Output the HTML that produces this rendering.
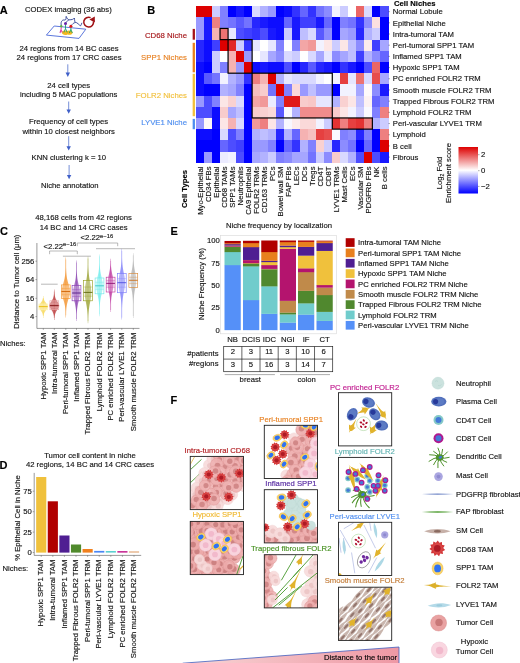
<!DOCTYPE html>
<html lang="en"><head><meta charset="utf-8"><title>Figure: cell niches</title>
<style>
html,body{margin:0;padding:0;background:#fff;}
svg{display:block;font-family:'Liberation Sans', sans-serif;font-size:7.7px;fill:#111;}
text{stroke-width:0.22px;stroke-opacity:0.6;}
</style></head><body>
<svg width="520" height="663" viewBox="0 0 520 663">
<rect width="520" height="663" fill="#fff"/>
<text x="-0.3" y="14" font-weight="bold" font-size="11" fill="#000" stroke="#000">A</text>
<text x="68.4" y="11.9" text-anchor="middle" stroke="#111">CODEX imaging (36 abs)</text>
<text x="69.1" y="51.1" text-anchor="middle" stroke="#111">24 regions from 14 BC cases</text>
<text x="69.1" y="60" text-anchor="middle" stroke="#111">24 regions from 17 CRC cases</text>
<text x="68.7" y="87.5" text-anchor="middle" stroke="#111">24 cell types</text>
<text x="68.7" y="97" text-anchor="middle" stroke="#111">including 5 MAC populations</text>
<text x="68.6" y="124" text-anchor="middle" stroke="#111">Frequency of cell types</text>
<text x="68.7" y="133.5" text-anchor="middle" stroke="#111">within 10 closest neighbors</text>
<text x="68.8" y="160.2" text-anchor="middle" stroke="#111">KNN clustering k = 10</text>
<text x="69.8" y="188" text-anchor="middle" stroke="#111">Niche annotation</text>
<line x1="67.8" y1="64.3" x2="67.8" y2="73.5" stroke="#4a6acb" stroke-width="0.75"/>
<path d="M65.6 72.6 L70 72.6 L67.8 77 Z" fill="#3f5fc8"/>
<line x1="68.7" y1="101.5" x2="68.7" y2="110.3" stroke="#4a6acb" stroke-width="0.75"/>
<path d="M66.5 109.4 L70.9 109.4 L68.7 113.8 Z" fill="#3f5fc8"/>
<line x1="68.7" y1="136.2" x2="68.7" y2="147.1" stroke="#4a6acb" stroke-width="0.75"/>
<path d="M66.5 146.2 L70.9 146.2 L68.7 150.6 Z" fill="#3f5fc8"/>
<line x1="69.1" y1="165" x2="69.1" y2="175.8" stroke="#4a6acb" stroke-width="0.75"/>
<path d="M66.9 174.9 L71.3 174.9 L69.1 179.3 Z" fill="#3f5fc8"/>
<path d="M54.2 26 L85.8 29.2 L79 38.4 L46.4 35.1 Z" fill="none" stroke="#4a68d8" stroke-width="0.9"/>
<path d="M61.8 32.6 C61.8 30.6 64.5 30 66.5 31 C68.5 29.8 72.6 30.4 72.6 32.6 C72.6 34.8 69.5 35.4 67.4 34.4 C65.5 35.6 61.8 34.8 61.8 32.6Z" fill="#f1b822"/>
<path d="M63.9 32.4 L65.5 28.6 L67.2 32.4 M65.5 28.8 L65.5 24.8" stroke="#18a070" stroke-width="0.9" fill="none"/>
<path d="M69.4 33 L70.9 29.4 L72.3 33 M70.9 29.6 L70.9 27.2" stroke="#18a060" stroke-width="0.9" fill="none"/>
<path d="M60 33 L61 29.6 L62.2 32.4 M61 29.8 L61.3 27.2" stroke="#e040a8" stroke-width="1.1" fill="none"/>
<circle cx="65.5" cy="23.4" r="1.5" fill="#6a22a8"/>
<circle cx="70.9" cy="26.3" r="1.5" fill="#e01414"/>
<circle cx="61.2" cy="26.2" r="1.2" fill="#58b040"/>
<path d="M61.2 25.2 C60.6 21 62.5 19.6 64.8 20 C66.8 20 65.6 17.2 66.2 16.4 C67 18.4 67.8 19.8 69.2 19.8 C71.6 19.8 73.6 19.4 74.4 18 C74.6 20.2 74.8 22 75.2 22.4 C77.2 22 79.2 25.4 80.6 25.8 C81.4 24.8 81.6 23.6 81.9 22.8" fill="none" stroke="#2e4094" stroke-width="0.9"/>
<path d="M66.2 22.6 C66.6 21.4 67.6 20.4 69.2 19.8 M71.4 25.2 C72.2 24 73.6 23 75.2 22.4" fill="none" stroke="#2e4094" stroke-width="0.8"/>
<path d="M90.6 17.6 A4.9 4.9 0 1 0 93.5 21.4" fill="none" stroke="#a01216" stroke-width="1.5"/>
<path d="M89.4 19.4 L94.8 16.6 L94.9 22.6 Z" fill="#a01216"/>
<text x="147.2" y="14.4" font-weight="bold" font-size="11" fill="#000" stroke="#000">B</text>
<g shape-rendering="crispEdges">
<rect x="196" y="6.05" width="8.22" height="11.39" fill="#dd0000"/>
<rect x="204.02" y="6.05" width="8.22" height="11.39" fill="#dd0000"/>
<rect x="212.03" y="6.05" width="8.22" height="11.39" fill="#ccccff"/>
<rect x="220.05" y="6.05" width="8.22" height="11.39" fill="#8080ff"/>
<rect x="228.07" y="6.05" width="8.22" height="11.39" fill="#0000ff"/>
<rect x="236.08" y="6.05" width="8.22" height="11.39" fill="#1919ff"/>
<rect x="244.1" y="6.05" width="8.22" height="11.39" fill="#0000ff"/>
<rect x="252.12" y="6.05" width="8.22" height="11.39" fill="#d9d9ff"/>
<rect x="260.14" y="6.05" width="8.22" height="11.39" fill="#b2b2ff"/>
<rect x="268.15" y="6.05" width="8.22" height="11.39" fill="#9999ff"/>
<rect x="276.17" y="6.05" width="8.22" height="11.39" fill="#0000ff"/>
<rect x="284.19" y="6.05" width="8.22" height="11.39" fill="#0d0dff"/>
<rect x="292.2" y="6.05" width="8.22" height="11.39" fill="#3333ff"/>
<rect x="300.22" y="6.05" width="8.22" height="11.39" fill="#6666ff"/>
<rect x="308.24" y="6.05" width="8.22" height="11.39" fill="#3333ff"/>
<rect x="316.25" y="6.05" width="8.22" height="11.39" fill="#7373ff"/>
<rect x="324.27" y="6.05" width="8.22" height="11.39" fill="#8c8cff"/>
<rect x="332.29" y="6.05" width="8.22" height="11.39" fill="#f2f2ff"/>
<rect x="340.31" y="6.05" width="8.22" height="11.39" fill="#ccccff"/>
<rect x="348.32" y="6.05" width="8.22" height="11.39" fill="#ffffff"/>
<rect x="356.34" y="6.05" width="8.22" height="11.39" fill="#eb6666"/>
<rect x="364.36" y="6.05" width="8.22" height="11.39" fill="#d9d9ff"/>
<rect x="372.37" y="6.05" width="8.22" height="11.39" fill="#0000ff"/>
<rect x="380.39" y="6.05" width="8.22" height="11.39" fill="#4d4dff"/>
<rect x="196" y="17.24" width="8.22" height="11.39" fill="#9999ff"/>
<rect x="204.02" y="17.24" width="8.22" height="11.39" fill="#1919ff"/>
<rect x="212.03" y="17.24" width="8.22" height="11.39" fill="#ee8080"/>
<rect x="220.05" y="17.24" width="8.22" height="11.39" fill="#8080ff"/>
<rect x="228.07" y="17.24" width="8.22" height="11.39" fill="#7373ff"/>
<rect x="236.08" y="17.24" width="8.22" height="11.39" fill="#5959ff"/>
<rect x="244.1" y="17.24" width="8.22" height="11.39" fill="#7373ff"/>
<rect x="252.12" y="17.24" width="8.22" height="11.39" fill="#2626ff"/>
<rect x="260.14" y="17.24" width="8.22" height="11.39" fill="#1919ff"/>
<rect x="268.15" y="17.24" width="8.22" height="11.39" fill="#0d0dff"/>
<rect x="276.17" y="17.24" width="8.22" height="11.39" fill="#0d0dff"/>
<rect x="284.19" y="17.24" width="8.22" height="11.39" fill="#6666ff"/>
<rect x="292.2" y="17.24" width="8.22" height="11.39" fill="#1919ff"/>
<rect x="300.22" y="17.24" width="8.22" height="11.39" fill="#4040ff"/>
<rect x="308.24" y="17.24" width="8.22" height="11.39" fill="#4040ff"/>
<rect x="316.25" y="17.24" width="8.22" height="11.39" fill="#1919ff"/>
<rect x="324.27" y="17.24" width="8.22" height="11.39" fill="#6666ff"/>
<rect x="332.29" y="17.24" width="8.22" height="11.39" fill="#0000ff"/>
<rect x="340.31" y="17.24" width="8.22" height="11.39" fill="#8080ff"/>
<rect x="348.32" y="17.24" width="8.22" height="11.39" fill="#7373ff"/>
<rect x="356.34" y="17.24" width="8.22" height="11.39" fill="#3333ff"/>
<rect x="364.36" y="17.24" width="8.22" height="11.39" fill="#8c8cff"/>
<rect x="372.37" y="17.24" width="8.22" height="11.39" fill="#fbe0e0"/>
<rect x="380.39" y="17.24" width="8.22" height="11.39" fill="#0000ff"/>
<rect x="196" y="28.43" width="8.22" height="11.39" fill="#9999ff"/>
<rect x="204.02" y="28.43" width="8.22" height="11.39" fill="#1919ff"/>
<rect x="212.03" y="28.43" width="8.22" height="11.39" fill="#f5b2b2"/>
<rect x="220.05" y="28.43" width="8.22" height="11.39" fill="#ec7373"/>
<rect x="228.07" y="28.43" width="8.22" height="11.39" fill="#e6e6ff"/>
<rect x="236.08" y="28.43" width="8.22" height="11.39" fill="#4d4dff"/>
<rect x="244.1" y="28.43" width="8.22" height="11.39" fill="#4040ff"/>
<rect x="252.12" y="28.43" width="8.22" height="11.39" fill="#3333ff"/>
<rect x="260.14" y="28.43" width="8.22" height="11.39" fill="#4d4dff"/>
<rect x="268.15" y="28.43" width="8.22" height="11.39" fill="#1919ff"/>
<rect x="276.17" y="28.43" width="8.22" height="11.39" fill="#0d0dff"/>
<rect x="284.19" y="28.43" width="8.22" height="11.39" fill="#ccccff"/>
<rect x="292.2" y="28.43" width="8.22" height="11.39" fill="#1919ff"/>
<rect x="300.22" y="28.43" width="8.22" height="11.39" fill="#bfbfff"/>
<rect x="308.24" y="28.43" width="8.22" height="11.39" fill="#d9d9ff"/>
<rect x="316.25" y="28.43" width="8.22" height="11.39" fill="#5959ff"/>
<rect x="324.27" y="28.43" width="8.22" height="11.39" fill="#8c8cff"/>
<rect x="332.29" y="28.43" width="8.22" height="11.39" fill="#0000ff"/>
<rect x="340.31" y="28.43" width="8.22" height="11.39" fill="#a6a6ff"/>
<rect x="348.32" y="28.43" width="8.22" height="11.39" fill="#9999ff"/>
<rect x="356.34" y="28.43" width="8.22" height="11.39" fill="#2626ff"/>
<rect x="364.36" y="28.43" width="8.22" height="11.39" fill="#b2b2ff"/>
<rect x="372.37" y="28.43" width="8.22" height="11.39" fill="#ccccff"/>
<rect x="380.39" y="28.43" width="8.22" height="11.39" fill="#0000ff"/>
<rect x="196" y="39.62" width="8.22" height="11.39" fill="#2626ff"/>
<rect x="204.02" y="39.62" width="8.22" height="11.39" fill="#0d0dff"/>
<rect x="212.03" y="39.62" width="8.22" height="11.39" fill="#4040ff"/>
<rect x="220.05" y="39.62" width="8.22" height="11.39" fill="#dd0000"/>
<rect x="228.07" y="39.62" width="8.22" height="11.39" fill="#e22626"/>
<rect x="236.08" y="39.62" width="8.22" height="11.39" fill="#ccccff"/>
<rect x="244.1" y="39.62" width="8.22" height="11.39" fill="#3333ff"/>
<rect x="252.12" y="39.62" width="8.22" height="11.39" fill="#e6e6ff"/>
<rect x="260.14" y="39.62" width="8.22" height="11.39" fill="#ffffff"/>
<rect x="268.15" y="39.62" width="8.22" height="11.39" fill="#e6e6ff"/>
<rect x="276.17" y="39.62" width="8.22" height="11.39" fill="#8080ff"/>
<rect x="284.19" y="39.62" width="8.22" height="11.39" fill="#ffffff"/>
<rect x="292.2" y="39.62" width="8.22" height="11.39" fill="#8080ff"/>
<rect x="300.22" y="39.62" width="8.22" height="11.39" fill="#f3a6a6"/>
<rect x="308.24" y="39.62" width="8.22" height="11.39" fill="#f19999"/>
<rect x="316.25" y="39.62" width="8.22" height="11.39" fill="#f2f2ff"/>
<rect x="324.27" y="39.62" width="8.22" height="11.39" fill="#fce6e6"/>
<rect x="332.29" y="39.62" width="8.22" height="11.39" fill="#ccccff"/>
<rect x="340.31" y="39.62" width="8.22" height="11.39" fill="#fce6e6"/>
<rect x="348.32" y="39.62" width="8.22" height="11.39" fill="#bfbfff"/>
<rect x="356.34" y="39.62" width="8.22" height="11.39" fill="#8c8cff"/>
<rect x="364.36" y="39.62" width="8.22" height="11.39" fill="#fcebeb"/>
<rect x="372.37" y="39.62" width="8.22" height="11.39" fill="#4040ff"/>
<rect x="380.39" y="39.62" width="8.22" height="11.39" fill="#a6a6ff"/>
<rect x="196" y="50.81" width="8.22" height="11.39" fill="#2626ff"/>
<rect x="204.02" y="50.81" width="8.22" height="11.39" fill="#0d0dff"/>
<rect x="212.03" y="50.81" width="8.22" height="11.39" fill="#ccccff"/>
<rect x="220.05" y="50.81" width="8.22" height="11.39" fill="#ffffff"/>
<rect x="228.07" y="50.81" width="8.22" height="11.39" fill="#f5b2b2"/>
<rect x="236.08" y="50.81" width="8.22" height="11.39" fill="#dd0000"/>
<rect x="244.1" y="50.81" width="8.22" height="11.39" fill="#9999ff"/>
<rect x="252.12" y="50.81" width="8.22" height="11.39" fill="#ffffff"/>
<rect x="260.14" y="50.81" width="8.22" height="11.39" fill="#e6e6ff"/>
<rect x="268.15" y="50.81" width="8.22" height="11.39" fill="#a6a6ff"/>
<rect x="276.17" y="50.81" width="8.22" height="11.39" fill="#8c8cff"/>
<rect x="284.19" y="50.81" width="8.22" height="11.39" fill="#d9d9ff"/>
<rect x="292.2" y="50.81" width="8.22" height="11.39" fill="#ccccff"/>
<rect x="300.22" y="50.81" width="8.22" height="11.39" fill="#ffffff"/>
<rect x="308.24" y="50.81" width="8.22" height="11.39" fill="#d9d9ff"/>
<rect x="316.25" y="50.81" width="8.22" height="11.39" fill="#a6a6ff"/>
<rect x="324.27" y="50.81" width="8.22" height="11.39" fill="#e6e6ff"/>
<rect x="332.29" y="50.81" width="8.22" height="11.39" fill="#8c8cff"/>
<rect x="340.31" y="50.81" width="8.22" height="11.39" fill="#a6a6ff"/>
<rect x="348.32" y="50.81" width="8.22" height="11.39" fill="#bfbfff"/>
<rect x="356.34" y="50.81" width="8.22" height="11.39" fill="#4040ff"/>
<rect x="364.36" y="50.81" width="8.22" height="11.39" fill="#b2b2ff"/>
<rect x="372.37" y="50.81" width="8.22" height="11.39" fill="#8c8cff"/>
<rect x="380.39" y="50.81" width="8.22" height="11.39" fill="#6666ff"/>
<rect x="196" y="62" width="8.22" height="11.39" fill="#0d0dff"/>
<rect x="204.02" y="62" width="8.22" height="11.39" fill="#0000ff"/>
<rect x="212.03" y="62" width="8.22" height="11.39" fill="#ccccff"/>
<rect x="220.05" y="62" width="8.22" height="11.39" fill="#8080ff"/>
<rect x="228.07" y="62" width="8.22" height="11.39" fill="#f5b2b2"/>
<rect x="236.08" y="62" width="8.22" height="11.39" fill="#9999ff"/>
<rect x="244.1" y="62" width="8.22" height="11.39" fill="#dd0000"/>
<rect x="252.12" y="62" width="8.22" height="11.39" fill="#0d0dff"/>
<rect x="260.14" y="62" width="8.22" height="11.39" fill="#1919ff"/>
<rect x="268.15" y="62" width="8.22" height="11.39" fill="#0d0dff"/>
<rect x="276.17" y="62" width="8.22" height="11.39" fill="#0d0dff"/>
<rect x="284.19" y="62" width="8.22" height="11.39" fill="#4d4dff"/>
<rect x="292.2" y="62" width="8.22" height="11.39" fill="#0000ff"/>
<rect x="300.22" y="62" width="8.22" height="11.39" fill="#2626ff"/>
<rect x="308.24" y="62" width="8.22" height="11.39" fill="#5959ff"/>
<rect x="316.25" y="62" width="8.22" height="11.39" fill="#2626ff"/>
<rect x="324.27" y="62" width="8.22" height="11.39" fill="#1919ff"/>
<rect x="332.29" y="62" width="8.22" height="11.39" fill="#0000ff"/>
<rect x="340.31" y="62" width="8.22" height="11.39" fill="#3333ff"/>
<rect x="348.32" y="62" width="8.22" height="11.39" fill="#1919ff"/>
<rect x="356.34" y="62" width="8.22" height="11.39" fill="#0000ff"/>
<rect x="364.36" y="62" width="8.22" height="11.39" fill="#4d4dff"/>
<rect x="372.37" y="62" width="8.22" height="11.39" fill="#eb6666"/>
<rect x="380.39" y="62" width="8.22" height="11.39" fill="#0000ff"/>
<rect x="196" y="73.19" width="8.22" height="11.39" fill="#0d0dff"/>
<rect x="204.02" y="73.19" width="8.22" height="11.39" fill="#5959ff"/>
<rect x="212.03" y="73.19" width="8.22" height="11.39" fill="#7373ff"/>
<rect x="220.05" y="73.19" width="8.22" height="11.39" fill="#f2f2ff"/>
<rect x="228.07" y="73.19" width="8.22" height="11.39" fill="#b2b2ff"/>
<rect x="236.08" y="73.19" width="8.22" height="11.39" fill="#9999ff"/>
<rect x="244.1" y="73.19" width="8.22" height="11.39" fill="#3333ff"/>
<rect x="252.12" y="73.19" width="8.22" height="11.39" fill="#ee8080"/>
<rect x="260.14" y="73.19" width="8.22" height="11.39" fill="#f5b2b2"/>
<rect x="268.15" y="73.19" width="8.22" height="11.39" fill="#dd0000"/>
<rect x="276.17" y="73.19" width="8.22" height="11.39" fill="#b2b2ff"/>
<rect x="284.19" y="73.19" width="8.22" height="11.39" fill="#e6e6ff"/>
<rect x="292.2" y="73.19" width="8.22" height="11.39" fill="#d9d9ff"/>
<rect x="300.22" y="73.19" width="8.22" height="11.39" fill="#d9d9ff"/>
<rect x="308.24" y="73.19" width="8.22" height="11.39" fill="#d9d9ff"/>
<rect x="316.25" y="73.19" width="8.22" height="11.39" fill="#f2f2ff"/>
<rect x="324.27" y="73.19" width="8.22" height="11.39" fill="#ffffff"/>
<rect x="332.29" y="73.19" width="8.22" height="11.39" fill="#f2f2ff"/>
<rect x="340.31" y="73.19" width="8.22" height="11.39" fill="#e64040"/>
<rect x="348.32" y="73.19" width="8.22" height="11.39" fill="#e6e6ff"/>
<rect x="356.34" y="73.19" width="8.22" height="11.39" fill="#ec7373"/>
<rect x="364.36" y="73.19" width="8.22" height="11.39" fill="#d9d9ff"/>
<rect x="372.37" y="73.19" width="8.22" height="11.39" fill="#e74d4d"/>
<rect x="380.39" y="73.19" width="8.22" height="11.39" fill="#a6a6ff"/>
<rect x="196" y="84.38" width="8.22" height="11.39" fill="#0d0dff"/>
<rect x="204.02" y="84.38" width="8.22" height="11.39" fill="#0000ff"/>
<rect x="212.03" y="84.38" width="8.22" height="11.39" fill="#0000ff"/>
<rect x="220.05" y="84.38" width="8.22" height="11.39" fill="#b2b2ff"/>
<rect x="228.07" y="84.38" width="8.22" height="11.39" fill="#a6a6ff"/>
<rect x="236.08" y="84.38" width="8.22" height="11.39" fill="#8080ff"/>
<rect x="244.1" y="84.38" width="8.22" height="11.39" fill="#0000ff"/>
<rect x="252.12" y="84.38" width="8.22" height="11.39" fill="#f6bfbf"/>
<rect x="260.14" y="84.38" width="8.22" height="11.39" fill="#f8cccc"/>
<rect x="268.15" y="84.38" width="8.22" height="11.39" fill="#7373ff"/>
<rect x="276.17" y="84.38" width="8.22" height="11.39" fill="#dd0000"/>
<rect x="284.19" y="84.38" width="8.22" height="11.39" fill="#8080ff"/>
<rect x="292.2" y="84.38" width="8.22" height="11.39" fill="#fad9d9"/>
<rect x="300.22" y="84.38" width="8.22" height="11.39" fill="#9999ff"/>
<rect x="308.24" y="84.38" width="8.22" height="11.39" fill="#bfbfff"/>
<rect x="316.25" y="84.38" width="8.22" height="11.39" fill="#9999ff"/>
<rect x="324.27" y="84.38" width="8.22" height="11.39" fill="#9999ff"/>
<rect x="332.29" y="84.38" width="8.22" height="11.39" fill="#0000ff"/>
<rect x="340.31" y="84.38" width="8.22" height="11.39" fill="#f2f2ff"/>
<rect x="348.32" y="84.38" width="8.22" height="11.39" fill="#f2f2ff"/>
<rect x="356.34" y="84.38" width="8.22" height="11.39" fill="#a6a6ff"/>
<rect x="364.36" y="84.38" width="8.22" height="11.39" fill="#fefafa"/>
<rect x="372.37" y="84.38" width="8.22" height="11.39" fill="#8c8cff"/>
<rect x="380.39" y="84.38" width="8.22" height="11.39" fill="#1919ff"/>
<rect x="196" y="95.57" width="8.22" height="11.39" fill="#9999ff"/>
<rect x="204.02" y="95.57" width="8.22" height="11.39" fill="#4d4dff"/>
<rect x="212.03" y="95.57" width="8.22" height="11.39" fill="#8080ff"/>
<rect x="220.05" y="95.57" width="8.22" height="11.39" fill="#fce6e6"/>
<rect x="228.07" y="95.57" width="8.22" height="11.39" fill="#f9d1d1"/>
<rect x="236.08" y="95.57" width="8.22" height="11.39" fill="#d9d9ff"/>
<rect x="244.1" y="95.57" width="8.22" height="11.39" fill="#0000ff"/>
<rect x="252.12" y="95.57" width="8.22" height="11.39" fill="#f3a6a6"/>
<rect x="260.14" y="95.57" width="8.22" height="11.39" fill="#f19999"/>
<rect x="268.15" y="95.57" width="8.22" height="11.39" fill="#ebebff"/>
<rect x="276.17" y="95.57" width="8.22" height="11.39" fill="#8080ff"/>
<rect x="284.19" y="95.57" width="8.22" height="11.39" fill="#e01919"/>
<rect x="292.2" y="95.57" width="8.22" height="11.39" fill="#e01919"/>
<rect x="300.22" y="95.57" width="8.22" height="11.39" fill="#f8cccc"/>
<rect x="308.24" y="95.57" width="8.22" height="11.39" fill="#f8c7c7"/>
<rect x="316.25" y="95.57" width="8.22" height="11.39" fill="#e6e6ff"/>
<rect x="324.27" y="95.57" width="8.22" height="11.39" fill="#e6e6ff"/>
<rect x="332.29" y="95.57" width="8.22" height="11.39" fill="#b2b2ff"/>
<rect x="340.31" y="95.57" width="8.22" height="11.39" fill="#f9d1d1"/>
<rect x="348.32" y="95.57" width="8.22" height="11.39" fill="#fce6e6"/>
<rect x="356.34" y="95.57" width="8.22" height="11.39" fill="#bfbfff"/>
<rect x="364.36" y="95.57" width="8.22" height="11.39" fill="#fdf2f2"/>
<rect x="372.37" y="95.57" width="8.22" height="11.39" fill="#6666ff"/>
<rect x="380.39" y="95.57" width="8.22" height="11.39" fill="#8080ff"/>
<rect x="196" y="106.76" width="8.22" height="11.39" fill="#4d4dff"/>
<rect x="204.02" y="106.76" width="8.22" height="11.39" fill="#4d4dff"/>
<rect x="212.03" y="106.76" width="8.22" height="11.39" fill="#0d0dff"/>
<rect x="220.05" y="106.76" width="8.22" height="11.39" fill="#f8cccc"/>
<rect x="228.07" y="106.76" width="8.22" height="11.39" fill="#a6a6ff"/>
<rect x="236.08" y="106.76" width="8.22" height="11.39" fill="#bfbfff"/>
<rect x="244.1" y="106.76" width="8.22" height="11.39" fill="#0000ff"/>
<rect x="252.12" y="106.76" width="8.22" height="11.39" fill="#f8cccc"/>
<rect x="260.14" y="106.76" width="8.22" height="11.39" fill="#f9d1d1"/>
<rect x="268.15" y="106.76" width="8.22" height="11.39" fill="#fad9d9"/>
<rect x="276.17" y="106.76" width="8.22" height="11.39" fill="#5959ff"/>
<rect x="284.19" y="106.76" width="8.22" height="11.39" fill="#fafaff"/>
<rect x="292.2" y="106.76" width="8.22" height="11.39" fill="#b2b2ff"/>
<rect x="300.22" y="106.76" width="8.22" height="11.39" fill="#f08c8c"/>
<rect x="308.24" y="106.76" width="8.22" height="11.39" fill="#f08c8c"/>
<rect x="316.25" y="106.76" width="8.22" height="11.39" fill="#f08c8c"/>
<rect x="324.27" y="106.76" width="8.22" height="11.39" fill="#f08c8c"/>
<rect x="332.29" y="106.76" width="8.22" height="11.39" fill="#f8cccc"/>
<rect x="340.31" y="106.76" width="8.22" height="11.39" fill="#fce6e6"/>
<rect x="348.32" y="106.76" width="8.22" height="11.39" fill="#f2f2ff"/>
<rect x="356.34" y="106.76" width="8.22" height="11.39" fill="#ccccff"/>
<rect x="364.36" y="106.76" width="8.22" height="11.39" fill="#fafaff"/>
<rect x="372.37" y="106.76" width="8.22" height="11.39" fill="#8080ff"/>
<rect x="380.39" y="106.76" width="8.22" height="11.39" fill="#ee8080"/>
<rect x="196" y="117.95" width="8.22" height="11.39" fill="#9999ff"/>
<rect x="204.02" y="117.95" width="8.22" height="11.39" fill="#fef7f7"/>
<rect x="212.03" y="117.95" width="8.22" height="11.39" fill="#0d0dff"/>
<rect x="220.05" y="117.95" width="8.22" height="11.39" fill="#fce6e6"/>
<rect x="228.07" y="117.95" width="8.22" height="11.39" fill="#f5b2b2"/>
<rect x="236.08" y="117.95" width="8.22" height="11.39" fill="#d9d9ff"/>
<rect x="244.1" y="117.95" width="8.22" height="11.39" fill="#0000ff"/>
<rect x="252.12" y="117.95" width="8.22" height="11.39" fill="#f19999"/>
<rect x="260.14" y="117.95" width="8.22" height="11.39" fill="#ee8080"/>
<rect x="268.15" y="117.95" width="8.22" height="11.39" fill="#fce6e6"/>
<rect x="276.17" y="117.95" width="8.22" height="11.39" fill="#b2b2ff"/>
<rect x="284.19" y="117.95" width="8.22" height="11.39" fill="#f7f7ff"/>
<rect x="292.2" y="117.95" width="8.22" height="11.39" fill="#fcebeb"/>
<rect x="300.22" y="117.95" width="8.22" height="11.39" fill="#fad9d9"/>
<rect x="308.24" y="117.95" width="8.22" height="11.39" fill="#fad9d9"/>
<rect x="316.25" y="117.95" width="8.22" height="11.39" fill="#f2f2ff"/>
<rect x="324.27" y="117.95" width="8.22" height="11.39" fill="#ccccff"/>
<rect x="332.29" y="117.95" width="8.22" height="11.39" fill="#e43333"/>
<rect x="340.31" y="117.95" width="8.22" height="11.39" fill="#ee8080"/>
<rect x="348.32" y="117.95" width="8.22" height="11.39" fill="#e64040"/>
<rect x="356.34" y="117.95" width="8.22" height="11.39" fill="#e43333"/>
<rect x="364.36" y="117.95" width="8.22" height="11.39" fill="#ee8080"/>
<rect x="372.37" y="117.95" width="8.22" height="11.39" fill="#b2b2ff"/>
<rect x="380.39" y="117.95" width="8.22" height="11.39" fill="#ccccff"/>
<rect x="196" y="129.14" width="8.22" height="11.39" fill="#0d0dff"/>
<rect x="204.02" y="129.14" width="8.22" height="11.39" fill="#0d0dff"/>
<rect x="212.03" y="129.14" width="8.22" height="11.39" fill="#0000ff"/>
<rect x="220.05" y="129.14" width="8.22" height="11.39" fill="#d9d9ff"/>
<rect x="228.07" y="129.14" width="8.22" height="11.39" fill="#4d4dff"/>
<rect x="236.08" y="129.14" width="8.22" height="11.39" fill="#8080ff"/>
<rect x="244.1" y="129.14" width="8.22" height="11.39" fill="#0000ff"/>
<rect x="252.12" y="129.14" width="8.22" height="11.39" fill="#b2b2ff"/>
<rect x="260.14" y="129.14" width="8.22" height="11.39" fill="#bfbfff"/>
<rect x="268.15" y="129.14" width="8.22" height="11.39" fill="#b2b2ff"/>
<rect x="276.17" y="129.14" width="8.22" height="11.39" fill="#2626ff"/>
<rect x="284.19" y="129.14" width="8.22" height="11.39" fill="#b2b2ff"/>
<rect x="292.2" y="129.14" width="8.22" height="11.39" fill="#6666ff"/>
<rect x="300.22" y="129.14" width="8.22" height="11.39" fill="#f5b2b2"/>
<rect x="308.24" y="129.14" width="8.22" height="11.39" fill="#f6bfbf"/>
<rect x="316.25" y="129.14" width="8.22" height="11.39" fill="#e64040"/>
<rect x="324.27" y="129.14" width="8.22" height="11.39" fill="#e74d4d"/>
<rect x="332.29" y="129.14" width="8.22" height="11.39" fill="#fafaff"/>
<rect x="340.31" y="129.14" width="8.22" height="11.39" fill="#8080ff"/>
<rect x="348.32" y="129.14" width="8.22" height="11.39" fill="#8c8cff"/>
<rect x="356.34" y="129.14" width="8.22" height="11.39" fill="#2626ff"/>
<rect x="364.36" y="129.14" width="8.22" height="11.39" fill="#8080ff"/>
<rect x="372.37" y="129.14" width="8.22" height="11.39" fill="#0000ff"/>
<rect x="380.39" y="129.14" width="8.22" height="11.39" fill="#ee8080"/>
<rect x="196" y="140.33" width="8.22" height="11.39" fill="#0000ff"/>
<rect x="204.02" y="140.33" width="8.22" height="11.39" fill="#0000ff"/>
<rect x="212.03" y="140.33" width="8.22" height="11.39" fill="#0000ff"/>
<rect x="220.05" y="140.33" width="8.22" height="11.39" fill="#6666ff"/>
<rect x="228.07" y="140.33" width="8.22" height="11.39" fill="#4d4dff"/>
<rect x="236.08" y="140.33" width="8.22" height="11.39" fill="#4040ff"/>
<rect x="244.1" y="140.33" width="8.22" height="11.39" fill="#0000ff"/>
<rect x="252.12" y="140.33" width="8.22" height="11.39" fill="#9999ff"/>
<rect x="260.14" y="140.33" width="8.22" height="11.39" fill="#9999ff"/>
<rect x="268.15" y="140.33" width="8.22" height="11.39" fill="#8080ff"/>
<rect x="276.17" y="140.33" width="8.22" height="11.39" fill="#0000ff"/>
<rect x="284.19" y="140.33" width="8.22" height="11.39" fill="#6666ff"/>
<rect x="292.2" y="140.33" width="8.22" height="11.39" fill="#3333ff"/>
<rect x="300.22" y="140.33" width="8.22" height="11.39" fill="#b2b2ff"/>
<rect x="308.24" y="140.33" width="8.22" height="11.39" fill="#8080ff"/>
<rect x="316.25" y="140.33" width="8.22" height="11.39" fill="#f9d1d1"/>
<rect x="324.27" y="140.33" width="8.22" height="11.39" fill="#ccccff"/>
<rect x="332.29" y="140.33" width="8.22" height="11.39" fill="#2626ff"/>
<rect x="340.31" y="140.33" width="8.22" height="11.39" fill="#8c8cff"/>
<rect x="348.32" y="140.33" width="8.22" height="11.39" fill="#7373ff"/>
<rect x="356.34" y="140.33" width="8.22" height="11.39" fill="#0000ff"/>
<rect x="364.36" y="140.33" width="8.22" height="11.39" fill="#6666ff"/>
<rect x="372.37" y="140.33" width="8.22" height="11.39" fill="#0000ff"/>
<rect x="380.39" y="140.33" width="8.22" height="11.39" fill="#dd0000"/>
<rect x="196" y="151.52" width="8.22" height="11.39" fill="#0000ff"/>
<rect x="204.02" y="151.52" width="8.22" height="11.39" fill="#9999ff"/>
<rect x="212.03" y="151.52" width="8.22" height="11.39" fill="#0000ff"/>
<rect x="220.05" y="151.52" width="8.22" height="11.39" fill="#ebebff"/>
<rect x="228.07" y="151.52" width="8.22" height="11.39" fill="#f2f2ff"/>
<rect x="236.08" y="151.52" width="8.22" height="11.39" fill="#4d4dff"/>
<rect x="244.1" y="151.52" width="8.22" height="11.39" fill="#0000ff"/>
<rect x="252.12" y="151.52" width="8.22" height="11.39" fill="#a6a6ff"/>
<rect x="260.14" y="151.52" width="8.22" height="11.39" fill="#b2b2ff"/>
<rect x="268.15" y="151.52" width="8.22" height="11.39" fill="#ccccff"/>
<rect x="276.17" y="151.52" width="8.22" height="11.39" fill="#8080ff"/>
<rect x="284.19" y="151.52" width="8.22" height="11.39" fill="#8c8cff"/>
<rect x="292.2" y="151.52" width="8.22" height="11.39" fill="#a6a6ff"/>
<rect x="300.22" y="151.52" width="8.22" height="11.39" fill="#a6a6ff"/>
<rect x="308.24" y="151.52" width="8.22" height="11.39" fill="#7373ff"/>
<rect x="316.25" y="151.52" width="8.22" height="11.39" fill="#ccccff"/>
<rect x="324.27" y="151.52" width="8.22" height="11.39" fill="#8c8cff"/>
<rect x="332.29" y="151.52" width="8.22" height="11.39" fill="#f8cccc"/>
<rect x="340.31" y="151.52" width="8.22" height="11.39" fill="#d9d9ff"/>
<rect x="348.32" y="151.52" width="8.22" height="11.39" fill="#b2b2ff"/>
<rect x="356.34" y="151.52" width="8.22" height="11.39" fill="#4d4dff"/>
<rect x="364.36" y="151.52" width="8.22" height="11.39" fill="#dd0000"/>
<rect x="372.37" y="151.52" width="8.22" height="11.39" fill="#4d4dff"/>
<rect x="380.39" y="151.52" width="8.22" height="11.39" fill="#1919ff"/>
</g>
<rect x="220.05" y="28.43" width="8.02" height="11.19" fill="none" stroke="#000" stroke-width="1.2"/>
<rect x="228.07" y="39.62" width="24.05" height="33.57" fill="none" stroke="#000" stroke-width="1.2"/>
<rect x="252.12" y="73.19" width="80.17" height="44.76" fill="none" stroke="#000" stroke-width="1.2"/>
<rect x="332.29" y="117.95" width="40.08" height="11.19" fill="none" stroke="#000" stroke-width="1.2"/>
<line x1="388.41" y1="11.64" x2="390.01" y2="11.64" stroke="#333" stroke-width="0.4"/>
<text x="392.8" y="14.34" stroke="#111">Normal Lobule</text>
<line x1="388.41" y1="22.84" x2="390.01" y2="22.84" stroke="#333" stroke-width="0.4"/>
<text x="392.8" y="25.54" stroke="#111">Epithelial Niche</text>
<line x1="388.41" y1="34.02" x2="390.01" y2="34.02" stroke="#333" stroke-width="0.4"/>
<text x="392.8" y="36.73" stroke="#111">Intra-tumoral TAM</text>
<line x1="388.41" y1="45.21" x2="390.01" y2="45.21" stroke="#333" stroke-width="0.4"/>
<text x="392.8" y="47.91" stroke="#111">Peri-tumoral SPP1 TAM</text>
<line x1="388.41" y1="56.4" x2="390.01" y2="56.4" stroke="#333" stroke-width="0.4"/>
<text x="392.8" y="59.1" stroke="#111">Inflamed SPP1 TAM</text>
<line x1="388.41" y1="67.59" x2="390.01" y2="67.59" stroke="#333" stroke-width="0.4"/>
<text x="392.8" y="70.3" stroke="#111">Hypoxic SPP1 TAM</text>
<line x1="388.41" y1="78.78" x2="390.01" y2="78.78" stroke="#333" stroke-width="0.4"/>
<text x="392.8" y="81.48" stroke="#111">PC enriched FOLR2 TRM</text>
<line x1="388.41" y1="89.97" x2="390.01" y2="89.97" stroke="#333" stroke-width="0.4"/>
<text x="392.8" y="92.67" stroke="#111">Smooth muscle FOLR2 TRM</text>
<line x1="388.41" y1="101.16" x2="390.01" y2="101.16" stroke="#333" stroke-width="0.4"/>
<text x="392.8" y="103.86" stroke="#111">Trapped Fibrous FOLR2 TRM</text>
<line x1="388.41" y1="112.35" x2="390.01" y2="112.35" stroke="#333" stroke-width="0.4"/>
<text x="392.8" y="115.05" stroke="#111">Lymphoid FOLR2 TRM</text>
<line x1="388.41" y1="123.54" x2="390.01" y2="123.54" stroke="#333" stroke-width="0.4"/>
<text x="392.8" y="126.24" stroke="#111">Peri-vascular LYVE1 TRM</text>
<line x1="388.41" y1="134.74" x2="390.01" y2="134.74" stroke="#333" stroke-width="0.4"/>
<text x="392.8" y="137.44" stroke="#111">Lymphoid</text>
<line x1="388.41" y1="145.93" x2="390.01" y2="145.93" stroke="#333" stroke-width="0.4"/>
<text x="392.8" y="148.62" stroke="#111">B cell</text>
<line x1="388.41" y1="157.12" x2="390.01" y2="157.12" stroke="#333" stroke-width="0.4"/>
<text x="392.8" y="159.81" stroke="#111">Fibrous</text>
<text x="394" y="6" font-weight="bold" fill="#000" stroke="#000">Cell Niches</text>
<text text-anchor="end" stroke="#111" transform="translate(202.71 166.5) rotate(-90)">Myo-Epithelial</text>
<text text-anchor="end" stroke="#111" transform="translate(210.73 166.5) rotate(-90)">CD34 FBs</text>
<text text-anchor="end" stroke="#111" transform="translate(218.74 166.5) rotate(-90)">Epithelial</text>
<text text-anchor="end" stroke="#111" transform="translate(226.76 166.5) rotate(-90)">CD68 TAMs</text>
<text text-anchor="end" stroke="#111" transform="translate(234.78 166.5) rotate(-90)">SPP1 TAMs</text>
<text text-anchor="end" stroke="#111" transform="translate(242.79 166.5) rotate(-90)">Neutrophils</text>
<text text-anchor="end" stroke="#111" transform="translate(250.81 166.5) rotate(-90)">CA9 Epithelial</text>
<text text-anchor="end" stroke="#111" transform="translate(258.83 166.5) rotate(-90)">FOLR2 TRMs</text>
<text text-anchor="end" stroke="#111" transform="translate(266.84 166.5) rotate(-90)">CD163 TRMs</text>
<text text-anchor="end" stroke="#111" transform="translate(274.86 166.5) rotate(-90)">PCs</text>
<text text-anchor="end" stroke="#111" transform="translate(282.88 166.5) rotate(-90)">Bowel wall SM</text>
<text text-anchor="end" stroke="#111" transform="translate(290.9 166.5) rotate(-90)">FAP FBs</text>
<text text-anchor="end" stroke="#111" transform="translate(298.91 166.5) rotate(-90)">LECs</text>
<text text-anchor="end" stroke="#111" transform="translate(306.93 166.5) rotate(-90)">DCs</text>
<text text-anchor="end" stroke="#111" transform="translate(314.95 166.5) rotate(-90)">Tregs</text>
<text text-anchor="end" stroke="#111" transform="translate(322.96 166.5) rotate(-90)">CD4T</text>
<text text-anchor="end" stroke="#111" transform="translate(330.98 166.5) rotate(-90)">CD8T</text>
<text text-anchor="end" stroke="#111" transform="translate(339 166.5) rotate(-90)">LYVE1 TRMs</text>
<text text-anchor="end" stroke="#111" transform="translate(347.01 166.5) rotate(-90)">Mast Cells</text>
<text text-anchor="end" stroke="#111" transform="translate(355.03 166.5) rotate(-90)">ECs</text>
<text text-anchor="end" stroke="#111" transform="translate(363.05 166.5) rotate(-90)">Vascular SM</text>
<text text-anchor="end" stroke="#111" transform="translate(371.07 166.5) rotate(-90)">PDGFRb FBs</text>
<text text-anchor="end" stroke="#111" transform="translate(379.08 166.5) rotate(-90)">NK</text>
<text text-anchor="end" stroke="#111" transform="translate(387.1 166.5) rotate(-90)">B cells</text>
<text text-anchor="middle" font-weight="bold" fill="#000" stroke="#000" transform="translate(187.3 189) rotate(-90)">Cell Types</text>
<line x1="193.8" y1="28.9" x2="193.8" y2="39.7" stroke="#a51417" stroke-width="2.3"/>
<text x="187" y="37.9" text-anchor="end" font-size="7.8" fill="#a51417" stroke="#a51417">CD68 Niche</text>
<line x1="193.8" y1="42.8" x2="193.8" y2="72.3" stroke="#e8801f" stroke-width="2.3"/>
<text x="187" y="59.7" text-anchor="end" font-size="7.8" fill="#e8801f" stroke="#e8801f">SPP1 Niches</text>
<line x1="193.8" y1="73.8" x2="193.8" y2="116.2" stroke="#f2bf3a" stroke-width="2.3"/>
<text x="187" y="98.2" text-anchor="end" font-size="7.8" fill="#f2bf3a" stroke="#f2bf3a">FOLR2 Niches</text>
<line x1="193.8" y1="118.9" x2="193.8" y2="129.2" stroke="#4d8df0" stroke-width="2.3"/>
<text x="187" y="124.6" text-anchor="end" font-size="7.8" fill="#4d8df0" stroke="#4d8df0">LYVE1 Niche</text>
<defs><linearGradient id="cb" x1="0" y1="0" x2="0" y2="1"><stop offset="0" stop-color="#dd0000"/><stop offset="0.5" stop-color="#fff"/><stop offset="1" stop-color="#0000ff"/></linearGradient></defs>
<rect x="458.5" y="147" width="19.5" height="46.5" fill="url(#cb)"/>
<line x1="478" y1="154.7" x2="479.6" y2="154.7" stroke="#333" stroke-width="0.4"/>
<text x="481" y="157.4" stroke="#111">2</text>
<line x1="478" y1="170.7" x2="479.6" y2="170.7" stroke="#333" stroke-width="0.4"/>
<text x="481" y="173.4" stroke="#111">0</text>
<line x1="478" y1="186.4" x2="479.6" y2="186.4" stroke="#333" stroke-width="0.4"/>
<text x="481" y="189.1" stroke="#111">−2</text>
<text stroke="#111" transform="translate(442.4 173) rotate(-90)" text-anchor="middle">Log<tspan font-size="5" dy="1.5">2</tspan><tspan dy="-1.5"> Fold</tspan></text>
<text text-anchor="middle" stroke="#111" transform="translate(451.2 173) rotate(-90)">Enrichment score</text>
<text x="0.1" y="234.8" font-weight="bold" font-size="11" fill="#000" stroke="#000">C</text>
<text x="83.6" y="220.2" text-anchor="middle" stroke="#111">48,168 cells from 42 regions</text>
<text x="83.7" y="229.6" text-anchor="middle" stroke="#111">14 BC and 14 CRC cases</text>
<line x1="36.9" y1="243" x2="36.9" y2="328.4" stroke="#333" stroke-width="0.5"/>
<line x1="36.9" y1="328.4" x2="139.5" y2="328.4" stroke="#333" stroke-width="0.5"/>
<line x1="35.4" y1="261.2" x2="36.9" y2="261.2" stroke="#333" stroke-width="0.4"/>
<text x="34.4" y="263.9" text-anchor="end" stroke="#111">256</text>
<line x1="35.4" y1="279.6" x2="36.9" y2="279.6" stroke="#333" stroke-width="0.4"/>
<text x="34.4" y="282.3" text-anchor="end" stroke="#111">64</text>
<line x1="35.4" y1="298.3" x2="36.9" y2="298.3" stroke="#333" stroke-width="0.4"/>
<text x="34.4" y="301" text-anchor="end" stroke="#111">16</text>
<line x1="35.4" y1="316.6" x2="36.9" y2="316.6" stroke="#333" stroke-width="0.4"/>
<text x="34.4" y="319.3" text-anchor="end" stroke="#111">4</text>
<text text-anchor="middle" stroke="#111" transform="translate(19.2 281.7) rotate(-90)">Distance to Tumor cell (μm)</text>
<path d="M43.1 296 L43.1 296.55 L43.1 297.1 L43.07 297.65 L42.98 298.2 L42.86 298.75 L42.71 299.3 L42.52 299.85 L42.28 300.4 L42 300.95 L41.67 301.5 L41.3 302.05 L40.9 302.6 L40.49 303.15 L40.07 303.7 L39.68 304.25 L39.34 304.8 L39.07 305.35 L38.89 305.9 L38.8 306.45 L38.83 307 L38.96 307.55 L39.18 308.1 L39.48 308.65 L39.84 309.2 L40.23 309.75 L40.64 310.3 L41.05 310.85 L41.43 311.4 L41.78 311.95 L42.09 312.5 L42.35 313.05 L42.56 313.6 L42.74 314.15 L42.88 314.7 L42.99 315.25 L43.07 315.8 L43.1 316.35 L43.1 316.9 L43.1 317.45 L43.1 318 L43.5 318 L43.5 317.45 L43.5 316.9 L43.5 316.35 L43.53 315.8 L43.61 315.25 L43.72 314.7 L43.86 314.15 L44.04 313.6 L44.25 313.05 L44.51 312.5 L44.82 311.95 L45.17 311.4 L45.55 310.85 L45.96 310.3 L46.37 309.75 L46.76 309.2 L47.12 308.65 L47.42 308.1 L47.64 307.55 L47.77 307 L47.8 306.45 L47.71 305.9 L47.53 305.35 L47.26 304.8 L46.92 304.25 L46.53 303.7 L46.11 303.15 L45.7 302.6 L45.3 302.05 L44.93 301.5 L44.6 300.95 L44.32 300.4 L44.08 299.85 L43.89 299.3 L43.74 298.75 L43.62 298.2 L43.53 297.65 L43.5 297.1 L43.5 296.55 L43.5 296Z" fill="#f6d23c" fill-opacity="0.66"/>
<line x1="43.3" y1="298" x2="43.3" y2="316" stroke="#f6d23c" stroke-width="0.5" stroke-opacity="0.6"/>
<path d="M54.1 289.5 L54.1 290.26 L54.1 291.02 L54.1 291.79 L54.1 292.55 L54.08 293.31 L54.01 294.07 L53.92 294.84 L53.81 295.6 L53.65 296.36 L53.44 297.12 L53.18 297.89 L52.86 298.65 L52.47 299.41 L52.03 300.18 L51.54 300.94 L51.04 301.7 L50.54 302.46 L50.09 303.23 L49.73 303.99 L49.5 304.75 L49.4 305.51 L49.46 306.27 L49.67 307.04 L50.01 307.8 L50.45 308.56 L50.95 309.32 L51.47 310.09 L51.98 310.85 L52.44 311.61 L52.85 312.38 L53.19 313.14 L53.47 313.9 L53.69 314.66 L53.85 315.43 L53.98 316.19 L54.07 316.95 L54.1 317.71 L54.1 318.48 L54.1 319.24 L54.1 320 L54.5 320 L54.5 319.24 L54.5 318.48 L54.5 317.71 L54.53 316.95 L54.62 316.19 L54.75 315.43 L54.91 314.66 L55.13 313.9 L55.41 313.14 L55.75 312.38 L56.16 311.61 L56.62 310.85 L57.13 310.09 L57.65 309.32 L58.15 308.56 L58.59 307.8 L58.93 307.04 L59.14 306.27 L59.2 305.51 L59.1 304.75 L58.87 303.99 L58.51 303.23 L58.06 302.46 L57.56 301.7 L57.06 300.94 L56.57 300.18 L56.13 299.41 L55.74 298.65 L55.42 297.89 L55.16 297.12 L54.95 296.36 L54.79 295.6 L54.68 294.84 L54.59 294.07 L54.52 293.31 L54.5 292.55 L54.5 291.79 L54.5 291.02 L54.5 290.26 L54.5 289.5Z" fill="#b01a1c" fill-opacity="0.66"/>
<line x1="54.3" y1="291.5" x2="54.3" y2="318" stroke="#b01a1c" stroke-width="0.5" stroke-opacity="0.6"/>
<path d="M65.6 257.5 L65.6 259 L65.6 260.5 L65.6 261.99 L65.6 263.49 L65.6 264.99 L65.6 266.49 L65.57 267.98 L65.51 269.48 L65.44 270.98 L65.34 272.48 L65.2 273.97 L65.03 275.47 L64.81 276.97 L64.54 278.46 L64.21 279.96 L63.82 281.46 L63.4 282.96 L62.97 284.45 L62.55 285.95 L62.18 287.45 L61.9 288.95 L61.73 290.44 L61.71 291.94 L61.82 293.44 L62.07 294.94 L62.42 296.44 L62.84 297.93 L63.3 299.43 L63.75 300.93 L64.17 302.42 L64.55 303.92 L64.86 305.42 L65.11 306.92 L65.3 308.41 L65.45 309.91 L65.55 311.41 L65.6 312.91 L65.6 314.4 L65.6 315.9 L65.6 317.4 L66 317.4 L66 315.9 L66 314.4 L66 312.91 L66.05 311.41 L66.15 309.91 L66.3 308.41 L66.49 306.92 L66.74 305.42 L67.05 303.92 L67.43 302.42 L67.85 300.93 L68.3 299.43 L68.76 297.93 L69.18 296.44 L69.53 294.94 L69.78 293.44 L69.89 291.94 L69.87 290.44 L69.7 288.95 L69.42 287.45 L69.05 285.95 L68.63 284.45 L68.2 282.96 L67.78 281.46 L67.39 279.96 L67.06 278.46 L66.79 276.97 L66.57 275.47 L66.4 273.97 L66.26 272.48 L66.16 270.98 L66.09 269.48 L66.03 267.98 L66 266.49 L66 264.99 L66 263.49 L66 261.99 L66 260.5 L66 259 L66 257.5Z" fill="#f2820e" fill-opacity="0.66"/>
<line x1="65.8" y1="259.5" x2="65.8" y2="315.4" stroke="#f2820e" stroke-width="0.5" stroke-opacity="0.6"/>
<path d="M76.3 260.5 L76.3 262.01 L76.3 263.52 L76.3 265.04 L76.3 266.55 L76.3 268.06 L76.3 269.57 L76.25 271.09 L76.18 272.6 L76.08 274.11 L75.94 275.62 L75.78 277.14 L75.57 278.65 L75.32 280.16 L75.02 281.68 L74.7 283.19 L74.35 284.7 L74 286.21 L73.68 287.73 L73.41 289.24 L73.21 290.75 L73.11 292.26 L73.11 293.77 L73.22 295.29 L73.43 296.8 L73.71 298.31 L74.04 299.82 L74.39 301.34 L74.75 302.85 L75.08 304.36 L75.39 305.88 L75.64 307.39 L75.85 308.9 L76.02 310.41 L76.15 311.93 L76.25 313.44 L76.3 314.95 L76.3 316.46 L76.3 317.98 L76.3 319.49 L76.3 321 L76.7 321 L76.7 319.49 L76.7 317.98 L76.7 316.46 L76.7 314.95 L76.75 313.44 L76.85 311.93 L76.98 310.41 L77.15 308.9 L77.36 307.39 L77.61 305.88 L77.92 304.36 L78.25 302.85 L78.61 301.34 L78.96 299.82 L79.29 298.31 L79.57 296.8 L79.78 295.29 L79.89 293.77 L79.89 292.26 L79.79 290.75 L79.59 289.24 L79.32 287.73 L79 286.21 L78.65 284.7 L78.3 283.19 L77.98 281.68 L77.68 280.16 L77.43 278.65 L77.22 277.14 L77.06 275.62 L76.92 274.11 L76.82 272.6 L76.75 271.09 L76.7 269.57 L76.7 268.06 L76.7 266.55 L76.7 265.04 L76.7 263.52 L76.7 262.01 L76.7 260.5Z" fill="#7a28a6" fill-opacity="0.66"/>
<line x1="76.5" y1="262.5" x2="76.5" y2="319" stroke="#7a28a6" stroke-width="0.5" stroke-opacity="0.6"/>
<path d="M87.8 256.5 L87.8 258.17 L87.8 259.83 L87.8 261.5 L87.8 263.17 L87.8 264.84 L87.76 266.5 L87.68 268.17 L87.58 269.84 L87.45 271.51 L87.3 273.18 L87.1 274.84 L86.88 276.51 L86.62 278.18 L86.34 279.84 L86.03 281.51 L85.73 283.18 L85.43 284.85 L85.17 286.51 L84.95 288.18 L84.79 289.85 L84.71 291.52 L84.71 293.19 L84.79 294.85 L84.95 296.52 L85.17 298.19 L85.44 299.86 L85.75 301.52 L86.06 303.19 L86.37 304.86 L86.67 306.52 L86.93 308.19 L87.16 309.86 L87.36 311.53 L87.52 313.19 L87.65 314.86 L87.74 316.53 L87.8 318.2 L87.8 319.87 L87.8 321.53 L87.8 323.2 L88.2 323.2 L88.2 321.53 L88.2 319.87 L88.2 318.2 L88.26 316.53 L88.35 314.86 L88.48 313.19 L88.64 311.53 L88.84 309.86 L89.07 308.19 L89.33 306.52 L89.63 304.86 L89.94 303.19 L90.25 301.52 L90.56 299.86 L90.83 298.19 L91.05 296.52 L91.21 294.85 L91.29 293.19 L91.29 291.52 L91.21 289.85 L91.05 288.18 L90.83 286.51 L90.57 284.85 L90.27 283.18 L89.97 281.51 L89.66 279.84 L89.38 278.18 L89.12 276.51 L88.9 274.84 L88.7 273.18 L88.55 271.51 L88.42 269.84 L88.32 268.17 L88.24 266.5 L88.2 264.84 L88.2 263.17 L88.2 261.5 L88.2 259.83 L88.2 258.17 L88.2 256.5Z" fill="#8c9414" fill-opacity="0.66"/>
<line x1="88" y1="258.5" x2="88" y2="321.2" stroke="#8c9414" stroke-width="0.5" stroke-opacity="0.6"/>
<path d="M99.3 254.4 L99.3 255.95 L99.3 257.5 L99.3 259.04 L99.3 260.59 L99.3 262.14 L99.28 263.69 L99.21 265.23 L99.11 266.78 L98.99 268.33 L98.82 269.88 L98.61 271.42 L98.36 272.97 L98.07 274.52 L97.74 276.06 L97.39 277.61 L97.05 279.16 L96.73 280.71 L96.47 282.25 L96.29 283.8 L96.2 285.35 L96.23 286.9 L96.35 288.44 L96.57 289.99 L96.86 291.54 L97.2 293.09 L97.55 294.63 L97.89 296.18 L98.21 297.73 L98.49 299.28 L98.72 300.82 L98.91 302.37 L99.06 303.92 L99.17 305.47 L99.26 307.01 L99.3 308.56 L99.3 310.11 L99.3 311.66 L99.3 313.21 L99.3 314.75 L99.3 316.3 L99.7 316.3 L99.7 314.75 L99.7 313.21 L99.7 311.66 L99.7 310.11 L99.7 308.56 L99.74 307.01 L99.83 305.47 L99.94 303.92 L100.09 302.37 L100.28 300.82 L100.51 299.28 L100.79 297.73 L101.11 296.18 L101.45 294.63 L101.8 293.09 L102.14 291.54 L102.43 289.99 L102.65 288.44 L102.77 286.9 L102.8 285.35 L102.71 283.8 L102.53 282.25 L102.27 280.71 L101.95 279.16 L101.61 277.61 L101.26 276.06 L100.93 274.52 L100.64 272.97 L100.39 271.42 L100.18 269.88 L100.01 268.33 L99.89 266.78 L99.79 265.23 L99.72 263.69 L99.7 262.14 L99.7 260.59 L99.7 259.04 L99.7 257.5 L99.7 255.95 L99.7 254.4Z" fill="#5eeaea" fill-opacity="0.66"/>
<line x1="99.5" y1="256.4" x2="99.5" y2="314.3" stroke="#5eeaea" stroke-width="0.5" stroke-opacity="0.6"/>
<path d="M110.4 258.8 L110.4 260.13 L110.4 261.46 L110.4 262.79 L110.37 264.12 L110.28 265.45 L110.16 266.78 L110.02 268.11 L109.84 269.44 L109.63 270.77 L109.39 272.1 L109.12 273.43 L108.84 274.76 L108.55 276.09 L108.28 277.42 L108.03 278.75 L107.83 280.08 L107.68 281.41 L107.61 282.74 L107.61 284.07 L107.68 285.4 L107.82 286.73 L108.02 288.06 L108.26 289.39 L108.52 290.72 L108.8 292.05 L109.08 293.38 L109.33 294.71 L109.57 296.04 L109.78 297.37 L109.95 298.7 L110.1 300.03 L110.21 301.36 L110.31 302.69 L110.38 304.02 L110.4 305.35 L110.4 306.68 L110.4 308.01 L110.4 309.34 L110.4 310.67 L110.4 312 L110.8 312 L110.8 310.67 L110.8 309.34 L110.8 308.01 L110.8 306.68 L110.8 305.35 L110.82 304.02 L110.89 302.69 L110.99 301.36 L111.1 300.03 L111.25 298.7 L111.42 297.37 L111.63 296.04 L111.87 294.71 L112.12 293.38 L112.4 292.05 L112.68 290.72 L112.94 289.39 L113.18 288.06 L113.38 286.73 L113.52 285.4 L113.59 284.07 L113.59 282.74 L113.52 281.41 L113.37 280.08 L113.17 278.75 L112.92 277.42 L112.65 276.09 L112.36 274.76 L112.08 273.43 L111.81 272.1 L111.57 270.77 L111.36 269.44 L111.18 268.11 L111.04 266.78 L110.92 265.45 L110.83 264.12 L110.8 262.79 L110.8 261.46 L110.8 260.13 L110.8 258.8Z" fill="#b41a92" fill-opacity="0.66"/>
<line x1="110.6" y1="260.8" x2="110.6" y2="310" stroke="#b41a92" stroke-width="0.5" stroke-opacity="0.6"/>
<path d="M121.6 248.8 L121.6 250.57 L121.6 252.34 L121.6 254.11 L121.6 255.88 L121.6 257.65 L121.54 259.42 L121.44 261.19 L121.31 262.96 L121.15 264.73 L120.94 266.5 L120.68 268.27 L120.38 270.04 L120.04 271.81 L119.68 273.58 L119.33 275.35 L119.01 277.12 L118.75 278.89 L118.57 280.66 L118.5 282.43 L118.54 284.2 L118.68 285.97 L118.92 287.74 L119.22 289.51 L119.56 291.28 L119.91 293.05 L120.25 294.82 L120.56 296.59 L120.83 298.36 L121.05 300.13 L121.23 301.9 L121.36 303.67 L121.47 305.44 L121.55 307.21 L121.6 308.98 L121.6 310.75 L121.6 312.52 L121.6 314.29 L121.6 316.06 L121.6 317.83 L121.6 319.6 L122 319.6 L122 317.83 L122 316.06 L122 314.29 L122 312.52 L122 310.75 L122 308.98 L122.05 307.21 L122.13 305.44 L122.24 303.67 L122.37 301.9 L122.55 300.13 L122.77 298.36 L123.04 296.59 L123.35 294.82 L123.69 293.05 L124.04 291.28 L124.38 289.51 L124.68 287.74 L124.92 285.97 L125.06 284.2 L125.1 282.43 L125.03 280.66 L124.85 278.89 L124.59 277.12 L124.27 275.35 L123.92 273.58 L123.56 271.81 L123.22 270.04 L122.92 268.27 L122.66 266.5 L122.45 264.73 L122.29 262.96 L122.16 261.19 L122.06 259.42 L122 257.65 L122 255.88 L122 254.11 L122 252.34 L122 250.57 L122 248.8Z" fill="#6e6ef8" fill-opacity="0.66"/>
<line x1="121.8" y1="250.8" x2="121.8" y2="317.6" stroke="#6e6ef8" stroke-width="0.5" stroke-opacity="0.6"/>
<path d="M133.1 253.3 L133.1 254.92 L133.1 256.54 L133.1 258.15 L133.1 259.77 L133.01 261.39 L132.88 263 L132.72 264.62 L132.51 266.24 L132.26 267.86 L131.96 269.48 L131.63 271.09 L131.29 272.71 L130.96 274.33 L130.67 275.94 L130.45 277.56 L130.33 279.18 L130.3 280.8 L130.39 282.42 L130.56 284.03 L130.81 285.65 L131.11 287.27 L131.43 288.88 L131.75 290.5 L132.04 292.12 L132.3 293.74 L132.51 295.36 L132.68 296.97 L132.82 298.59 L132.92 300.21 L133 301.82 L133.06 303.44 L133.1 305.06 L133.1 306.68 L133.1 308.3 L133.1 309.91 L133.1 311.53 L133.1 313.15 L133.1 314.76 L133.1 316.38 L133.1 318 L133.5 318 L133.5 316.38 L133.5 314.76 L133.5 313.15 L133.5 311.53 L133.5 309.91 L133.5 308.3 L133.5 306.68 L133.5 305.06 L133.54 303.44 L133.6 301.82 L133.68 300.21 L133.78 298.59 L133.92 296.97 L134.09 295.36 L134.3 293.74 L134.56 292.12 L134.85 290.5 L135.17 288.88 L135.49 287.27 L135.79 285.65 L136.04 284.03 L136.21 282.42 L136.3 280.8 L136.27 279.18 L136.15 277.56 L135.93 275.94 L135.64 274.33 L135.31 272.71 L134.97 271.09 L134.64 269.48 L134.34 267.86 L134.09 266.24 L133.88 264.62 L133.72 263 L133.59 261.39 L133.5 259.77 L133.5 258.15 L133.5 256.54 L133.5 254.92 L133.5 253.3Z" fill="#a6a6a6" fill-opacity="0.66"/>
<line x1="133.3" y1="255.3" x2="133.3" y2="316" stroke="#a6a6a6" stroke-width="0.5" stroke-opacity="0.6"/>
<rect x="38.9" y="304" width="8.8" height="5.8" fill="#fff" stroke="#fff3b0" stroke-width="0.65" fill-opacity="0.22"/>
<line x1="38.9" y1="305.43" x2="47.7" y2="305.43" stroke="#fff3b0" stroke-width="0.35"/>
<line x1="38.9" y1="308.04" x2="47.7" y2="308.04" stroke="#fff3b0" stroke-width="0.35"/>
<line x1="38.9" y1="306.6" x2="47.7" y2="306.6" stroke="#e9b800" stroke-width="0.85"/>
<rect x="49.9" y="300.8" width="8.8" height="8.9" fill="#fff" stroke="#eaa6a6" stroke-width="0.65" fill-opacity="0.22"/>
<line x1="49.9" y1="303.44" x2="58.7" y2="303.44" stroke="#eaa6a6" stroke-width="0.35"/>
<line x1="49.9" y1="307.44" x2="58.7" y2="307.44" stroke="#eaa6a6" stroke-width="0.35"/>
<line x1="49.9" y1="305.6" x2="58.7" y2="305.6" stroke="#7c0a0c" stroke-width="0.85"/>
<rect x="61.4" y="284.9" width="8.8" height="13.7" fill="#fff" stroke="#f59428" stroke-width="0.65" fill-opacity="0.22"/>
<line x1="61.4" y1="288.53" x2="70.2" y2="288.53" stroke="#f59428" stroke-width="0.35"/>
<line x1="61.4" y1="294.69" x2="70.2" y2="294.69" stroke="#f59428" stroke-width="0.35"/>
<line x1="61.4" y1="291.5" x2="70.2" y2="291.5" stroke="#d06000" stroke-width="0.85"/>
<rect x="72.1" y="285.4" width="8.8" height="15.4" fill="#fff" stroke="#8a3cb4" stroke-width="0.65" fill-opacity="0.22"/>
<line x1="72.1" y1="289.58" x2="80.9" y2="289.58" stroke="#8a3cb4" stroke-width="0.35"/>
<line x1="72.1" y1="296.51" x2="80.9" y2="296.51" stroke="#8a3cb4" stroke-width="0.35"/>
<line x1="72.1" y1="293" x2="80.9" y2="293" stroke="#4a1080" stroke-width="0.85"/>
<rect x="83.6" y="280.5" width="8.8" height="20.3" fill="#fff" stroke="#98a024" stroke-width="0.65" fill-opacity="0.22"/>
<line x1="83.6" y1="287.04" x2="92.4" y2="287.04" stroke="#98a024" stroke-width="0.35"/>
<line x1="83.6" y1="296.18" x2="92.4" y2="296.18" stroke="#98a024" stroke-width="0.35"/>
<line x1="83.6" y1="292.4" x2="92.4" y2="292.4" stroke="#5a6206" stroke-width="0.85"/>
<rect x="95.1" y="278" width="8.8" height="15.8" fill="#fff" stroke="#6ee8e8" stroke-width="0.65" fill-opacity="0.22"/>
<line x1="95.1" y1="282.29" x2="103.9" y2="282.29" stroke="#6ee8e8" stroke-width="0.35"/>
<line x1="95.1" y1="289.4" x2="103.9" y2="289.4" stroke="#6ee8e8" stroke-width="0.35"/>
<line x1="95.1" y1="285.8" x2="103.9" y2="285.8" stroke="#30c4c4" stroke-width="0.85"/>
<rect x="106.2" y="277.2" width="8.8" height="14.8" fill="#fff" stroke="#c038a0" stroke-width="0.65" fill-opacity="0.22"/>
<line x1="106.2" y1="280.61" x2="115" y2="280.61" stroke="#c038a0" stroke-width="0.35"/>
<line x1="106.2" y1="287.27" x2="115" y2="287.27" stroke="#c038a0" stroke-width="0.35"/>
<line x1="106.2" y1="283.4" x2="115" y2="283.4" stroke="#8c0c70" stroke-width="0.85"/>
<rect x="117.4" y="273.6" width="8.8" height="19.1" fill="#fff" stroke="#7c7cfa" stroke-width="0.65" fill-opacity="0.22"/>
<line x1="117.4" y1="278.61" x2="126.2" y2="278.61" stroke="#7c7cfa" stroke-width="0.35"/>
<line x1="117.4" y1="287.2" x2="126.2" y2="287.2" stroke="#7c7cfa" stroke-width="0.35"/>
<line x1="117.4" y1="282.7" x2="126.2" y2="282.7" stroke="#4848e0" stroke-width="0.85"/>
<rect x="128.9" y="273.6" width="8.8" height="14" fill="#fff" stroke="#d88a3c" stroke-width="0.65" fill-opacity="0.22"/>
<line x1="128.9" y1="277.29" x2="137.7" y2="277.29" stroke="#d88a3c" stroke-width="0.35"/>
<line x1="128.9" y1="283.59" x2="137.7" y2="283.59" stroke="#d88a3c" stroke-width="0.35"/>
<line x1="128.9" y1="280.3" x2="137.7" y2="280.3" stroke="#c86a14" stroke-width="0.85"/>
<line x1="41" y1="284.2" x2="57.7" y2="284.2" stroke="#8a8a8a" stroke-width="0.6"/>
<line x1="62.9" y1="256.2" x2="90.9" y2="256.2" stroke="#8a8a8a" stroke-width="0.6"/>
<line x1="96" y1="248.7" x2="135" y2="248.7" stroke="#8a8a8a" stroke-width="0.6"/>
<path d="M49.6 254.2 V251 H77.3 V254.2" fill="none" stroke="#8a8a8a" stroke-width="0.6"/>
<path d="M77.3 246.2 V243 H117.7 V246.2" fill="none" stroke="#8a8a8a" stroke-width="0.6"/>
<text stroke="#111" x="43.6" y="248.6">&lt;2.22<tspan font-size="5.8" dy="-2.6">e−16</tspan></text>
<text stroke="#111" x="80.6" y="240.4">&lt;2.22<tspan font-size="5.8" dy="-2.6">e−16</tspan></text>
<line x1="43.3" y1="328.4" x2="43.3" y2="329.9" stroke="#333" stroke-width="0.4"/>
<text text-anchor="end" stroke="#111" transform="translate(45.5 332.7) rotate(-90)">Hypoxic SPP1 TAM</text>
<line x1="54.3" y1="328.4" x2="54.3" y2="329.9" stroke="#333" stroke-width="0.4"/>
<text text-anchor="end" stroke="#111" transform="translate(56.5 332.7) rotate(-90)">Intra-tumoral TAM</text>
<line x1="65.8" y1="328.4" x2="65.8" y2="329.9" stroke="#333" stroke-width="0.4"/>
<text text-anchor="end" stroke="#111" transform="translate(68 332.7) rotate(-90)">Peri-tumoral SPP1 TAM</text>
<line x1="76.5" y1="328.4" x2="76.5" y2="329.9" stroke="#333" stroke-width="0.4"/>
<text text-anchor="end" stroke="#111" transform="translate(78.7 332.7) rotate(-90)">Inflamed SPP1 TAM</text>
<line x1="88" y1="328.4" x2="88" y2="329.9" stroke="#333" stroke-width="0.4"/>
<text text-anchor="end" stroke="#111" transform="translate(90.2 332.7) rotate(-90)">Trapped Fibrous FOLR2 TRM</text>
<line x1="99.5" y1="328.4" x2="99.5" y2="329.9" stroke="#333" stroke-width="0.4"/>
<text text-anchor="end" stroke="#111" transform="translate(101.7 332.7) rotate(-90)">Lymphoid FOLR2 TRM</text>
<line x1="110.6" y1="328.4" x2="110.6" y2="329.9" stroke="#333" stroke-width="0.4"/>
<text text-anchor="end" stroke="#111" transform="translate(112.8 332.7) rotate(-90)">PC enriched FOLR2 TRM</text>
<line x1="121.8" y1="328.4" x2="121.8" y2="329.9" stroke="#333" stroke-width="0.4"/>
<text text-anchor="end" stroke="#111" transform="translate(124 332.7) rotate(-90)">Peri-vascular LYVE1 TRM</text>
<line x1="133.3" y1="328.4" x2="133.3" y2="329.9" stroke="#333" stroke-width="0.4"/>
<text text-anchor="end" stroke="#111" transform="translate(135.5 332.7) rotate(-90)">Smooth muscle FOLR2 TRM</text>
<text x="0.1" y="346.2" stroke="#111">Niches:</text>
<text x="-0.6" y="468.8" font-weight="bold" font-size="11" fill="#000" stroke="#000">D</text>
<text x="90" y="458" text-anchor="middle" stroke="#111">Tumor cell content in niche</text>
<text x="90" y="467" text-anchor="middle" stroke="#111">42 regions, 14 BC and 14 CRC cases</text>
<line x1="34.2" y1="472.9" x2="34.2" y2="555.4" stroke="#333" stroke-width="0.5"/>
<line x1="34.2" y1="555.4" x2="141.2" y2="555.4" stroke="#333" stroke-width="0.5"/>
<line x1="32.7" y1="491.2" x2="34.2" y2="491.2" stroke="#333" stroke-width="0.4"/>
<text x="31.7" y="493.9" text-anchor="end" stroke="#111">75</text>
<line x1="32.7" y1="511.7" x2="34.2" y2="511.7" stroke="#333" stroke-width="0.4"/>
<text x="31.7" y="514.4" text-anchor="end" stroke="#111">50</text>
<line x1="32.7" y1="532.1" x2="34.2" y2="532.1" stroke="#333" stroke-width="0.4"/>
<text x="31.7" y="534.8" text-anchor="end" stroke="#111">25</text>
<line x1="32.7" y1="552.5" x2="34.2" y2="552.5" stroke="#333" stroke-width="0.4"/>
<text x="31.7" y="555.2" text-anchor="end" stroke="#111">0</text>
<text text-anchor="middle" stroke="#111" transform="translate(19.8 518) rotate(-90)">% Epithelial Cell in Niche</text>
<rect x="36.15" y="477" width="10.15" height="75.6" fill="#f0c13c"/>
<line x1="41.23" y1="555.4" x2="41.23" y2="556.9" stroke="#333" stroke-width="0.4"/>
<text text-anchor="end" stroke="#111" transform="translate(43.43 559.6) rotate(-90)">Hypoxic SPP1 TAM</text>
<rect x="47.75" y="501.3" width="10.15" height="51.3" fill="#b00000"/>
<line x1="52.83" y1="555.4" x2="52.83" y2="556.9" stroke="#333" stroke-width="0.4"/>
<text text-anchor="end" stroke="#111" transform="translate(55.03 559.6) rotate(-90)">Intra-tumoral TAM</text>
<rect x="59.35" y="535.5" width="10.15" height="17.1" fill="#4f1e92"/>
<line x1="64.42" y1="555.4" x2="64.42" y2="556.9" stroke="#333" stroke-width="0.4"/>
<text text-anchor="end" stroke="#111" transform="translate(66.62 559.6) rotate(-90)">Inflamed SPP1 TAM</text>
<rect x="70.95" y="544.5" width="10.15" height="8.1" fill="#508a2c"/>
<line x1="76.02" y1="555.4" x2="76.02" y2="556.9" stroke="#333" stroke-width="0.4"/>
<text text-anchor="end" stroke="#111" transform="translate(78.22 559.6) rotate(-90)">Trapped Fibrous FOLR2 TRM</text>
<rect x="82.55" y="549" width="10.15" height="3.6" fill="#f0801e"/>
<line x1="87.62" y1="555.4" x2="87.62" y2="556.9" stroke="#333" stroke-width="0.4"/>
<text text-anchor="end" stroke="#111" transform="translate(89.83 559.6) rotate(-90)">Peri-tumoral SPP1 TRM</text>
<rect x="94.15" y="550.9" width="10.15" height="1.7" fill="#4a86f4"/>
<line x1="99.23" y1="555.4" x2="99.23" y2="556.9" stroke="#333" stroke-width="0.4"/>
<text text-anchor="end" stroke="#111" transform="translate(101.43 559.6) rotate(-90)">Peri-vascular LYVE1 TRM</text>
<rect x="105.75" y="551" width="10.15" height="1.6" fill="#5cd0d0"/>
<line x1="110.83" y1="555.4" x2="110.83" y2="556.9" stroke="#333" stroke-width="0.4"/>
<text text-anchor="end" stroke="#111" transform="translate(113.03 559.6) rotate(-90)">Lymphoid FOLR2 TRM</text>
<rect x="117.35" y="551.1" width="10.15" height="1.5" fill="#c41e8e"/>
<line x1="122.42" y1="555.4" x2="122.42" y2="556.9" stroke="#333" stroke-width="0.4"/>
<text text-anchor="end" stroke="#111" transform="translate(124.62 559.6) rotate(-90)">PC enriched FOLR2 TRM</text>
<rect x="128.95" y="551.4" width="10.15" height="1.2" fill="#e2a878"/>
<line x1="134.02" y1="555.4" x2="134.02" y2="556.9" stroke="#333" stroke-width="0.4"/>
<text text-anchor="end" stroke="#111" transform="translate(136.22 559.6) rotate(-90)">Smooth muscle FOLR2 TRM</text>
<text x="2.5" y="571.2" stroke="#111">Niches:</text>
<text x="170.6" y="234.6" font-weight="bold" font-size="11" fill="#000" stroke="#000">E</text>
<text x="279" y="228.3" text-anchor="middle" stroke="#111">Niche frequency by localization</text>
<rect x="220.5" y="235.5" width="115.8" height="98.3" fill="#fff" stroke="#d8d8d8" stroke-width="0.6"/>
<text x="219.8" y="243.2" text-anchor="end" stroke="#111">100</text>
<text x="219.8" y="265.57" text-anchor="end" stroke="#111">75</text>
<text x="219.8" y="287.95" text-anchor="end" stroke="#111">50</text>
<text x="219.8" y="310.32" text-anchor="end" stroke="#111">25</text>
<text x="219.8" y="332.7" text-anchor="end" stroke="#111">0</text>
<text text-anchor="middle" stroke="#111" transform="translate(203.6 284) rotate(-90)">Niche Frequency (%)</text>
<rect x="224.5" y="265.02" width="16.25" height="65.13" fill="#5590f8"/>
<rect x="224.5" y="251.96" width="16.25" height="13.22" fill="#70cccc"/>
<rect x="224.5" y="246.76" width="16.25" height="5.34" fill="#50882e"/>
<rect x="224.5" y="246.5" width="16.25" height="0.42" fill="#c08a4a"/>
<rect x="224.5" y="245.6" width="16.25" height="1.05" fill="#b4146e"/>
<rect x="224.5" y="245.42" width="16.25" height="0.33" fill="#f0c13c"/>
<rect x="224.5" y="244.08" width="16.25" height="1.49" fill="#4f1e92"/>
<rect x="224.5" y="243.19" width="16.25" height="1.04" fill="#e8801e"/>
<rect x="224.5" y="240.95" width="16.25" height="2.39" fill="#b00000"/>
<text x="232.62" y="341.9" text-anchor="middle" stroke="#111">NB</text>
<rect x="243" y="300.02" width="16.25" height="30.13" fill="#5590f8"/>
<rect x="243" y="266.28" width="16.25" height="33.89" fill="#70cccc"/>
<rect x="243" y="263.77" width="16.25" height="2.66" fill="#50882e"/>
<rect x="243" y="262.88" width="16.25" height="1.04" fill="#c08a4a"/>
<rect x="243" y="260.01" width="16.25" height="3.01" fill="#b4146e"/>
<rect x="243" y="259.83" width="16.25" height="0.33" fill="#f0c13c"/>
<rect x="243" y="247.03" width="16.25" height="12.95" fill="#4f1e92"/>
<rect x="243" y="243.01" width="16.25" height="4.18" fill="#e8801e"/>
<rect x="243" y="240.77" width="16.25" height="2.39" fill="#b00000"/>
<text x="251.12" y="341.9" text-anchor="middle" stroke="#111">DCIS</text>
<rect x="261.25" y="313.71" width="16.25" height="16.44" fill="#5590f8"/>
<rect x="261.25" y="286.23" width="16.25" height="27.63" fill="#70cccc"/>
<rect x="261.25" y="269.23" width="16.25" height="17.15" fill="#50882e"/>
<rect x="261.25" y="268.78" width="16.25" height="0.6" fill="#c08a4a"/>
<rect x="261.25" y="265.02" width="16.25" height="3.91" fill="#b4146e"/>
<rect x="261.25" y="261.98" width="16.25" height="3.19" fill="#f0c13c"/>
<rect x="261.25" y="260.73" width="16.25" height="1.4" fill="#4f1e92"/>
<rect x="261.25" y="251.96" width="16.25" height="8.92" fill="#e8801e"/>
<rect x="261.25" y="240.5" width="16.25" height="11.61" fill="#b00000"/>
<text x="269.38" y="341.9" text-anchor="middle" stroke="#111">IDC</text>
<rect x="279.75" y="322.48" width="16.25" height="7.67" fill="#5590f8"/>
<rect x="279.75" y="314.25" width="16.25" height="8.38" fill="#70cccc"/>
<rect x="279.75" y="312.46" width="16.25" height="1.94" fill="#50882e"/>
<rect x="279.75" y="300.73" width="16.25" height="11.87" fill="#c08a4a"/>
<rect x="279.75" y="248.73" width="16.25" height="52.15" fill="#b4146e"/>
<rect x="279.75" y="247.03" width="16.25" height="1.85" fill="#f0c13c"/>
<rect x="279.75" y="245.51" width="16.25" height="1.67" fill="#4f1e92"/>
<rect x="279.75" y="242.02" width="16.25" height="3.64" fill="#e8801e"/>
<rect x="279.75" y="240.5" width="16.25" height="1.67" fill="#b00000"/>
<text x="287.88" y="341.9" text-anchor="middle" stroke="#111">NGI</text>
<rect x="298" y="314.52" width="16.25" height="15.63" fill="#5590f8"/>
<rect x="298" y="303.24" width="16.25" height="11.43" fill="#70cccc"/>
<rect x="298" y="290.71" width="16.25" height="12.68" fill="#50882e"/>
<rect x="298" y="272" width="16.25" height="18.86" fill="#c08a4a"/>
<rect x="298" y="268.25" width="16.25" height="3.91" fill="#b4146e"/>
<rect x="298" y="255.54" width="16.25" height="12.86" fill="#f0c13c"/>
<rect x="298" y="246.76" width="16.25" height="8.92" fill="#4f1e92"/>
<rect x="298" y="241.75" width="16.25" height="5.16" fill="#e8801e"/>
<rect x="298" y="240.5" width="16.25" height="1.4" fill="#b00000"/>
<text x="306.12" y="341.9" text-anchor="middle" stroke="#111">IF</text>
<rect x="316.5" y="320.78" width="16.25" height="9.37" fill="#5590f8"/>
<rect x="316.5" y="311.74" width="16.25" height="9.19" fill="#70cccc"/>
<rect x="316.5" y="295.01" width="16.25" height="16.89" fill="#50882e"/>
<rect x="316.5" y="287.49" width="16.25" height="7.67" fill="#c08a4a"/>
<rect x="316.5" y="284.98" width="16.25" height="2.66" fill="#b4146e"/>
<rect x="316.5" y="250.79" width="16.25" height="34.34" fill="#f0c13c"/>
<rect x="316.5" y="243.01" width="16.25" height="7.94" fill="#4f1e92"/>
<rect x="316.5" y="241.22" width="16.25" height="1.94" fill="#e8801e"/>
<rect x="316.5" y="240.68" width="16.25" height="0.69" fill="#b00000"/>
<text x="324.62" y="341.9" text-anchor="middle" stroke="#111">CT</text>
<rect x="223.7" y="346.5" width="109" height="25.2" fill="#fff" stroke="#222" stroke-width="0.7"/>
<line x1="223.7" y1="359.1" x2="332.7" y2="359.1" stroke="#222" stroke-width="0.7"/>
<line x1="241.87" y1="346.5" x2="241.87" y2="371.7" stroke="#222" stroke-width="0.7"/>
<line x1="260.03" y1="346.5" x2="260.03" y2="371.7" stroke="#222" stroke-width="0.7"/>
<line x1="278.2" y1="346.5" x2="278.2" y2="371.7" stroke="#222" stroke-width="0.7"/>
<line x1="296.37" y1="346.5" x2="296.37" y2="371.7" stroke="#222" stroke-width="0.7"/>
<line x1="314.53" y1="346.5" x2="314.53" y2="371.7" stroke="#222" stroke-width="0.7"/>
<text x="232.78" y="354.2" text-anchor="middle" stroke="#111">2</text>
<text x="232.78" y="366.9" text-anchor="middle" stroke="#111">3</text>
<text x="250.95" y="354.2" text-anchor="middle" stroke="#111">3</text>
<text x="250.95" y="366.9" text-anchor="middle" stroke="#111">5</text>
<text x="269.12" y="354.2" text-anchor="middle" stroke="#111">11</text>
<text x="269.12" y="366.9" text-anchor="middle" stroke="#111">16</text>
<text x="287.28" y="354.2" text-anchor="middle" stroke="#111">3</text>
<text x="287.28" y="366.9" text-anchor="middle" stroke="#111">3</text>
<text x="305.45" y="354.2" text-anchor="middle" stroke="#111">10</text>
<text x="305.45" y="366.9" text-anchor="middle" stroke="#111">14</text>
<text x="323.62" y="354.2" text-anchor="middle" stroke="#111">6</text>
<text x="323.62" y="366.9" text-anchor="middle" stroke="#111">7</text>
<text x="218.5" y="355.6" text-anchor="end" stroke="#111">#patients</text>
<text x="218.5" y="366" text-anchor="end" stroke="#111">#regions</text>
<line x1="224.7" y1="374.6" x2="274.9" y2="374.6" stroke="#8a8a8a" stroke-width="0.7"/>
<line x1="280" y1="374.6" x2="330" y2="374.6" stroke="#8a8a8a" stroke-width="0.7"/>
<text x="250.3" y="382.4" text-anchor="middle" stroke="#111">breast</text>
<text x="306.7" y="382.4" text-anchor="middle" stroke="#111">colon</text>
<rect x="345.7" y="238.2" width="8.9" height="8.7" fill="#b00000"/>
<text x="358" y="245.3" stroke="#111">Intra-tumoral TAM Niche</text>
<rect x="345.7" y="248.54" width="8.9" height="8.7" fill="#e8801e"/>
<text x="358" y="255.64" stroke="#111">Peri-tumoral SPP1 TAM Niche</text>
<rect x="345.7" y="258.88" width="8.9" height="8.7" fill="#4f1e92"/>
<text x="358" y="265.98" stroke="#111">Inflamed SPP1 TAM Niche</text>
<rect x="345.7" y="269.22" width="8.9" height="8.7" fill="#f0c13c"/>
<text x="358" y="276.32" stroke="#111">Hypoxic SPP1 TAM Niche</text>
<rect x="345.7" y="279.56" width="8.9" height="8.7" fill="#b4146e"/>
<text x="358" y="286.66" stroke="#111">PC enriched FOLR2 TRM Niche</text>
<rect x="345.7" y="289.9" width="8.9" height="8.7" fill="#c08a4a"/>
<text x="358" y="297" stroke="#111">Smooth muscle FOLR2 TRM Niche</text>
<rect x="345.7" y="300.24" width="8.9" height="8.7" fill="#50882e"/>
<text x="358" y="307.34" stroke="#111">Trapped Fibrous FOLR2 TRM Niche</text>
<rect x="345.7" y="310.58" width="8.9" height="8.7" fill="#70cccc"/>
<text x="358" y="317.68" stroke="#111">Lymphoid FOLR2 TRM</text>
<rect x="345.7" y="320.92" width="8.9" height="8.7" fill="#5590f8"/>
<text x="358" y="328.02" stroke="#111">Peri-vascular LYVE1 TRM Niche</text>
<text x="170.6" y="404.1" font-weight="bold" font-size="11" fill="#000" stroke="#000">F</text>
<clipPath id="cp1"><rect x="0" y="0" width="53.2" height="53.2"/></clipPath>
<g transform="translate(190.25 456.4)">
<rect x="0" y="0" width="53.2" height="53.2" fill="#fff"/>
<g clip-path="url(#cp1)">
<line x1="1" y1="12.5" x2="11" y2="3.2" stroke="#47982e" stroke-width="0.9" stroke-linecap="round"/><line x1="0.5" y1="26" x2="11.5" y2="15.5" stroke="#47982e" stroke-width="0.9" stroke-linecap="round"/><line x1="0" y1="8" x2="4" y2="1" stroke="#e1b32c" stroke-width="0.72" stroke-linecap="round"/><circle cx="4.04" cy="37.89" r="5.6" fill="#f7dada" fill-opacity="0.9" stroke="#f0d0d0" stroke-width="0.45"/><circle cx="4.64" cy="38.29" r="2.58" fill="#ecc4c4" fill-opacity="0.92"/><circle cx="8.34" cy="58.55" r="5.6" fill="#f7dada" fill-opacity="0.9" stroke="#f0d0d0" stroke-width="0.45"/><circle cx="8.94" cy="58.95" r="2.58" fill="#ecc4c4" fill-opacity="0.92"/><circle cx="30.06" cy="44.21" r="5.6" fill="#f7dada" fill-opacity="0.9" stroke="#f0d0d0" stroke-width="0.45"/><circle cx="30.66" cy="44.61" r="2.58" fill="#ecc4c4" fill-opacity="0.92"/><circle cx="54.09" cy="29.78" r="5.6" fill="#f7dada" fill-opacity="0.9" stroke="#f0d0d0" stroke-width="0.45"/><circle cx="54.69" cy="30.18" r="2.58" fill="#ecc4c4" fill-opacity="0.92"/><circle cx="18.81" cy="8.71" r="5.6" fill="#f7dada" fill-opacity="0.9" stroke="#f0d0d0" stroke-width="0.45"/><circle cx="19.41" cy="9.11" r="2.58" fill="#ecc4c4" fill-opacity="0.92"/><circle cx="10.61" cy="23.89" r="5.6" fill="#f7dada" fill-opacity="0.9" stroke="#f0d0d0" stroke-width="0.45"/><circle cx="11.21" cy="24.29" r="2.58" fill="#ecc4c4" fill-opacity="0.92"/><circle cx="41.83" cy="38.16" r="5.6" fill="#f7dada" fill-opacity="0.9" stroke="#f0d0d0" stroke-width="0.45"/><circle cx="42.43" cy="38.56" r="2.58" fill="#ecc4c4" fill-opacity="0.92"/><circle cx="22.31" cy="1.96" r="5.6" fill="#f7dada" fill-opacity="0.9" stroke="#f0d0d0" stroke-width="0.45"/><circle cx="22.91" cy="2.36" r="2.58" fill="#ecc4c4" fill-opacity="0.92"/><circle cx="18.36" cy="49.87" r="5.6" fill="#f7dada" fill-opacity="0.9" stroke="#f0d0d0" stroke-width="0.45"/><circle cx="18.96" cy="50.27" r="2.58" fill="#ecc4c4" fill-opacity="0.92"/><circle cx="37.52" cy="42.63" r="5.6" fill="#f7dada" fill-opacity="0.9" stroke="#f0d0d0" stroke-width="0.45"/><circle cx="38.12" cy="43.03" r="2.58" fill="#ecc4c4" fill-opacity="0.92"/><circle cx="6.42" cy="31.5" r="5.6" fill="#f7dada" fill-opacity="0.9" stroke="#f0d0d0" stroke-width="0.45"/><circle cx="7.02" cy="31.9" r="2.58" fill="#ecc4c4" fill-opacity="0.92"/><circle cx="-2.66" cy="49.34" r="5.6" fill="#f7dada" fill-opacity="0.9" stroke="#f0d0d0" stroke-width="0.45"/><circle cx="-2.06" cy="49.74" r="2.58" fill="#ecc4c4" fill-opacity="0.92"/><circle cx="27.43" cy="49.11" r="5.6" fill="#f7dada" fill-opacity="0.9" stroke="#f0d0d0" stroke-width="0.45"/><circle cx="28.03" cy="49.51" r="2.58" fill="#ecc4c4" fill-opacity="0.92"/><circle cx="14.13" cy="16.77" r="5.6" fill="#f7dada" fill-opacity="0.9" stroke="#f0d0d0" stroke-width="0.45"/><circle cx="14.73" cy="17.17" r="2.58" fill="#ecc4c4" fill-opacity="0.92"/><circle cx="13.97" cy="57.51" r="5.6" fill="#f7dada" fill-opacity="0.9" stroke="#f0d0d0" stroke-width="0.45"/><circle cx="14.57" cy="57.91" r="2.58" fill="#ecc4c4" fill-opacity="0.92"/><circle cx="-1.58" cy="44.98" r="5.6" fill="#f7dada" fill-opacity="0.9" stroke="#f0d0d0" stroke-width="0.45"/><circle cx="-0.98" cy="45.38" r="2.58" fill="#ecc4c4" fill-opacity="0.92"/><circle cx="2.25" cy="49.55" r="6.13" fill="#eeb0b0" fill-opacity="0.88" stroke="#df9696" stroke-width="0.45"/><circle cx="2.24" cy="49.11" r="2.82" fill="#cf8484" fill-opacity="0.92"/><circle cx="18.22" cy="23.6" r="6.34" fill="#eeb0b0" fill-opacity="0.88" stroke="#df9696" stroke-width="0.45"/><circle cx="19.38" cy="23.49" r="2.92" fill="#cf8484" fill-opacity="0.92"/><circle cx="35.85" cy="9.25" r="5.57" fill="#eeb0b0" fill-opacity="0.88" stroke="#df9696" stroke-width="0.45"/><circle cx="34.73" cy="10.15" r="2.56" fill="#cf8484" fill-opacity="0.92"/><circle cx="56.8" cy="8.64" r="5.54" fill="#eeb0b0" fill-opacity="0.88" stroke="#df9696" stroke-width="0.45"/><circle cx="57.3" cy="8.81" r="2.55" fill="#cf8484" fill-opacity="0.92"/><circle cx="49.97" cy="24.38" r="5.81" fill="#eeb0b0" fill-opacity="0.88" stroke="#df9696" stroke-width="0.45"/><circle cx="50.67" cy="23.22" r="2.67" fill="#cf8484" fill-opacity="0.92"/><circle cx="35.77" cy="38.13" r="5.64" fill="#eeb0b0" fill-opacity="0.88" stroke="#df9696" stroke-width="0.45"/><circle cx="35.66" cy="36.98" r="2.59" fill="#cf8484" fill-opacity="0.92"/><circle cx="46.76" cy="3.23" r="6.33" fill="#eeb0b0" fill-opacity="0.88" stroke="#df9696" stroke-width="0.45"/><circle cx="46.13" cy="2.37" r="2.91" fill="#cf8484" fill-opacity="0.92"/><circle cx="44.31" cy="24.11" r="5.55" fill="#eeb0b0" fill-opacity="0.88" stroke="#df9696" stroke-width="0.45"/><circle cx="44.62" cy="23.99" r="2.55" fill="#cf8484" fill-opacity="0.92"/><circle cx="27.62" cy="-3.06" r="6.13" fill="#eeb0b0" fill-opacity="0.88" stroke="#df9696" stroke-width="0.45"/><circle cx="27.99" cy="-2.32" r="2.82" fill="#cf8484" fill-opacity="0.92"/><circle cx="30.45" cy="28.56" r="6.46" fill="#eeb0b0" fill-opacity="0.88" stroke="#df9696" stroke-width="0.45"/><circle cx="30.89" cy="27.84" r="2.97" fill="#cf8484" fill-opacity="0.92"/><circle cx="6.86" cy="44.16" r="5.98" fill="#eeb0b0" fill-opacity="0.88" stroke="#df9696" stroke-width="0.45"/><circle cx="6.09" cy="42.98" r="2.75" fill="#cf8484" fill-opacity="0.92"/><circle cx="52.07" cy="10.68" r="5.97" fill="#eeb0b0" fill-opacity="0.88" stroke="#df9696" stroke-width="0.45"/><circle cx="52.58" cy="9.91" r="2.75" fill="#cf8484" fill-opacity="0.92"/><circle cx="29.6" cy="2.67" r="5.77" fill="#eeb0b0" fill-opacity="0.88" stroke="#df9696" stroke-width="0.45"/><circle cx="29.23" cy="3.14" r="2.66" fill="#cf8484" fill-opacity="0.92"/><circle cx="41.49" cy="-3.01" r="6.02" fill="#eeb0b0" fill-opacity="0.88" stroke="#df9696" stroke-width="0.45"/><circle cx="41.76" cy="-2.39" r="2.77" fill="#cf8484" fill-opacity="0.92"/><circle cx="59.94" cy="-2.51" r="5.89" fill="#eeb0b0" fill-opacity="0.88" stroke="#df9696" stroke-width="0.45"/><circle cx="60.64" cy="-1.54" r="2.71" fill="#cf8484" fill-opacity="0.92"/><circle cx="24.17" cy="29.38" r="5.59" fill="#eeb0b0" fill-opacity="0.88" stroke="#df9696" stroke-width="0.45"/><circle cx="25.21" cy="29.92" r="2.57" fill="#cf8484" fill-opacity="0.92"/><circle cx="26.4" cy="35.72" r="5.63" fill="#eeb0b0" fill-opacity="0.88" stroke="#df9696" stroke-width="0.45"/><circle cx="26.29" cy="36.02" r="2.59" fill="#cf8484" fill-opacity="0.92"/><circle cx="14.72" cy="44.54" r="6.41" fill="#eeb0b0" fill-opacity="0.88" stroke="#df9696" stroke-width="0.45"/><circle cx="14.43" cy="44.7" r="2.95" fill="#cf8484" fill-opacity="0.92"/><circle cx="26.52" cy="8.2" r="6.38" fill="#eeb0b0" fill-opacity="0.88" stroke="#df9696" stroke-width="0.45"/><circle cx="27.24" cy="9.26" r="2.93" fill="#cf8484" fill-opacity="0.92"/><circle cx="11.43" cy="48.88" r="5.96" fill="#eeb0b0" fill-opacity="0.88" stroke="#df9696" stroke-width="0.45"/><circle cx="11.79" cy="48.17" r="2.74" fill="#cf8484" fill-opacity="0.92"/><circle cx="43.91" cy="9.21" r="6.22" fill="#eeb0b0" fill-opacity="0.88" stroke="#df9696" stroke-width="0.45"/><circle cx="44.67" cy="9.55" r="2.86" fill="#cf8484" fill-opacity="0.92"/><circle cx="54.5" cy="3.31" r="6.22" fill="#eeb0b0" fill-opacity="0.88" stroke="#df9696" stroke-width="0.45"/><circle cx="53.81" cy="4.27" r="2.86" fill="#cf8484" fill-opacity="0.92"/><circle cx="34.08" cy="22.41" r="6.48" fill="#eeb0b0" fill-opacity="0.88" stroke="#df9696" stroke-width="0.45"/><circle cx="35.23" cy="22.5" r="2.98" fill="#cf8484" fill-opacity="0.92"/><circle cx="40.39" cy="17.18" r="6.29" fill="#eeb0b0" fill-opacity="0.88" stroke="#df9696" stroke-width="0.45"/><circle cx="39.95" cy="18.17" r="2.89" fill="#cf8484" fill-opacity="0.92"/><circle cx="51.22" cy="-5.47" r="6.36" fill="#eeb0b0" fill-opacity="0.88" stroke="#df9696" stroke-width="0.45"/><circle cx="50.86" cy="-6.47" r="2.92" fill="#cf8484" fill-opacity="0.92"/><circle cx="20.71" cy="37.73" r="5.94" fill="#eeb0b0" fill-opacity="0.88" stroke="#df9696" stroke-width="0.45"/><circle cx="20.83" cy="38.38" r="2.73" fill="#cf8484" fill-opacity="0.92"/><circle cx="29.78" cy="15.82" r="5.99" fill="#eeb0b0" fill-opacity="0.88" stroke="#df9696" stroke-width="0.45"/><circle cx="28.65" cy="16.56" r="2.75" fill="#cf8484" fill-opacity="0.92"/><circle cx="-1.64" cy="58.39" r="5.56" fill="#eeb0b0" fill-opacity="0.88" stroke="#df9696" stroke-width="0.45"/><circle cx="-0.92" cy="57.6" r="2.56" fill="#cf8484" fill-opacity="0.92"/><circle cx="25.97" cy="22.89" r="5.84" fill="#eeb0b0" fill-opacity="0.88" stroke="#df9696" stroke-width="0.45"/><circle cx="26.66" cy="22.03" r="2.68" fill="#cf8484" fill-opacity="0.92"/><circle cx="53.22" cy="14.95" r="5.65" fill="#eeb0b0" fill-opacity="0.88" stroke="#df9696" stroke-width="0.45"/><circle cx="53.26" cy="15.49" r="2.6" fill="#cf8484" fill-opacity="0.92"/><circle cx="33.7" cy="-4.63" r="6.34" fill="#eeb0b0" fill-opacity="0.88" stroke="#df9696" stroke-width="0.45"/><circle cx="34.16" cy="-3.56" r="2.92" fill="#cf8484" fill-opacity="0.92"/><circle cx="24.19" cy="15.62" r="5.99" fill="#eeb0b0" fill-opacity="0.88" stroke="#df9696" stroke-width="0.45"/><circle cx="25.27" cy="14.63" r="2.76" fill="#cf8484" fill-opacity="0.92"/><circle cx="45.88" cy="30.25" r="5.72" fill="#eeb0b0" fill-opacity="0.88" stroke="#df9696" stroke-width="0.45"/><circle cx="45.94" cy="29.75" r="2.63" fill="#cf8484" fill-opacity="0.92"/><circle cx="57.47" cy="22.81" r="6.23" fill="#eeb0b0" fill-opacity="0.88" stroke="#df9696" stroke-width="0.45"/><circle cx="57.81" cy="22.86" r="2.87" fill="#cf8484" fill-opacity="0.92"/><circle cx="45.48" cy="15.55" r="6.34" fill="#eeb0b0" fill-opacity="0.88" stroke="#df9696" stroke-width="0.45"/><circle cx="45.62" cy="15.09" r="2.92" fill="#cf8484" fill-opacity="0.92"/><circle cx="38.71" cy="3.88" r="5.88" fill="#eeb0b0" fill-opacity="0.88" stroke="#df9696" stroke-width="0.45"/><circle cx="39.54" cy="4.84" r="2.71" fill="#cf8484" fill-opacity="0.92"/><circle cx="37.59" cy="30.19" r="5.71" fill="#eeb0b0" fill-opacity="0.88" stroke="#df9696" stroke-width="0.45"/><circle cx="38.43" cy="31.32" r="2.63" fill="#cf8484" fill-opacity="0.92"/><circle cx="23.61" cy="42.84" r="6.02" fill="#eeb0b0" fill-opacity="0.88" stroke="#df9696" stroke-width="0.45"/><circle cx="23.78" cy="42.12" r="2.77" fill="#cf8484" fill-opacity="0.92"/><circle cx="10.59" cy="35.61" r="6.04" fill="#eeb0b0" fill-opacity="0.88" stroke="#df9696" stroke-width="0.45"/><circle cx="10.59" cy="35.86" r="2.78" fill="#cf8484" fill-opacity="0.92"/><circle cx="14.58" cy="29.16" r="5.53" fill="#eeb0b0" fill-opacity="0.88" stroke="#df9696" stroke-width="0.45"/><circle cx="15.71" cy="29.19" r="2.54" fill="#cf8484" fill-opacity="0.92"/><polygon points="23.5,18.1 22.05,19.14 22.71,20.8 20.92,20.9 20.58,22.65 19.03,21.76 17.79,23.05 16.96,21.47 15.23,21.88 15.39,20.1 13.7,19.51 14.8,18.1 13.7,16.69 15.39,16.1 15.23,14.32 16.96,14.73 17.79,13.15 19.03,14.44 20.58,13.55 20.92,15.3 22.71,15.4 22.05,17.06" fill="#d23436"/><circle cx="18.5" cy="18.1" r="3.5" fill="#d94444"/><circle cx="18.5" cy="18.1" r="2.1" fill="#ae1a24"/><polygon points="35.61,23.2 33.86,23.59 33.82,25.38 32.14,24.77 31.14,26.25 30.06,24.83 28.42,25.53 28.27,23.75 26.51,23.46 27.35,21.88 26.03,20.68 27.59,19.81 27.13,18.08 28.91,18.2 29.46,16.49 30.89,17.55 32.27,16.41 32.91,18.08 34.68,17.87 34.32,19.62 35.93,20.4 34.68,21.67" fill="#d23436"/><circle cx="31" cy="21.25" r="3.5" fill="#d94444"/><circle cx="31" cy="21.25" r="2.1" fill="#ae1a24"/><polygon points="52.58,20.49 50.83,20.17 50.09,21.8 48.78,20.59 47.28,21.56 46.84,19.83 45.05,19.84 45.61,18.14 44.11,17.18 45.5,16.06 44.75,14.44 46.52,14.25 46.77,12.48 48.37,13.27 49.53,11.92 50.44,13.45 52.15,12.94 52.09,14.73 53.81,15.22 52.79,16.69 53.97,18.03 52.32,18.72" fill="#d23436"/><circle cx="49.1" cy="16.9" r="3.5" fill="#d94444"/><circle cx="49.1" cy="16.9" r="2.1" fill="#ae1a24"/><polygon points="17.81,44.66 16.31,43.69 15,44.9 14.27,43.27 12.51,43.58 12.78,41.82 11.13,41.13 12.31,39.79 11.29,38.32 13.01,37.82 12.95,36.04 14.66,36.55 15.57,35.02 16.74,36.37 18.34,35.58 18.58,37.35 20.35,37.54 19.6,39.16 20.99,40.29 19.48,41.25 20.04,42.94 18.26,42.93" fill="#d23436"/><circle cx="16" cy="40" r="3.5" fill="#d94444"/><circle cx="16" cy="40" r="2.1" fill="#ae1a24"/><polygon points="38.35,45.6 37.35,44.12 35.68,44.73 35.63,42.94 33.89,42.54 34.82,41.02 33.57,39.74 35.18,38.97 34.82,37.22 36.59,37.43 37.23,35.76 38.61,36.9 40.05,35.85 40.59,37.55 42.37,37.44 41.91,39.16 43.47,40.03 42.15,41.23 42.99,42.81 41.22,43.1 41.08,44.88 39.44,44.18" fill="#d23436"/><circle cx="38.5" cy="40.6" r="3.5" fill="#d94444"/><circle cx="38.5" cy="40.6" r="2.1" fill="#ae1a24"/>
</g>
<rect x="0" y="0" width="53.2" height="53.2" fill="none" stroke="#222" stroke-width="0.9"/>
</g>
<text x="217.3" y="453.2" text-anchor="middle" fill="#b0181c" stroke="#b0181c">Intra-tumoral CD68</text>
<clipPath id="cp2"><rect x="0" y="0" width="53.2" height="53.2"/></clipPath>
<g transform="translate(190.25 521.4)">
<rect x="0" y="0" width="53.2" height="53.2" fill="#fff"/>
<g clip-path="url(#cp2)">
<circle cx="11.39" cy="35.98" r="5.91" fill="#ecaaaa" fill-opacity="0.9" stroke="#da9090" stroke-width="0.45"/><circle cx="11.04" cy="36.73" r="2.72" fill="#ca7e7e" fill-opacity="0.92"/><circle cx="35.02" cy="9.63" r="5.81" fill="#ecaaaa" fill-opacity="0.9" stroke="#da9090" stroke-width="0.45"/><circle cx="35.12" cy="10.53" r="2.67" fill="#ca7e7e" fill-opacity="0.92"/><circle cx="14.02" cy="43.11" r="6.46" fill="#ecaaaa" fill-opacity="0.9" stroke="#da9090" stroke-width="0.45"/><circle cx="13.72" cy="42.01" r="2.97" fill="#ca7e7e" fill-opacity="0.92"/><circle cx="34.09" cy="35.93" r="6.45" fill="#ecaaaa" fill-opacity="0.9" stroke="#da9090" stroke-width="0.45"/><circle cx="34.13" cy="35.25" r="2.97" fill="#ca7e7e" fill-opacity="0.92"/><circle cx="59.07" cy="-5.44" r="5.63" fill="#ecaaaa" fill-opacity="0.9" stroke="#da9090" stroke-width="0.45"/><circle cx="58.44" cy="-5.9" r="2.59" fill="#ca7e7e" fill-opacity="0.92"/><circle cx="10.59" cy="-5.21" r="5.64" fill="#ecaaaa" fill-opacity="0.9" stroke="#da9090" stroke-width="0.45"/><circle cx="9.51" cy="-4.03" r="2.59" fill="#ca7e7e" fill-opacity="0.92"/><circle cx="50.31" cy="24.19" r="6.32" fill="#ecaaaa" fill-opacity="0.9" stroke="#da9090" stroke-width="0.45"/><circle cx="49.39" cy="24.15" r="2.91" fill="#ca7e7e" fill-opacity="0.92"/><circle cx="0.01" cy="55.92" r="6.3" fill="#ecaaaa" fill-opacity="0.9" stroke="#da9090" stroke-width="0.45"/><circle cx="0.02" cy="54.89" r="2.9" fill="#ca7e7e" fill-opacity="0.92"/><circle cx="16.05" cy="16.45" r="5.84" fill="#ecaaaa" fill-opacity="0.9" stroke="#da9090" stroke-width="0.45"/><circle cx="15.77" cy="17.44" r="2.69" fill="#ca7e7e" fill-opacity="0.92"/><circle cx="32.58" cy="3" r="6.08" fill="#ecaaaa" fill-opacity="0.9" stroke="#da9090" stroke-width="0.45"/><circle cx="32.48" cy="3.31" r="2.8" fill="#ca7e7e" fill-opacity="0.92"/><circle cx="26.73" cy="35.49" r="5.55" fill="#ecaaaa" fill-opacity="0.9" stroke="#da9090" stroke-width="0.45"/><circle cx="27.17" cy="36.23" r="2.55" fill="#ca7e7e" fill-opacity="0.92"/><circle cx="35.47" cy="22.19" r="6.17" fill="#ecaaaa" fill-opacity="0.9" stroke="#da9090" stroke-width="0.45"/><circle cx="35.14" cy="21.68" r="2.84" fill="#ca7e7e" fill-opacity="0.92"/><circle cx="36.47" cy="-4.58" r="5.51" fill="#ecaaaa" fill-opacity="0.9" stroke="#da9090" stroke-width="0.45"/><circle cx="35.47" cy="-5.41" r="2.53" fill="#ca7e7e" fill-opacity="0.92"/><circle cx="39.53" cy="3.15" r="5.95" fill="#ecaaaa" fill-opacity="0.9" stroke="#da9090" stroke-width="0.45"/><circle cx="40.2" cy="2.47" r="2.74" fill="#ca7e7e" fill-opacity="0.92"/><circle cx="30.06" cy="58.04" r="5.97" fill="#ecaaaa" fill-opacity="0.9" stroke="#da9090" stroke-width="0.45"/><circle cx="30.39" cy="58.35" r="2.75" fill="#ca7e7e" fill-opacity="0.92"/><circle cx="7.84" cy="16.15" r="5.52" fill="#ecaaaa" fill-opacity="0.9" stroke="#da9090" stroke-width="0.45"/><circle cx="8.85" cy="16.35" r="2.54" fill="#ca7e7e" fill-opacity="0.92"/><circle cx="2.66" cy="10.61" r="5.8" fill="#ecaaaa" fill-opacity="0.9" stroke="#da9090" stroke-width="0.45"/><circle cx="2.03" cy="11.07" r="2.67" fill="#ca7e7e" fill-opacity="0.92"/><circle cx="34.96" cy="48.78" r="6.43" fill="#ecaaaa" fill-opacity="0.9" stroke="#da9090" stroke-width="0.45"/><circle cx="34.57" cy="48.54" r="2.96" fill="#ca7e7e" fill-opacity="0.92"/><circle cx="2.75" cy="37.33" r="6.06" fill="#ecaaaa" fill-opacity="0.9" stroke="#da9090" stroke-width="0.45"/><circle cx="1.97" cy="37.1" r="2.79" fill="#ca7e7e" fill-opacity="0.92"/><circle cx="43.97" cy="35.69" r="6.42" fill="#ecaaaa" fill-opacity="0.9" stroke="#da9090" stroke-width="0.45"/><circle cx="44.11" cy="36.47" r="2.95" fill="#ca7e7e" fill-opacity="0.92"/><circle cx="30.64" cy="16.14" r="5.76" fill="#ecaaaa" fill-opacity="0.9" stroke="#da9090" stroke-width="0.45"/><circle cx="31.52" cy="16.82" r="2.65" fill="#ca7e7e" fill-opacity="0.92"/><circle cx="38.59" cy="17.73" r="5.73" fill="#ecaaaa" fill-opacity="0.9" stroke="#da9090" stroke-width="0.45"/><circle cx="38.66" cy="18.17" r="2.63" fill="#ca7e7e" fill-opacity="0.92"/><circle cx="18.41" cy="21.66" r="6.07" fill="#ecaaaa" fill-opacity="0.9" stroke="#da9090" stroke-width="0.45"/><circle cx="18.66" cy="21.04" r="2.79" fill="#ca7e7e" fill-opacity="0.92"/><circle cx="21.98" cy="17.95" r="6.05" fill="#ecaaaa" fill-opacity="0.9" stroke="#da9090" stroke-width="0.45"/><circle cx="21.63" cy="18.66" r="2.78" fill="#ca7e7e" fill-opacity="0.92"/><circle cx="31.56" cy="29.46" r="5.87" fill="#ecaaaa" fill-opacity="0.9" stroke="#da9090" stroke-width="0.45"/><circle cx="32.71" cy="29.66" r="2.7" fill="#ca7e7e" fill-opacity="0.92"/><circle cx="30.15" cy="43.47" r="5.73" fill="#ecaaaa" fill-opacity="0.9" stroke="#da9090" stroke-width="0.45"/><circle cx="29.95" cy="42.58" r="2.63" fill="#ca7e7e" fill-opacity="0.92"/><circle cx="58" cy="9.84" r="6.24" fill="#ecaaaa" fill-opacity="0.9" stroke="#da9090" stroke-width="0.45"/><circle cx="56.91" cy="10.09" r="2.87" fill="#ca7e7e" fill-opacity="0.92"/><circle cx="17.07" cy="30.71" r="5.81" fill="#ecaaaa" fill-opacity="0.9" stroke="#da9090" stroke-width="0.45"/><circle cx="17.74" cy="29.81" r="2.67" fill="#ca7e7e" fill-opacity="0.92"/><circle cx="-2.73" cy="22.09" r="6.18" fill="#ecaaaa" fill-opacity="0.9" stroke="#da9090" stroke-width="0.45"/><circle cx="-2.22" cy="21.45" r="2.84" fill="#ca7e7e" fill-opacity="0.92"/><circle cx="25.7" cy="10.93" r="5.63" fill="#ecaaaa" fill-opacity="0.9" stroke="#da9090" stroke-width="0.45"/><circle cx="25.4" cy="11.29" r="2.59" fill="#ca7e7e" fill-opacity="0.92"/><circle cx="-0.75" cy="16.66" r="5.76" fill="#ecaaaa" fill-opacity="0.9" stroke="#da9090" stroke-width="0.45"/><circle cx="-1.93" cy="16.52" r="2.65" fill="#ca7e7e" fill-opacity="0.92"/><circle cx="12.14" cy="8.56" r="6.31" fill="#ecaaaa" fill-opacity="0.9" stroke="#da9090" stroke-width="0.45"/><circle cx="11.31" cy="9.62" r="2.9" fill="#ca7e7e" fill-opacity="0.92"/><circle cx="23.21" cy="30.66" r="6.01" fill="#ecaaaa" fill-opacity="0.9" stroke="#da9090" stroke-width="0.45"/><circle cx="22.4" cy="29.7" r="2.76" fill="#ca7e7e" fill-opacity="0.92"/><circle cx="53.9" cy="3.69" r="5.87" fill="#ecaaaa" fill-opacity="0.9" stroke="#da9090" stroke-width="0.45"/><circle cx="53.84" cy="2.91" r="2.7" fill="#ca7e7e" fill-opacity="0.92"/><circle cx="16.62" cy="3.05" r="5.58" fill="#ecaaaa" fill-opacity="0.9" stroke="#da9090" stroke-width="0.45"/><circle cx="16.62" cy="2.46" r="2.57" fill="#ca7e7e" fill-opacity="0.92"/><circle cx="59.75" cy="23.02" r="5.94" fill="#ecaaaa" fill-opacity="0.9" stroke="#da9090" stroke-width="0.45"/><circle cx="59.63" cy="23.49" r="2.73" fill="#ca7e7e" fill-opacity="0.92"/><circle cx="11.05" cy="22.69" r="6.08" fill="#ecaaaa" fill-opacity="0.9" stroke="#da9090" stroke-width="0.45"/><circle cx="10.4" cy="21.92" r="2.8" fill="#ca7e7e" fill-opacity="0.92"/><circle cx="22.92" cy="57.52" r="6.36" fill="#ecaaaa" fill-opacity="0.9" stroke="#da9090" stroke-width="0.45"/><circle cx="21.84" cy="56.62" r="2.92" fill="#ca7e7e" fill-opacity="0.92"/><circle cx="28.45" cy="-4.86" r="5.57" fill="#ecaaaa" fill-opacity="0.9" stroke="#da9090" stroke-width="0.45"/><circle cx="29.23" cy="-4.76" r="2.56" fill="#ca7e7e" fill-opacity="0.92"/><circle cx="43.42" cy="21.71" r="6.42" fill="#ecaaaa" fill-opacity="0.9" stroke="#da9090" stroke-width="0.45"/><circle cx="43.72" cy="21.32" r="2.95" fill="#ca7e7e" fill-opacity="0.92"/><circle cx="9.06" cy="44.57" r="5.93" fill="#ecaaaa" fill-opacity="0.9" stroke="#da9090" stroke-width="0.45"/><circle cx="9.62" cy="43.93" r="2.73" fill="#ca7e7e" fill-opacity="0.92"/><circle cx="43.65" cy="48.7" r="6.3" fill="#ecaaaa" fill-opacity="0.9" stroke="#da9090" stroke-width="0.45"/><circle cx="43.43" cy="47.6" r="2.9" fill="#ca7e7e" fill-opacity="0.92"/><circle cx="48.15" cy="16.4" r="5.84" fill="#ecaaaa" fill-opacity="0.9" stroke="#da9090" stroke-width="0.45"/><circle cx="48.29" cy="15.55" r="2.69" fill="#ca7e7e" fill-opacity="0.92"/><circle cx="51.19" cy="-2.64" r="6.41" fill="#ecaaaa" fill-opacity="0.9" stroke="#da9090" stroke-width="0.45"/><circle cx="52.22" cy="-2.62" r="2.95" fill="#ca7e7e" fill-opacity="0.92"/><circle cx="2.28" cy="-2.4" r="6.4" fill="#ecaaaa" fill-opacity="0.9" stroke="#da9090" stroke-width="0.45"/><circle cx="2.73" cy="-2.31" r="2.95" fill="#ca7e7e" fill-opacity="0.92"/><circle cx="12.85" cy="50.76" r="5.66" fill="#ecaaaa" fill-opacity="0.9" stroke="#da9090" stroke-width="0.45"/><circle cx="13.93" cy="51.76" r="2.6" fill="#ca7e7e" fill-opacity="0.92"/><circle cx="4.33" cy="49.19" r="5.95" fill="#ecaaaa" fill-opacity="0.9" stroke="#da9090" stroke-width="0.45"/><circle cx="4.05" cy="48.17" r="2.74" fill="#ca7e7e" fill-opacity="0.92"/><circle cx="-2.53" cy="-5.15" r="6.12" fill="#ecaaaa" fill-opacity="0.9" stroke="#da9090" stroke-width="0.45"/><circle cx="-1.68" cy="-5.42" r="2.81" fill="#ca7e7e" fill-opacity="0.92"/><circle cx="27.31" cy="24.09" r="5.79" fill="#ecaaaa" fill-opacity="0.9" stroke="#da9090" stroke-width="0.45"/><circle cx="27.58" cy="24.79" r="2.66" fill="#ca7e7e" fill-opacity="0.92"/><circle cx="42.51" cy="10.09" r="5.67" fill="#ecaaaa" fill-opacity="0.9" stroke="#da9090" stroke-width="0.45"/><circle cx="41.99" cy="10.43" r="2.61" fill="#ca7e7e" fill-opacity="0.92"/><circle cx="24.7" cy="3.66" r="5.54" fill="#ecaaaa" fill-opacity="0.9" stroke="#da9090" stroke-width="0.45"/><circle cx="25.46" cy="3.22" r="2.55" fill="#ca7e7e" fill-opacity="0.92"/><circle cx="17.98" cy="50.28" r="6.33" fill="#ecaaaa" fill-opacity="0.9" stroke="#da9090" stroke-width="0.45"/><circle cx="17.87" cy="49.48" r="2.91" fill="#ca7e7e" fill-opacity="0.92"/><circle cx="17.93" cy="38.21" r="5.52" fill="#ecaaaa" fill-opacity="0.9" stroke="#da9090" stroke-width="0.45"/><circle cx="17.01" cy="37.64" r="2.54" fill="#ca7e7e" fill-opacity="0.92"/><circle cx="-0.6" cy="44.25" r="6.26" fill="#ecaaaa" fill-opacity="0.9" stroke="#da9090" stroke-width="0.45"/><circle cx="0.11" cy="44.57" r="2.88" fill="#ca7e7e" fill-opacity="0.92"/><circle cx="54.18" cy="15.07" r="5.81" fill="#ecaaaa" fill-opacity="0.9" stroke="#da9090" stroke-width="0.45"/><circle cx="54.58" cy="15.63" r="2.67" fill="#ca7e7e" fill-opacity="0.92"/><circle cx="19.88" cy="-4.49" r="5.87" fill="#ecaaaa" fill-opacity="0.9" stroke="#da9090" stroke-width="0.45"/><circle cx="18.88" cy="-4.57" r="2.7" fill="#ca7e7e" fill-opacity="0.92"/><circle cx="45.93" cy="4.25" r="5.72" fill="#ecaaaa" fill-opacity="0.9" stroke="#da9090" stroke-width="0.45"/><circle cx="45.18" cy="3.98" r="2.63" fill="#ca7e7e" fill-opacity="0.92"/><circle cx="27.53" cy="48.82" r="5.57" fill="#ecaaaa" fill-opacity="0.9" stroke="#da9090" stroke-width="0.45"/><circle cx="28.49" cy="48.3" r="2.56" fill="#ca7e7e" fill-opacity="0.92"/><circle cx="39.81" cy="30.95" r="6.4" fill="#ecaaaa" fill-opacity="0.9" stroke="#da9090" stroke-width="0.45"/><circle cx="40.38" cy="29.78" r="2.94" fill="#ca7e7e" fill-opacity="0.92"/><circle cx="43.12" cy="-2.62" r="6.4" fill="#ecaaaa" fill-opacity="0.9" stroke="#da9090" stroke-width="0.45"/><circle cx="43.87" cy="-2.56" r="2.94" fill="#ca7e7e" fill-opacity="0.92"/><circle cx="7.09" cy="1.79" r="6.38" fill="#ecaaaa" fill-opacity="0.9" stroke="#da9090" stroke-width="0.45"/><circle cx="7.04" cy="0.65" r="2.94" fill="#ca7e7e" fill-opacity="0.92"/><circle cx="40.16" cy="57.24" r="5.65" fill="#ecaaaa" fill-opacity="0.9" stroke="#da9090" stroke-width="0.45"/><circle cx="39.7" cy="58.1" r="2.6" fill="#ca7e7e" fill-opacity="0.92"/><circle cx="47.05" cy="31.35" r="6.33" fill="#ecaaaa" fill-opacity="0.9" stroke="#da9090" stroke-width="0.45"/><circle cx="46.13" cy="30.99" r="2.91" fill="#ca7e7e" fill-opacity="0.92"/><circle cx="1.12" cy="3.07" r="5.61" fill="#ecaaaa" fill-opacity="0.9" stroke="#da9090" stroke-width="0.45"/><circle cx="0.47" cy="2.72" r="2.58" fill="#ca7e7e" fill-opacity="0.92"/><circle cx="1.01" cy="29.93" r="5.91" fill="#ecaaaa" fill-opacity="0.9" stroke="#da9090" stroke-width="0.45"/><circle cx="0.17" cy="30.3" r="2.72" fill="#ca7e7e" fill-opacity="0.92"/><circle cx="-3.57" cy="36.21" r="5.74" fill="#ecaaaa" fill-opacity="0.9" stroke="#da9090" stroke-width="0.45"/><circle cx="-2.63" cy="36.16" r="2.64" fill="#ca7e7e" fill-opacity="0.92"/><circle cx="7.2" cy="58.24" r="5.93" fill="#ecaaaa" fill-opacity="0.9" stroke="#da9090" stroke-width="0.45"/><circle cx="7.83" cy="57.87" r="2.73" fill="#ca7e7e" fill-opacity="0.92"/><circle cx="51.93" cy="8.96" r="5.76" fill="#ecaaaa" fill-opacity="0.9" stroke="#da9090" stroke-width="0.45"/><circle cx="51.03" cy="8.46" r="2.65" fill="#ca7e7e" fill-opacity="0.92"/><circle cx="-4.75" cy="48.9" r="5.73" fill="#ecaaaa" fill-opacity="0.9" stroke="#da9090" stroke-width="0.45"/><circle cx="-4.18" cy="48.55" r="2.64" fill="#ca7e7e" fill-opacity="0.92"/><circle cx="-2.55" cy="10.05" r="6.21" fill="#ecaaaa" fill-opacity="0.9" stroke="#da9090" stroke-width="0.45"/><circle cx="-3.08" cy="9.02" r="2.86" fill="#ca7e7e" fill-opacity="0.92"/><circle cx="16.52" cy="55.5" r="5.8" fill="#ecaaaa" fill-opacity="0.9" stroke="#da9090" stroke-width="0.45"/><circle cx="16.26" cy="56.49" r="2.67" fill="#ca7e7e" fill-opacity="0.92"/><circle cx="24.42" cy="42.01" r="5.7" fill="#ecaaaa" fill-opacity="0.9" stroke="#da9090" stroke-width="0.45"/><circle cx="23.72" cy="41.18" r="2.62" fill="#ca7e7e" fill-opacity="0.92"/><circle cx="38.52" cy="44.3" r="5.75" fill="#ecaaaa" fill-opacity="0.9" stroke="#da9090" stroke-width="0.45"/><circle cx="39.63" cy="45.34" r="2.65" fill="#ca7e7e" fill-opacity="0.92"/><circle cx="7.78" cy="30.2" r="5.73" fill="#ecaaaa" fill-opacity="0.9" stroke="#da9090" stroke-width="0.45"/><circle cx="6.7" cy="30.17" r="2.63" fill="#ca7e7e" fill-opacity="0.92"/><circle cx="17.96" cy="9.67" r="6.08" fill="#ecaaaa" fill-opacity="0.9" stroke="#da9090" stroke-width="0.45"/><circle cx="17.03" cy="9.48" r="2.8" fill="#ca7e7e" fill-opacity="0.92"/><circle cx="3.95" cy="22.66" r="6.27" fill="#ecaaaa" fill-opacity="0.9" stroke="#da9090" stroke-width="0.45"/><circle cx="2.75" cy="23.19" r="2.88" fill="#ca7e7e" fill-opacity="0.92"/><line x1="46.5" y1="53" x2="52.6" y2="35" stroke="#47982e" stroke-width="0.9" stroke-linecap="round"/><line x1="50" y1="47.5" x2="53" y2="44.5" stroke="#e1b32c" stroke-width="1.26" stroke-linecap="round"/><circle cx="12" cy="44" r="5" fill="#f7dada" fill-opacity="0.9" stroke="#f0d0d0" stroke-width="0.45"/><circle cx="12.6" cy="44.4" r="2.3" fill="#ecc4c4" fill-opacity="0.92"/><circle cx="17" cy="47" r="5" fill="#f7dada" fill-opacity="0.9" stroke="#f0d0d0" stroke-width="0.45"/><circle cx="17.6" cy="47.4" r="2.3" fill="#ecc4c4" fill-opacity="0.92"/><circle cx="9" cy="38" r="5" fill="#f7dada" fill-opacity="0.9" stroke="#f0d0d0" stroke-width="0.45"/><circle cx="9.6" cy="38.4" r="2.3" fill="#ecc4c4" fill-opacity="0.92"/><circle cx="21" cy="12.5" r="6.2" fill="#f9d6e0" fill-opacity="0.97" stroke="#f0c4d2" stroke-width="0.45"/><circle cx="21" cy="12.5" r="2.85" fill="#f1b6ca" fill-opacity="0.92"/><circle cx="15.4" cy="23.75" r="6.2" fill="#f9d6e0" fill-opacity="0.97" stroke="#f0c4d2" stroke-width="0.45"/><circle cx="15.4" cy="23.75" r="2.85" fill="#f1b6ca" fill-opacity="0.92"/><circle cx="28.5" cy="17.5" r="6.2" fill="#f9d6e0" fill-opacity="0.97" stroke="#f0c4d2" stroke-width="0.45"/><circle cx="28.5" cy="17.5" r="2.85" fill="#f1b6ca" fill-opacity="0.92"/><circle cx="24.75" cy="33.1" r="6.2" fill="#f9d6e0" fill-opacity="0.97" stroke="#f0c4d2" stroke-width="0.45"/><circle cx="24.75" cy="33.1" r="2.85" fill="#f1b6ca" fill-opacity="0.92"/><circle cx="44.1" cy="28.1" r="6.2" fill="#f9d6e0" fill-opacity="0.97" stroke="#f0c4d2" stroke-width="0.45"/><circle cx="44.1" cy="28.1" r="2.85" fill="#f1b6ca" fill-opacity="0.92"/><circle cx="34" cy="22" r="6.2" fill="#f9d6e0" fill-opacity="0.97" stroke="#f0c4d2" stroke-width="0.45"/><circle cx="34" cy="22" r="2.85" fill="#f1b6ca" fill-opacity="0.92"/><g transform="rotate(-30 10.6 15.6)"><ellipse cx="10.6" cy="15.6" rx="4.5" ry="3.6" fill="#f8d468" stroke="#eeb040" stroke-width="0.4"/><ellipse cx="10.6" cy="15.6" rx="2.79" ry="2.23" fill="#2f72f2"/></g><g transform="rotate(-25 26 24.6)"><ellipse cx="26" cy="24.6" rx="4.5" ry="3.6" fill="#f8d468" stroke="#eeb040" stroke-width="0.4"/><ellipse cx="26" cy="24.6" rx="2.79" ry="2.23" fill="#2f72f2"/></g><g transform="rotate(-35 37.25 17.9)"><ellipse cx="37.25" cy="17.9" rx="4.5" ry="3.6" fill="#f8d468" stroke="#eeb040" stroke-width="0.4"/><ellipse cx="37.25" cy="17.9" rx="2.79" ry="2.23" fill="#2f72f2"/></g><g transform="rotate(-40 34.1 27.5)"><ellipse cx="34.1" cy="27.5" rx="4.5" ry="3.6" fill="#f8d468" stroke="#eeb040" stroke-width="0.4"/><ellipse cx="34.1" cy="27.5" rx="2.79" ry="2.23" fill="#2f72f2"/></g>
</g>
<rect x="0" y="0" width="53.2" height="53.2" fill="none" stroke="#222" stroke-width="0.9"/>
</g>
<text x="217" y="517.3" text-anchor="middle" fill="#f0b82e" stroke="#f0b82e">Hypoxic SPP1</text>
<clipPath id="cp3"><rect x="0" y="0" width="53.2" height="53.2"/></clipPath>
<g transform="translate(264.3 425.3)">
<rect x="0" y="0" width="53.2" height="53.2" fill="#fff"/>
<g clip-path="url(#cp3)">
<circle cx="54" cy="6" r="5" fill="#c8e0dc" fill-opacity="0.95" stroke="#b6d4ce" stroke-width="0.25"/><circle cx="29.75" cy="13.1" r="5.5" fill="#f7dada" fill-opacity="0.9" stroke="#f0d0d0" stroke-width="0.45"/><circle cx="30.35" cy="13.5" r="2.53" fill="#ecc4c4" fill-opacity="0.92"/><circle cx="22" cy="50" r="5.5" fill="#f7dada" fill-opacity="0.9" stroke="#f0d0d0" stroke-width="0.45"/><circle cx="22.6" cy="50.4" r="2.53" fill="#ecc4c4" fill-opacity="0.92"/><circle cx="37" cy="6" r="5.2" fill="#f7dada" fill-opacity="0.9" stroke="#f0d0d0" stroke-width="0.45"/><circle cx="37.6" cy="6.4" r="2.39" fill="#ecc4c4" fill-opacity="0.92"/><circle cx="43.59" cy="9.76" r="6.4" fill="#eeb0b0" fill-opacity="0.88" stroke="#df9696" stroke-width="0.45"/><circle cx="43.67" cy="9.48" r="2.94" fill="#cf8484" fill-opacity="0.92"/><circle cx="55.77" cy="3.59" r="6.09" fill="#eeb0b0" fill-opacity="0.88" stroke="#df9696" stroke-width="0.45"/><circle cx="56.47" cy="4.77" r="2.8" fill="#cf8484" fill-opacity="0.92"/><circle cx="52.02" cy="-3.57" r="5.99" fill="#eeb0b0" fill-opacity="0.88" stroke="#df9696" stroke-width="0.45"/><circle cx="52.04" cy="-4.02" r="2.76" fill="#cf8484" fill-opacity="0.92"/><circle cx="27.18" cy="23.5" r="6.04" fill="#eeb0b0" fill-opacity="0.88" stroke="#df9696" stroke-width="0.45"/><circle cx="27.29" cy="22.98" r="2.78" fill="#cf8484" fill-opacity="0.92"/><circle cx="38.77" cy="57.52" r="5.96" fill="#eeb0b0" fill-opacity="0.88" stroke="#df9696" stroke-width="0.45"/><circle cx="39.77" cy="56.89" r="2.74" fill="#cf8484" fill-opacity="0.92"/><circle cx="57.18" cy="8.98" r="5.75" fill="#eeb0b0" fill-opacity="0.88" stroke="#df9696" stroke-width="0.45"/><circle cx="56.71" cy="9.85" r="2.65" fill="#cf8484" fill-opacity="0.92"/><circle cx="28.27" cy="48.74" r="5.8" fill="#eeb0b0" fill-opacity="0.88" stroke="#df9696" stroke-width="0.45"/><circle cx="29.06" cy="49.77" r="2.67" fill="#cf8484" fill-opacity="0.92"/><circle cx="39.29" cy="29.25" r="6.38" fill="#eeb0b0" fill-opacity="0.88" stroke="#df9696" stroke-width="0.45"/><circle cx="40.02" cy="28.51" r="2.93" fill="#cf8484" fill-opacity="0.92"/><circle cx="42.89" cy="-4.18" r="5.95" fill="#eeb0b0" fill-opacity="0.88" stroke="#df9696" stroke-width="0.45"/><circle cx="43.67" cy="-4.79" r="2.74" fill="#cf8484" fill-opacity="0.92"/><circle cx="34.13" cy="35.41" r="6.1" fill="#eeb0b0" fill-opacity="0.88" stroke="#df9696" stroke-width="0.45"/><circle cx="35.02" cy="36.45" r="2.81" fill="#cf8484" fill-opacity="0.92"/><circle cx="23.03" cy="55.89" r="5.85" fill="#eeb0b0" fill-opacity="0.88" stroke="#df9696" stroke-width="0.45"/><circle cx="22.11" cy="54.76" r="2.69" fill="#cf8484" fill-opacity="0.92"/><circle cx="43.13" cy="23.88" r="5.82" fill="#eeb0b0" fill-opacity="0.88" stroke="#df9696" stroke-width="0.45"/><circle cx="43.24" cy="23.35" r="2.68" fill="#cf8484" fill-opacity="0.92"/><circle cx="30.09" cy="30.61" r="6.32" fill="#eeb0b0" fill-opacity="0.88" stroke="#df9696" stroke-width="0.45"/><circle cx="30.45" cy="30.9" r="2.91" fill="#cf8484" fill-opacity="0.92"/><circle cx="39.9" cy="42.34" r="6.33" fill="#eeb0b0" fill-opacity="0.88" stroke="#df9696" stroke-width="0.45"/><circle cx="39.49" cy="42.7" r="2.91" fill="#cf8484" fill-opacity="0.92"/><circle cx="38.29" cy="14.98" r="5.85" fill="#eeb0b0" fill-opacity="0.88" stroke="#df9696" stroke-width="0.45"/><circle cx="37.78" cy="14.06" r="2.69" fill="#cf8484" fill-opacity="0.92"/><circle cx="32.06" cy="57.22" r="6.29" fill="#eeb0b0" fill-opacity="0.88" stroke="#df9696" stroke-width="0.45"/><circle cx="33.02" cy="56.09" r="2.89" fill="#cf8484" fill-opacity="0.92"/><circle cx="27.6" cy="37.42" r="6.22" fill="#eeb0b0" fill-opacity="0.88" stroke="#df9696" stroke-width="0.45"/><circle cx="26.55" cy="37.23" r="2.86" fill="#cf8484" fill-opacity="0.92"/><circle cx="30.82" cy="44.84" r="5.82" fill="#eeb0b0" fill-opacity="0.88" stroke="#df9696" stroke-width="0.45"/><circle cx="31.79" cy="44.67" r="2.68" fill="#cf8484" fill-opacity="0.92"/><circle cx="55.4" cy="15.11" r="6.01" fill="#eeb0b0" fill-opacity="0.88" stroke="#df9696" stroke-width="0.45"/><circle cx="55.05" cy="14.52" r="2.76" fill="#cf8484" fill-opacity="0.92"/><circle cx="57.76" cy="-4.61" r="5.74" fill="#eeb0b0" fill-opacity="0.88" stroke="#df9696" stroke-width="0.45"/><circle cx="56.71" cy="-5.78" r="2.64" fill="#cf8484" fill-opacity="0.92"/><circle cx="46.01" cy="1.87" r="6.05" fill="#eeb0b0" fill-opacity="0.88" stroke="#df9696" stroke-width="0.45"/><circle cx="46.58" cy="2.28" r="2.78" fill="#cf8484" fill-opacity="0.92"/><circle cx="49.4" cy="8.45" r="5.76" fill="#eeb0b0" fill-opacity="0.88" stroke="#df9696" stroke-width="0.45"/><circle cx="50.57" cy="7.44" r="2.65" fill="#cf8484" fill-opacity="0.92"/><circle cx="37.48" cy="4.32" r="5.93" fill="#eeb0b0" fill-opacity="0.88" stroke="#df9696" stroke-width="0.45"/><circle cx="37.08" cy="3.55" r="2.73" fill="#cf8484" fill-opacity="0.92"/><circle cx="43.18" cy="49.73" r="6.46" fill="#eeb0b0" fill-opacity="0.88" stroke="#df9696" stroke-width="0.45"/><circle cx="43.7" cy="48.85" r="2.97" fill="#cf8484" fill-opacity="0.92"/><circle cx="33.42" cy="51.45" r="5.68" fill="#eeb0b0" fill-opacity="0.88" stroke="#df9696" stroke-width="0.45"/><circle cx="34.16" cy="51.14" r="2.61" fill="#cf8484" fill-opacity="0.92"/><circle cx="42.07" cy="36.98" r="5.8" fill="#eeb0b0" fill-opacity="0.88" stroke="#df9696" stroke-width="0.45"/><circle cx="41.58" cy="36.56" r="2.67" fill="#cf8484" fill-opacity="0.92"/><circle cx="33.51" cy="21.82" r="6.09" fill="#eeb0b0" fill-opacity="0.88" stroke="#df9696" stroke-width="0.45"/><circle cx="33.06" cy="22.04" r="2.8" fill="#cf8484" fill-opacity="0.92"/><circle cx="31.22" cy="17.27" r="5.56" fill="#eeb0b0" fill-opacity="0.88" stroke="#df9696" stroke-width="0.45"/><circle cx="31.31" cy="17.47" r="2.56" fill="#cf8484" fill-opacity="0.92"/><circle cx="46.64" cy="15.97" r="5.82" fill="#eeb0b0" fill-opacity="0.88" stroke="#df9696" stroke-width="0.45"/><circle cx="47.52" cy="17" r="2.68" fill="#cf8484" fill-opacity="0.92"/><circle cx="49.75" cy="28.1" r="6.2" fill="#f9d6e0" fill-opacity="0.97" stroke="#f0c4d2" stroke-width="0.45"/><circle cx="49.75" cy="28.1" r="2.85" fill="#f1b6ca" fill-opacity="0.92"/><circle cx="46" cy="39.4" r="6.2" fill="#f9d6e0" fill-opacity="0.97" stroke="#f0c4d2" stroke-width="0.45"/><circle cx="46" cy="39.4" r="2.85" fill="#f1b6ca" fill-opacity="0.92"/><circle cx="51" cy="49" r="6.2" fill="#f9d6e0" fill-opacity="0.97" stroke="#f0c4d2" stroke-width="0.45"/><circle cx="51" cy="49" r="2.85" fill="#f1b6ca" fill-opacity="0.92"/><circle cx="41" cy="47.5" r="6.2" fill="#f9d6e0" fill-opacity="0.97" stroke="#f0c4d2" stroke-width="0.45"/><circle cx="41" cy="47.5" r="2.85" fill="#f1b6ca" fill-opacity="0.92"/><circle cx="52" cy="18" r="6.2" fill="#f9d6e0" fill-opacity="0.97" stroke="#f0c4d2" stroke-width="0.45"/><circle cx="52" cy="18" r="2.85" fill="#f1b6ca" fill-opacity="0.92"/><polygon points="25.4,9.4 23.95,10.44 24.61,12.1 22.82,12.2 22.48,13.95 20.93,13.06 19.69,14.35 18.86,12.77 17.13,13.18 17.29,11.4 15.6,10.81 16.7,9.4 15.6,7.99 17.29,7.4 17.13,5.62 18.86,6.03 19.69,4.45 20.93,5.74 22.48,4.85 22.82,6.6 24.61,6.7 23.95,8.36" fill="#d23436"/><circle cx="20.4" cy="9.4" r="3.5" fill="#d94444"/><circle cx="20.4" cy="9.4" r="2.1" fill="#ae1a24"/><polygon points="15.39,24.3 13.62,24.52 13.4,26.29 11.79,25.52 10.64,26.89 9.71,25.37 8,25.9 8.04,24.12 6.31,23.65 7.31,22.16 6.11,20.84 7.75,20.13 7.47,18.36 9.23,18.65 9.94,17.01 11.26,18.21 12.75,17.22 13.22,18.94 15,18.9 14.47,20.61 15.99,21.54 14.62,22.69" fill="#d23436"/><circle cx="11" cy="21.9" r="3.5" fill="#d94444"/><circle cx="11" cy="21.9" r="2.1" fill="#ae1a24"/><polygon points="21.2,32.96 19.54,32.3 18.5,33.75 17.46,32.3 15.8,32.96 15.7,31.17 13.95,30.83 14.84,29.28 13.55,28.04 15.13,27.21 14.72,25.47 16.5,25.64 17.09,23.95 18.5,25.05 19.91,23.95 20.5,25.64 22.28,25.48 21.87,27.21 23.45,28.04 22.16,29.28 23.05,30.83 21.3,31.17" fill="#d23436"/><circle cx="18.5" cy="28.75" r="3.5" fill="#d94444"/><circle cx="18.5" cy="28.75" r="2.1" fill="#ae1a24"/><polygon points="12.6,39.99 11.46,38.61 9.85,39.39 9.63,37.61 7.86,37.39 8.63,35.78 7.26,34.64 8.78,33.7 8.25,32 10.03,32.04 10.51,30.31 11.99,31.31 13.32,30.11 14.03,31.75 15.79,31.47 15.5,33.23 17.14,33.94 15.94,35.27 16.93,36.75 15.21,37.22 15.24,39 13.54,38.47" fill="#d23436"/><circle cx="12.25" cy="35" r="3.5" fill="#d94444"/><circle cx="12.25" cy="35" r="2.1" fill="#ae1a24"/><polygon points="43.92,12.65 43.57,10.89 41.79,10.8 42.45,9.14 41,8.1 42.45,7.05 41.8,5.39 43.58,5.3 43.93,3.55 45.48,4.44 46.72,3.15 47.54,4.74 49.28,4.32 49.11,6.1 50.8,6.7 49.7,8.1 50.8,9.51 49.11,10.1 49.27,11.88 47.53,11.47 46.71,13.05 45.47,11.76" fill="#d23436"/><circle cx="46" cy="8.1" r="3.5" fill="#d94444"/><circle cx="46" cy="8.1" r="2.1" fill="#ae1a24"/><g transform="rotate(-20 12.9 12.5)"><ellipse cx="12.9" cy="12.5" rx="4.4" ry="3.3" fill="#f8d468" stroke="#eeb040" stroke-width="0.4"/><ellipse cx="12.9" cy="12.5" rx="2.73" ry="2.05" fill="#2f72f2"/></g><g transform="rotate(-50 19.75 19.4)"><ellipse cx="19.75" cy="19.4" rx="4.4" ry="3.3" fill="#f8d468" stroke="#eeb040" stroke-width="0.4"/><ellipse cx="19.75" cy="19.4" rx="2.73" ry="2.05" fill="#2f72f2"/></g><g transform="rotate(-40 6.6 30)"><ellipse cx="6.6" cy="30" rx="4.4" ry="3.3" fill="#f8d468" stroke="#eeb040" stroke-width="0.4"/><ellipse cx="6.6" cy="30" rx="2.73" ry="2.05" fill="#2f72f2"/></g><g transform="rotate(-50 19.75 38.75)"><ellipse cx="19.75" cy="38.75" rx="4.4" ry="3.3" fill="#f8d468" stroke="#eeb040" stroke-width="0.4"/><ellipse cx="19.75" cy="38.75" rx="2.73" ry="2.05" fill="#2f72f2"/></g><g transform="rotate(-30 40.4 31.9)"><ellipse cx="40.4" cy="31.9" rx="4.4" ry="3.3" fill="#f8d468" stroke="#eeb040" stroke-width="0.4"/><ellipse cx="40.4" cy="31.9" rx="2.73" ry="2.05" fill="#2f72f2"/></g><g transform="rotate(10 41 0.2)"><ellipse cx="41" cy="0.2" rx="4.4" ry="3.3" fill="#f8d468" stroke="#eeb040" stroke-width="0.4"/><ellipse cx="41" cy="0.2" rx="2.73" ry="2.05" fill="#2f72f2"/></g><g transform="rotate(-50 49.9 1.6)"><ellipse cx="49.9" cy="1.6" rx="4.4" ry="3.3" fill="#f8d468" stroke="#eeb040" stroke-width="0.4"/><ellipse cx="49.9" cy="1.6" rx="2.73" ry="2.05" fill="#2f72f2"/></g><g transform="rotate(90 54 41.25)"><ellipse cx="54" cy="41.25" rx="4.4" ry="3.3" fill="#f8d468" stroke="#eeb040" stroke-width="0.4"/><ellipse cx="54" cy="41.25" rx="2.73" ry="2.05" fill="#2f72f2"/></g>
</g>
<rect x="0" y="0" width="53.2" height="53.2" fill="none" stroke="#222" stroke-width="0.9"/>
</g>
<text x="291.2" y="422" text-anchor="middle" fill="#e8801f" stroke="#e8801f">Peri-tumoral SPP1</text>
<clipPath id="cp4"><rect x="0" y="0" width="53.2" height="53.2"/></clipPath>
<g transform="translate(264.3 489.7)">
<rect x="0" y="0" width="53.2" height="53.2" fill="#fff"/>
<g clip-path="url(#cp4)">
<circle cx="31.09" cy="44.81" r="5.81" fill="#eeb0b0" fill-opacity="0.88" stroke="#df9696" stroke-width="0.45"/><circle cx="30.18" cy="44.67" r="2.67" fill="#cf8484" fill-opacity="0.92"/><circle cx="9.04" cy="57.5" r="5.56" fill="#eeb0b0" fill-opacity="0.88" stroke="#df9696" stroke-width="0.45"/><circle cx="8.4" cy="56.36" r="2.56" fill="#cf8484" fill-opacity="0.92"/><circle cx="30.52" cy="57.56" r="5.58" fill="#eeb0b0" fill-opacity="0.88" stroke="#df9696" stroke-width="0.45"/><circle cx="31.23" cy="56.49" r="2.57" fill="#cf8484" fill-opacity="0.92"/><circle cx="49.39" cy="49.94" r="6.05" fill="#eeb0b0" fill-opacity="0.88" stroke="#df9696" stroke-width="0.45"/><circle cx="49.9" cy="49.56" r="2.78" fill="#cf8484" fill-opacity="0.92"/><circle cx="22.73" cy="57.37" r="6.15" fill="#eeb0b0" fill-opacity="0.88" stroke="#df9696" stroke-width="0.45"/><circle cx="21.8" cy="57.47" r="2.83" fill="#cf8484" fill-opacity="0.92"/><circle cx="37.55" cy="44.82" r="5.95" fill="#eeb0b0" fill-opacity="0.88" stroke="#df9696" stroke-width="0.45"/><circle cx="38.43" cy="45.31" r="2.74" fill="#cf8484" fill-opacity="0.92"/><circle cx="34.08" cy="49.1" r="5.99" fill="#eeb0b0" fill-opacity="0.88" stroke="#df9696" stroke-width="0.45"/><circle cx="32.98" cy="48.84" r="2.75" fill="#cf8484" fill-opacity="0.92"/><circle cx="10.71" cy="50.9" r="6.33" fill="#eeb0b0" fill-opacity="0.88" stroke="#df9696" stroke-width="0.45"/><circle cx="10.85" cy="49.92" r="2.91" fill="#cf8484" fill-opacity="0.92"/><circle cx="-2.52" cy="51.06" r="6.39" fill="#eeb0b0" fill-opacity="0.88" stroke="#df9696" stroke-width="0.45"/><circle cx="-2.27" cy="50.39" r="2.94" fill="#cf8484" fill-opacity="0.92"/><circle cx="26.6" cy="50.4" r="6.11" fill="#eeb0b0" fill-opacity="0.88" stroke="#df9696" stroke-width="0.45"/><circle cx="26.72" cy="50.54" r="2.81" fill="#cf8484" fill-opacity="0.92"/><circle cx="52.95" cy="55.71" r="5.55" fill="#eeb0b0" fill-opacity="0.88" stroke="#df9696" stroke-width="0.45"/><circle cx="52.91" cy="56.5" r="2.55" fill="#cf8484" fill-opacity="0.92"/><circle cx="22.72" cy="42.94" r="6.02" fill="#eeb0b0" fill-opacity="0.88" stroke="#df9696" stroke-width="0.45"/><circle cx="23.9" cy="42.26" r="2.77" fill="#cf8484" fill-opacity="0.92"/><circle cx="16.07" cy="57.68" r="5.58" fill="#eeb0b0" fill-opacity="0.88" stroke="#df9696" stroke-width="0.45"/><circle cx="15.78" cy="58.03" r="2.57" fill="#cf8484" fill-opacity="0.92"/><circle cx="55.47" cy="43.12" r="6.27" fill="#eeb0b0" fill-opacity="0.88" stroke="#df9696" stroke-width="0.45"/><circle cx="54.59" cy="42.15" r="2.89" fill="#cf8484" fill-opacity="0.92"/><circle cx="47.65" cy="55.85" r="6.39" fill="#eeb0b0" fill-opacity="0.88" stroke="#df9696" stroke-width="0.45"/><circle cx="47.12" cy="56.59" r="2.94" fill="#cf8484" fill-opacity="0.92"/><circle cx="-0.71" cy="55.88" r="6.43" fill="#eeb0b0" fill-opacity="0.88" stroke="#df9696" stroke-width="0.45"/><circle cx="-1.09" cy="56.17" r="2.96" fill="#cf8484" fill-opacity="0.92"/><circle cx="48.1" cy="44.09" r="5.88" fill="#eeb0b0" fill-opacity="0.88" stroke="#df9696" stroke-width="0.45"/><circle cx="48.22" cy="43.69" r="2.71" fill="#cf8484" fill-opacity="0.92"/><circle cx="58.4" cy="50.73" r="5.92" fill="#eeb0b0" fill-opacity="0.88" stroke="#df9696" stroke-width="0.45"/><circle cx="58.89" cy="50.61" r="2.72" fill="#cf8484" fill-opacity="0.92"/><circle cx="-1.25" cy="44.92" r="5.6" fill="#f7dada" fill-opacity="0.9" stroke="#f0d0d0" stroke-width="0.45"/><circle cx="-0.65" cy="45.32" r="2.58" fill="#ecc4c4" fill-opacity="0.92"/><circle cx="15.81" cy="43.59" r="5.6" fill="#f7dada" fill-opacity="0.9" stroke="#f0d0d0" stroke-width="0.45"/><circle cx="16.41" cy="43.99" r="2.58" fill="#ecc4c4" fill-opacity="0.92"/><circle cx="4.4" cy="50.12" r="5.64" fill="#eeb0b0" fill-opacity="0.88" stroke="#df9696" stroke-width="0.45"/><circle cx="4.15" cy="49.4" r="2.59" fill="#cf8484" fill-opacity="0.92"/><circle cx="6.9" cy="42.64" r="5.6" fill="#f7dada" fill-opacity="0.9" stroke="#f0d0d0" stroke-width="0.45"/><circle cx="7.5" cy="43.04" r="2.58" fill="#ecc4c4" fill-opacity="0.92"/><circle cx="39.92" cy="55.53" r="6.26" fill="#eeb0b0" fill-opacity="0.88" stroke="#df9696" stroke-width="0.45"/><circle cx="39.48" cy="55.13" r="2.88" fill="#cf8484" fill-opacity="0.92"/><circle cx="41.8" cy="48.74" r="6.35" fill="#eeb0b0" fill-opacity="0.88" stroke="#df9696" stroke-width="0.45"/><circle cx="42.71" cy="48.48" r="2.92" fill="#cf8484" fill-opacity="0.92"/><circle cx="20.15" cy="48.7" r="5.6" fill="#f7dada" fill-opacity="0.9" stroke="#f0d0d0" stroke-width="0.45"/><circle cx="20.75" cy="49.1" r="2.58" fill="#ecc4c4" fill-opacity="0.92"/><circle cx="8" cy="41" r="5.5" fill="#f7dada" fill-opacity="0.9" stroke="#f0d0d0" stroke-width="0.45"/><circle cx="8.6" cy="41.4" r="2.53" fill="#ecc4c4" fill-opacity="0.92"/><circle cx="15" cy="44" r="5.2" fill="#f7dada" fill-opacity="0.9" stroke="#f0d0d0" stroke-width="0.45"/><circle cx="15.6" cy="44.4" r="2.39" fill="#ecc4c4" fill-opacity="0.92"/><circle cx="37" cy="40.5" r="5.97" fill="#eeb0b0" fill-opacity="0.88" stroke="#df9696" stroke-width="0.45"/><circle cx="37.13" cy="39.92" r="2.75" fill="#cf8484" fill-opacity="0.92"/><circle cx="44" cy="41" r="5.87" fill="#eeb0b0" fill-opacity="0.88" stroke="#df9696" stroke-width="0.45"/><circle cx="44.82" cy="40.96" r="2.7" fill="#cf8484" fill-opacity="0.92"/><circle cx="30" cy="42" r="5.99" fill="#eeb0b0" fill-opacity="0.88" stroke="#df9696" stroke-width="0.45"/><circle cx="30.24" cy="41.06" r="2.75" fill="#cf8484" fill-opacity="0.92"/><circle cx="50" cy="43" r="5.78" fill="#eeb0b0" fill-opacity="0.88" stroke="#df9696" stroke-width="0.45"/><circle cx="49.38" cy="43.64" r="2.66" fill="#cf8484" fill-opacity="0.92"/><polygon points="5.2,39.05 3.71,39.55 3.83,41.12 2.31,40.73 1.56,42.11 0.49,40.97 -0.89,41.73 -1.17,40.18 -2.74,40.08 -2.14,38.62 -3.4,37.69 -2.11,36.79 -2.67,35.32 -1.1,35.26 -0.77,33.72 0.58,34.52 1.69,33.4 2.4,34.81 3.93,34.47 3.76,36.03 5.24,36.57 4.26,37.8" fill="#d23436"/><circle cx="1" cy="37.75" r="3.08" fill="#d94444"/><circle cx="1" cy="37.75" r="1.85" fill="#ae1a24"/><circle cx="23.5" cy="11.5" r="4.6" fill="#c8e0dc" fill-opacity="0.95" stroke="#b6d4ce" stroke-width="0.25"/><circle cx="29.75" cy="9" r="4.6" fill="#c8e0dc" fill-opacity="0.95" stroke="#b6d4ce" stroke-width="0.25"/><circle cx="34.75" cy="12.75" r="4.6" fill="#c8e0dc" fill-opacity="0.95" stroke="#b6d4ce" stroke-width="0.25"/><circle cx="26" cy="17.75" r="4.6" fill="#c8e0dc" fill-opacity="0.95" stroke="#b6d4ce" stroke-width="0.25"/><circle cx="32.25" cy="19" r="4.6" fill="#c8e0dc" fill-opacity="0.95" stroke="#b6d4ce" stroke-width="0.25"/><circle cx="37.25" cy="20.25" r="4.6" fill="#c8e0dc" fill-opacity="0.95" stroke="#b6d4ce" stroke-width="0.25"/><circle cx="23.5" cy="24" r="4.6" fill="#c8e0dc" fill-opacity="0.95" stroke="#b6d4ce" stroke-width="0.25"/><circle cx="31" cy="25.25" r="4.6" fill="#c8e0dc" fill-opacity="0.95" stroke="#b6d4ce" stroke-width="0.25"/><circle cx="36" cy="27.75" r="4.6" fill="#c8e0dc" fill-opacity="0.95" stroke="#b6d4ce" stroke-width="0.25"/><circle cx="32.25" cy="31.5" r="4.6" fill="#c8e0dc" fill-opacity="0.95" stroke="#b6d4ce" stroke-width="0.25"/><circle cx="28.5" cy="34" r="4.6" fill="#c8e0dc" fill-opacity="0.95" stroke="#b6d4ce" stroke-width="0.25"/><circle cx="37.88" cy="14" r="4.6" fill="#c8e0dc" fill-opacity="0.95" stroke="#b6d4ce" stroke-width="0.25"/><circle cx="46.62" cy="35.88" r="4.6" fill="#c8e0dc" fill-opacity="0.95" stroke="#b6d4ce" stroke-width="0.25"/><circle cx="27.25" cy="14" r="4.6" fill="#c8e0dc" fill-opacity="0.95" stroke="#b6d4ce" stroke-width="0.25"/><polygon points="32.35,5.25 30.87,6.31 31.54,8.01 29.72,8.1 29.37,9.89 27.79,8.99 26.52,10.3 25.68,8.68 23.91,9.1 24.08,7.29 22.36,6.69 23.48,5.25 22.36,3.81 24.08,3.21 23.91,1.4 25.68,1.82 26.52,0.2 27.79,1.51 29.37,0.61 29.72,2.4 31.54,2.49 30.87,4.19" fill="#d23436"/><circle cx="27.25" cy="5.25" r="3.57" fill="#d94444"/><circle cx="27.25" cy="5.25" r="2.14" fill="#ae1a24"/><polygon points="20.81,18.78 18.99,18.82 18.58,20.6 17.03,19.65 15.73,20.93 14.93,19.29 13.15,19.66 13.37,17.85 11.67,17.2 12.83,15.79 11.75,14.32 13.49,13.77 13.37,11.95 15.13,12.42 16.02,10.83 17.24,12.18 18.85,11.32 19.15,13.12 20.97,13.27 20.25,14.94 21.7,16.05 20.19,17.07" fill="#d23436"/><circle cx="16.6" cy="15.9" r="3.57" fill="#d94444"/><circle cx="16.6" cy="15.9" r="2.14" fill="#ae1a24"/><polygon points="25.35,41.85 23.82,40.86 22.48,42.1 21.74,40.44 19.94,40.76 20.21,38.95 18.53,38.25 19.73,36.88 18.7,35.38 20.45,34.88 20.39,33.06 22.13,33.58 23.07,32.02 24.25,33.4 25.88,32.59 26.13,34.39 27.94,34.59 27.18,36.25 28.59,37.39 27.05,38.37 27.62,40.1 25.8,40.09" fill="#d23436"/><circle cx="23.5" cy="37.1" r="3.57" fill="#d94444"/><circle cx="23.5" cy="37.1" r="2.14" fill="#ae1a24"/><polygon points="39.24,38.97 38.54,37.28 36.74,37.55 37.06,35.76 35.4,35.01 36.64,33.67 35.65,32.15 37.41,31.69 37.41,29.87 39.13,30.44 40.11,28.91 41.26,30.32 42.91,29.56 43.11,31.37 44.91,31.62 44.1,33.25 45.48,34.44 43.92,35.37 44.44,37.12 42.62,37.05 42.11,38.8 40.61,37.77" fill="#d23436"/><circle cx="40.4" cy="34" r="3.57" fill="#d94444"/><circle cx="40.4" cy="34" r="2.14" fill="#ae1a24"/><g transform="rotate(-10 17.25 7.75)"><ellipse cx="17.25" cy="7.75" rx="4.5" ry="3.5" fill="#f8d468" stroke="#eeb040" stroke-width="0.4"/><ellipse cx="17.25" cy="7.75" rx="2.79" ry="2.17" fill="#2f72f2"/></g><g transform="rotate(-40 41.6 14)"><ellipse cx="41.6" cy="14" rx="4.5" ry="3.5" fill="#f8d468" stroke="#eeb040" stroke-width="0.4"/><ellipse cx="41.6" cy="14" rx="2.79" ry="2.17" fill="#2f72f2"/></g><g transform="rotate(30 19.1 27.1)"><ellipse cx="19.1" cy="27.1" rx="4.5" ry="3.5" fill="#f8d468" stroke="#eeb040" stroke-width="0.4"/><ellipse cx="19.1" cy="27.1" rx="2.79" ry="2.17" fill="#2f72f2"/></g><g transform="rotate(-45 27.9 29)"><ellipse cx="27.9" cy="29" rx="4.5" ry="3.5" fill="#f8d468" stroke="#eeb040" stroke-width="0.4"/><ellipse cx="27.9" cy="29" rx="2.79" ry="2.17" fill="#2f72f2"/></g><g transform="rotate(-35 42.9 25.25)"><ellipse cx="42.9" cy="25.25" rx="4.5" ry="3.5" fill="#f8d468" stroke="#eeb040" stroke-width="0.4"/><ellipse cx="42.9" cy="25.25" rx="2.79" ry="2.17" fill="#2f72f2"/></g><g transform="rotate(-40 32.9 37.1)"><ellipse cx="32.9" cy="37.1" rx="4.5" ry="3.5" fill="#f8d468" stroke="#eeb040" stroke-width="0.4"/><ellipse cx="32.9" cy="37.1" rx="2.79" ry="2.17" fill="#2f72f2"/></g>
</g>
<rect x="0" y="0" width="53.2" height="53.2" fill="none" stroke="#222" stroke-width="0.9"/>
</g>
<text x="291" y="486" text-anchor="middle" fill="#5224a0" stroke="#5224a0">Inflamed SPP1</text>
<clipPath id="cp5"><rect x="0" y="0" width="53.2" height="53.2"/></clipPath>
<g transform="translate(264.3 554.7)">
<rect x="0" y="0" width="53.2" height="53.2" fill="#fff"/>
<g clip-path="url(#cp5)">
<circle cx="2.86" cy="36.76" r="6.09" fill="#eeb0b0" fill-opacity="0.88" stroke="#df9696" stroke-width="0.45"/><circle cx="2.79" cy="36.35" r="2.8" fill="#cf8484" fill-opacity="0.92"/><circle cx="52.04" cy="22.84" r="5.8" fill="#f7dada" fill-opacity="0.9" stroke="#f0d0d0" stroke-width="0.45"/><circle cx="52.64" cy="23.24" r="2.67" fill="#ecc4c4" fill-opacity="0.92"/><circle cx="54.25" cy="44.25" r="5.8" fill="#f7dada" fill-opacity="0.9" stroke="#f0d0d0" stroke-width="0.45"/><circle cx="54.85" cy="44.65" r="2.67" fill="#ecc4c4" fill-opacity="0.92"/><circle cx="-1.5" cy="56.99" r="5.74" fill="#eeb0b0" fill-opacity="0.88" stroke="#df9696" stroke-width="0.45"/><circle cx="-1.38" cy="56.67" r="2.64" fill="#cf8484" fill-opacity="0.92"/><circle cx="4.76" cy="23.87" r="6.05" fill="#eeb0b0" fill-opacity="0.88" stroke="#df9696" stroke-width="0.45"/><circle cx="4.79" cy="23.89" r="2.78" fill="#cf8484" fill-opacity="0.92"/><circle cx="47.87" cy="58.64" r="5.8" fill="#f7dada" fill-opacity="0.9" stroke="#f0d0d0" stroke-width="0.45"/><circle cx="48.47" cy="59.04" r="2.67" fill="#ecc4c4" fill-opacity="0.92"/><circle cx="58.88" cy="50.42" r="5.8" fill="#f7dada" fill-opacity="0.9" stroke="#f0d0d0" stroke-width="0.45"/><circle cx="59.48" cy="50.82" r="2.67" fill="#ecc4c4" fill-opacity="0.92"/><circle cx="53.2" cy="58.4" r="5.8" fill="#f7dada" fill-opacity="0.9" stroke="#f0d0d0" stroke-width="0.45"/><circle cx="53.8" cy="58.8" r="2.67" fill="#ecc4c4" fill-opacity="0.92"/><circle cx="-5.31" cy="-2.56" r="6.05" fill="#eeb0b0" fill-opacity="0.88" stroke="#df9696" stroke-width="0.45"/><circle cx="-5.65" cy="-1.44" r="2.78" fill="#cf8484" fill-opacity="0.92"/><circle cx="43.17" cy="49.6" r="5.8" fill="#f7dada" fill-opacity="0.9" stroke="#f0d0d0" stroke-width="0.45"/><circle cx="43.77" cy="50" r="2.67" fill="#ecc4c4" fill-opacity="0.92"/><circle cx="-0.89" cy="17.37" r="6.01" fill="#eeb0b0" fill-opacity="0.88" stroke="#df9696" stroke-width="0.45"/><circle cx="-0.6" cy="16.19" r="2.76" fill="#cf8484" fill-opacity="0.92"/><circle cx="-4.71" cy="24.68" r="6.21" fill="#eeb0b0" fill-opacity="0.88" stroke="#df9696" stroke-width="0.45"/><circle cx="-5.2" cy="24.19" r="2.86" fill="#cf8484" fill-opacity="0.92"/><circle cx="2.46" cy="49.83" r="5.5" fill="#eeb0b0" fill-opacity="0.88" stroke="#df9696" stroke-width="0.45"/><circle cx="1.92" cy="50.51" r="2.53" fill="#cf8484" fill-opacity="0.92"/><circle cx="50.93" cy="8.31" r="5.8" fill="#f7dada" fill-opacity="0.9" stroke="#f0d0d0" stroke-width="0.45"/><circle cx="51.53" cy="8.71" r="2.67" fill="#ecc4c4" fill-opacity="0.92"/><circle cx="1.31" cy="29.12" r="6.21" fill="#eeb0b0" fill-opacity="0.88" stroke="#df9696" stroke-width="0.45"/><circle cx="1.61" cy="29.76" r="2.86" fill="#cf8484" fill-opacity="0.92"/><circle cx="-2.61" cy="8.97" r="5.79" fill="#eeb0b0" fill-opacity="0.88" stroke="#df9696" stroke-width="0.45"/><circle cx="-1.51" cy="8.47" r="2.66" fill="#cf8484" fill-opacity="0.92"/><circle cx="37.53" cy="58.4" r="5.8" fill="#f7dada" fill-opacity="0.9" stroke="#f0d0d0" stroke-width="0.45"/><circle cx="38.13" cy="58.8" r="2.67" fill="#ecc4c4" fill-opacity="0.92"/><circle cx="-4.97" cy="37.91" r="5.64" fill="#eeb0b0" fill-opacity="0.88" stroke="#df9696" stroke-width="0.45"/><circle cx="-5.48" cy="36.94" r="2.6" fill="#cf8484" fill-opacity="0.92"/><circle cx="54.41" cy="15.32" r="5.8" fill="#f7dada" fill-opacity="0.9" stroke="#f0d0d0" stroke-width="0.45"/><circle cx="55.01" cy="15.72" r="2.67" fill="#ecc4c4" fill-opacity="0.92"/><circle cx="55.55" cy="1.53" r="5.8" fill="#f7dada" fill-opacity="0.9" stroke="#f0d0d0" stroke-width="0.45"/><circle cx="56.15" cy="1.93" r="2.67" fill="#ecc4c4" fill-opacity="0.92"/><circle cx="-3.3" cy="50.31" r="6.02" fill="#eeb0b0" fill-opacity="0.88" stroke="#df9696" stroke-width="0.45"/><circle cx="-3.56" cy="51.08" r="2.77" fill="#cf8484" fill-opacity="0.92"/><circle cx="7.49" cy="41.98" r="5.63" fill="#eeb0b0" fill-opacity="0.88" stroke="#df9696" stroke-width="0.45"/><circle cx="7.14" cy="41.49" r="2.59" fill="#cf8484" fill-opacity="0.92"/><circle cx="50.65" cy="51.86" r="5.8" fill="#f7dada" fill-opacity="0.9" stroke="#f0d0d0" stroke-width="0.45"/><circle cx="51.25" cy="52.26" r="2.67" fill="#ecc4c4" fill-opacity="0.92"/><circle cx="6.17" cy="58.56" r="5.92" fill="#eeb0b0" fill-opacity="0.88" stroke="#df9696" stroke-width="0.45"/><circle cx="7.05" cy="58.63" r="2.72" fill="#cf8484" fill-opacity="0.92"/><circle cx="2.68" cy="-3.23" r="6.31" fill="#eeb0b0" fill-opacity="0.88" stroke="#df9696" stroke-width="0.45"/><circle cx="3.55" cy="-3.8" r="2.9" fill="#cf8484" fill-opacity="0.92"/><circle cx="59.42" cy="10.82" r="5.8" fill="#f7dada" fill-opacity="0.9" stroke="#f0d0d0" stroke-width="0.45"/><circle cx="60.02" cy="11.22" r="2.67" fill="#ecc4c4" fill-opacity="0.92"/><circle cx="59.58" cy="36.16" r="5.8" fill="#f7dada" fill-opacity="0.9" stroke="#f0d0d0" stroke-width="0.45"/><circle cx="60.18" cy="36.56" r="2.67" fill="#ecc4c4" fill-opacity="0.92"/><circle cx="48.3" cy="43.68" r="5.8" fill="#f7dada" fill-opacity="0.9" stroke="#f0d0d0" stroke-width="0.45"/><circle cx="48.9" cy="44.08" r="2.67" fill="#ecc4c4" fill-opacity="0.92"/><circle cx="50.37" cy="36.38" r="5.8" fill="#f7dada" fill-opacity="0.9" stroke="#f0d0d0" stroke-width="0.45"/><circle cx="50.97" cy="36.78" r="2.67" fill="#ecc4c4" fill-opacity="0.92"/><circle cx="46.64" cy="30.39" r="5.8" fill="#f7dada" fill-opacity="0.9" stroke="#f0d0d0" stroke-width="0.45"/><circle cx="47.24" cy="30.79" r="2.67" fill="#ecc4c4" fill-opacity="0.92"/><circle cx="-1.52" cy="44.3" r="5.97" fill="#eeb0b0" fill-opacity="0.88" stroke="#df9696" stroke-width="0.45"/><circle cx="-1.18" cy="43.19" r="2.75" fill="#cf8484" fill-opacity="0.92"/><circle cx="51.3" cy="-4.23" r="5.8" fill="#f7dada" fill-opacity="0.9" stroke="#f0d0d0" stroke-width="0.45"/><circle cx="51.9" cy="-3.83" r="2.67" fill="#ecc4c4" fill-opacity="0.92"/><circle cx="0.32" cy="1.32" r="5.91" fill="#eeb0b0" fill-opacity="0.88" stroke="#df9696" stroke-width="0.45"/><circle cx="1.18" cy="2.34" r="2.72" fill="#cf8484" fill-opacity="0.92"/><circle cx="58.87" cy="22.21" r="5.8" fill="#f7dada" fill-opacity="0.9" stroke="#f0d0d0" stroke-width="0.45"/><circle cx="59.47" cy="22.61" r="2.67" fill="#ecc4c4" fill-opacity="0.92"/><circle cx="54.22" cy="28.72" r="5.8" fill="#f7dada" fill-opacity="0.9" stroke="#f0d0d0" stroke-width="0.45"/><circle cx="54.82" cy="29.12" r="2.67" fill="#ecc4c4" fill-opacity="0.92"/><circle cx="3.36" cy="8.62" r="5.8" fill="#eeb0b0" fill-opacity="0.88" stroke="#df9696" stroke-width="0.45"/><circle cx="4.46" cy="9.07" r="2.67" fill="#cf8484" fill-opacity="0.92"/><circle cx="58.51" cy="-3.58" r="5.8" fill="#f7dada" fill-opacity="0.9" stroke="#f0d0d0" stroke-width="0.45"/><circle cx="59.11" cy="-3.18" r="2.67" fill="#ecc4c4" fill-opacity="0.92"/><circle cx="6.84" cy="3.44" r="5.83" fill="#eeb0b0" fill-opacity="0.88" stroke="#df9696" stroke-width="0.45"/><circle cx="6.16" cy="3.09" r="2.68" fill="#cf8484" fill-opacity="0.92"/><circle cx="45.82" cy="16.55" r="5.8" fill="#f7dada" fill-opacity="0.9" stroke="#f0d0d0" stroke-width="0.45"/><circle cx="46.42" cy="16.95" r="2.67" fill="#ecc4c4" fill-opacity="0.92"/><circle cx="42.07" cy="36.48" r="5.8" fill="#f7dada" fill-opacity="0.9" stroke="#f0d0d0" stroke-width="0.45"/><circle cx="42.67" cy="36.88" r="2.67" fill="#ecc4c4" fill-opacity="0.92"/><circle cx="9.5" cy="21.5" r="5" fill="#f7dada" fill-opacity="0.9" stroke="#f0d0d0" stroke-width="0.45"/><circle cx="10.1" cy="21.9" r="2.3" fill="#ecc4c4" fill-opacity="0.92"/><circle cx="11" cy="26" r="5" fill="#f7dada" fill-opacity="0.9" stroke="#f0d0d0" stroke-width="0.45"/><circle cx="11.6" cy="26.4" r="2.3" fill="#ecc4c4" fill-opacity="0.92"/><circle cx="8" cy="45" r="5" fill="#f7dada" fill-opacity="0.9" stroke="#f0d0d0" stroke-width="0.45"/><circle cx="8.6" cy="45.4" r="2.3" fill="#ecc4c4" fill-opacity="0.92"/><circle cx="50" cy="47" r="6.3" fill="#eeb0b0" fill-opacity="0.88" stroke="#df9696" stroke-width="0.45"/><circle cx="50.4" cy="47.38" r="2.9" fill="#cf8484" fill-opacity="0.92"/><circle cx="46" cy="52" r="5.8" fill="#eeb0b0" fill-opacity="0.88" stroke="#df9696" stroke-width="0.45"/><circle cx="45.62" cy="51.27" r="2.67" fill="#cf8484" fill-opacity="0.92"/><circle cx="54" cy="54" r="5.81" fill="#eeb0b0" fill-opacity="0.88" stroke="#df9696" stroke-width="0.45"/><circle cx="55.13" cy="52.96" r="2.67" fill="#cf8484" fill-opacity="0.92"/><line x1="31.6" y1="0.5" x2="17.25" y2="25.25" stroke="#47982e" stroke-width="0.9" stroke-linecap="round"/><line x1="48.5" y1="0.5" x2="12.25" y2="40.25" stroke="#47982e" stroke-width="0.9" stroke-linecap="round"/><line x1="52.6" y1="18.5" x2="8.5" y2="53" stroke="#47982e" stroke-width="0.9" stroke-linecap="round"/><line x1="37.25" y1="31.5" x2="14.75" y2="50.25" stroke="#47982e" stroke-width="0.9" stroke-linecap="round"/><line x1="23" y1="33" x2="11" y2="45" stroke="#47982e" stroke-width="0.9" stroke-linecap="round"/><line x1="36" y1="14" x2="29" y2="22" stroke="#47982e" stroke-width="0.9" stroke-linecap="round"/><path d="M-6.5 0C-3.25 -0.45 -5.5 -0.6 -3.6 -1.95L-4.2 -3.25L-2 -2.34C-0.2 -2.21 1.4 -0.6 2.75 -0.45L6.5 0L2.75 0.45C1.2 0.6 -0.4 2.08 -1.8 2.34L-3.8 3.38L-3.5 1.82C-5.4 0.6 -3.25 0.45 -6.5 0Z" fill="#e1b32c" transform="translate(36.2 5.2) rotate(-66)"/><path d="M-13.5 0C-6.75 -0.45 -9.5 -0.6 -7.6 -2.03L-8.2 -3.38L-6 -2.43C-4.2 -2.29 -2.6 -0.6 4.25 -0.45L13.5 0L4.25 0.45C-2.8 0.6 -4.4 2.16 -5.8 2.43L-7.8 3.51L-7.5 1.89C-9.4 0.6 -6.75 0.45 -13.5 0Z" fill="#e1b32c" transform="translate(31.2 25.5) rotate(-64)"/><path d="M-12 0C-6 -0.45 -9.5 -0.6 -7.6 -2.17L-8.2 -3.62L-6 -2.61C-4.2 -2.46 -2.6 -0.6 3.5 -0.45L12 0L3.5 0.45C-2.8 0.6 -4.4 2.32 -5.8 2.61L-7.8 3.77L-7.5 2.03C-9.4 0.6 -6 0.45 -12 0Z" fill="#e1b32c" transform="translate(27.2 45) rotate(-62)"/>
</g>
<rect x="0" y="0" width="53.2" height="53.2" fill="none" stroke="#222" stroke-width="0.9"/>
</g>
<text x="291.2" y="551" text-anchor="middle" fill="#44901e" stroke="#44901e">Trapped fibrous FOLR2</text>
<clipPath id="cp6"><rect x="0" y="0" width="53.2" height="53.2"/></clipPath>
<g transform="translate(338.5 392.7)">
<rect x="0" y="0" width="53.2" height="53.2" fill="#fff"/>
<g clip-path="url(#cp6)">
<path d="M-8 0C-4 -0.45 -1.5 -0.6 0.4 -2.25L-0.2 -3.75L2 -2.7C3.8 -2.55 5.4 -0.6 5.5 -0.45L8 0L5.5 0.45C5.2 0.6 3.6 2.4 2.2 2.7L0.2 3.9L0.5 2.1C-1.4 0.6 -4 0.45 -8 0Z" fill="#e1b32c" transform="translate(24.5 18.2) rotate(-24)"/><path d="M-10 0C-5 -0.45 0.5 -0.6 2.4 -2.25L1.8 -3.75L4 -2.7C5.8 -2.55 7.4 -0.6 7.5 -0.45L10 0L7.5 0.45C7.2 0.6 5.6 2.4 4.2 2.7L2.2 3.9L2.5 2.1C0.6 0.6 -5 0.45 -10 0Z" fill="#e1b32c" transform="translate(42.5 18.5) rotate(56)"/><path d="M-8 0C-4 -0.45 -1 -0.6 0.9 -2.25L0.3 -3.75L2.5 -2.7C4.3 -2.55 5.9 -0.6 5.75 -0.45L8 0L5.75 0.45C5.7 0.6 4.1 2.4 2.7 2.7L0.7 3.9L1 2.1C-0.9 0.6 -4 0.45 -8 0Z" fill="#e1b32c" transform="translate(14.2 33) rotate(118)"/><path d="M-8 0C-4 -0.45 -1 -0.6 0.9 -2.25L0.3 -3.75L2.5 -2.7C4.3 -2.55 5.9 -0.6 5.75 -0.45L8 0L5.75 0.45C5.7 0.6 4.1 2.4 2.7 2.7L0.7 3.9L1 2.1C-0.9 0.6 -4 0.45 -8 0Z" fill="#e1b32c" transform="translate(35.2 35.2) rotate(120)"/><circle cx="25" cy="31" r="6.9" fill="#fff" stroke="#a6d498" stroke-width="0.6"/><ellipse cx="22.4" cy="29.8" rx="1.35" ry="0.95" fill="#b00f2c" transform="rotate(20 22.4 29.8)"/><ellipse cx="25.3" cy="27.8" rx="1.35" ry="0.95" fill="#b00f2c" transform="rotate(60 25.3 27.8)"/><ellipse cx="28" cy="30.2" rx="1.35" ry="0.95" fill="#b00f2c" transform="rotate(-40 28 30.2)"/><ellipse cx="24.8" cy="31.6" rx="1.35" ry="0.95" fill="#b00f2c" transform="rotate(30 24.8 31.6)"/><ellipse cx="22.6" cy="34" rx="1.35" ry="0.95" fill="#b00f2c" transform="rotate(50 22.6 34)"/><ellipse cx="27" cy="34.2" rx="1.35" ry="0.95" fill="#b00f2c" transform="rotate(-30 27 34.2)"/><g transform="translate(30 9.75) rotate(20)"><ellipse cx="0" cy="0" rx="6.6" ry="5" fill="#5270bc"/><ellipse cx="0.8" cy="0" rx="3.96" ry="3.5" fill="#6482ca" fill-opacity="0.6"/><circle cx="-2.77" cy="0" r="2.6" fill="#27399a"/></g><g transform="translate(13.75 21.6) rotate(-60)"><ellipse cx="0" cy="0" rx="6.6" ry="5" fill="#5270bc"/><ellipse cx="0.8" cy="0" rx="3.96" ry="3.5" fill="#6482ca" fill-opacity="0.6"/><circle cx="-2.77" cy="0" r="2.6" fill="#27399a"/></g><g transform="translate(36.25 21.6) rotate(50)"><ellipse cx="0" cy="0" rx="6.6" ry="5" fill="#5270bc"/><ellipse cx="0.8" cy="0" rx="3.96" ry="3.5" fill="#6482ca" fill-opacity="0.6"/><circle cx="-2.77" cy="0" r="2.6" fill="#27399a"/></g><g transform="translate(43.1 32.9) rotate(5)"><ellipse cx="0" cy="0" rx="6.6" ry="5" fill="#5270bc"/><ellipse cx="0.8" cy="0" rx="3.96" ry="3.5" fill="#6482ca" fill-opacity="0.6"/><circle cx="-2.77" cy="0" r="2.6" fill="#27399a"/></g>
</g>
<rect x="0" y="0" width="53.2" height="53.2" fill="none" stroke="#222" stroke-width="0.9"/>
</g>
<text x="364.6" y="390" text-anchor="middle" fill="#c0188e" stroke="#c0188e">PC enriched FOLR2</text>
<clipPath id="cp7"><rect x="0" y="0" width="53.2" height="53.2"/></clipPath>
<g transform="translate(338.5 457.4)">
<rect x="0" y="0" width="53.2" height="53.2" fill="#fff"/>
<g clip-path="url(#cp7)">
<g transform="translate(23.75 37.1) scale(1)" fill="none" stroke="#4f922c" stroke-width="1.05" stroke-linecap="round"><path d="M0 0 Q-3.77 -3.74 -9.06 -4.23"/><path d="M0 0 Q-5.83 -0.49 -10.63 2.85"/><path d="M0 0 Q-6.48 2.39 -9.96 8.36"/><path d="M0 0 Q-5.51 5 -6.57 12.36"/><path d="M0 0 Q-2.67 5.79 -1.05 11.95"/><path d="M0 0 Q1.14 7.89 7.04 13.24"/><path d="M0 0 Q3.09 3.65 7.79 4.5"/><path d="M0 0 Q5.79 2.67 11.95 1.05"/><path d="M0 0 Q3.59 -0.98 5.73 -4.02"/><path d="M0 0 Q-0.98 -3.59 -4.02 -5.73"/><ellipse cx="0" cy="0" rx="4.1" ry="3.4" fill="#4f922c" stroke="none"/><ellipse cx="0.6" cy="0.2" rx="1.9" ry="1.4" fill="#3f74d6" stroke="none" transform="rotate(-25)"/></g><circle cx="9.6" cy="20.9" r="2.9" fill="#85c9c7"/><circle cx="9.6" cy="20.9" r="1.74" fill="#4379d8"/><circle cx="18.75" cy="22.1" r="2.9" fill="#85c9c7"/><circle cx="18.75" cy="22.1" r="1.74" fill="#4379d8"/><circle cx="28.75" cy="18.4" r="2.9" fill="#85c9c7"/><circle cx="28.75" cy="18.4" r="1.74" fill="#4379d8"/><circle cx="31.25" cy="23.4" r="2.9" fill="#85c9c7"/><circle cx="31.25" cy="23.4" r="1.74" fill="#4379d8"/><circle cx="39.4" cy="23.4" r="2.9" fill="#85c9c7"/><circle cx="39.4" cy="23.4" r="1.74" fill="#4379d8"/><circle cx="46.25" cy="27.75" r="2.9" fill="#85c9c7"/><circle cx="46.25" cy="27.75" r="1.74" fill="#4379d8"/><circle cx="28.75" cy="29.6" r="2.9" fill="#85c9c7"/><circle cx="28.75" cy="29.6" r="1.74" fill="#4379d8"/><circle cx="9.6" cy="32.75" r="2.9" fill="#85c9c7"/><circle cx="9.6" cy="32.75" r="1.74" fill="#4379d8"/><circle cx="31.25" cy="34.6" r="2.9" fill="#85c9c7"/><circle cx="31.25" cy="34.6" r="1.74" fill="#4379d8"/><path d="M-14.5 0C-7.25 -0.45 -4.5 -0.6 -2.6 -2.25L-3.2 -3.75L-1 -2.7C0.8 -2.55 2.4 -0.6 7.25 -0.45L14.5 0L7.25 0.45C2.2 0.6 0.6 2.4 -0.8 2.7L-2.8 3.9L-2.5 2.1C-4.4 0.6 -7.25 0.45 -14.5 0Z" fill="#e1b32c" transform="translate(13.6 21) rotate(77)"/><g transform="translate(13.6 21) rotate(77)"><path d="M-11.6 0 C-3.87 -2.6 3.87 -2.6 11.6 0 C3.87 2.6 -3.87 2.6 -11.6 0Z" fill="#e1b32c" fill-opacity="1"/></g><path d="M-12 0C-6 -0.45 -4.5 -0.6 -2.6 -2.25L-3.2 -3.75L-1 -2.7C0.8 -2.55 2.4 -0.6 6 -0.45L12 0L6 0.45C2.2 0.6 0.6 2.4 -0.8 2.7L-2.8 3.9L-2.5 2.1C-4.4 0.6 -6 0.45 -12 0Z" fill="#e1b32c" transform="translate(19.5 15.5) rotate(40)"/><g transform="translate(19.5 15.5) rotate(40)"><path d="M-9.6 0 C-3.2 -2.6 3.2 -2.6 9.6 0 C3.2 2.6 -3.2 2.6 -9.6 0Z" fill="#e1b32c" fill-opacity="1"/></g><path d="M-12 0C-6 -0.45 -4.5 -0.6 -2.6 -2.25L-3.2 -3.75L-1 -2.7C0.8 -2.55 2.4 -0.6 6 -0.45L12 0L6 0.45C2.2 0.6 0.6 2.4 -0.8 2.7L-2.8 3.9L-2.5 2.1C-4.4 0.6 -6 0.45 -12 0Z" fill="#e1b32c" transform="translate(28 14.5) rotate(52)"/><g transform="translate(28 14.5) rotate(52)"><path d="M-9.6 0 C-3.2 -2.6 3.2 -2.6 9.6 0 C3.2 2.6 -3.2 2.6 -9.6 0Z" fill="#e1b32c" fill-opacity="1"/></g><path d="M-12.5 0C-6.25 -0.45 -4.5 -0.6 -2.6 -2.25L-3.2 -3.75L-1 -2.7C0.8 -2.55 2.4 -0.6 6.25 -0.45L12.5 0L6.25 0.45C2.2 0.6 0.6 2.4 -0.8 2.7L-2.8 3.9L-2.5 2.1C-4.4 0.6 -6.25 0.45 -12.5 0Z" fill="#e1b32c" transform="translate(41.2 29.5) rotate(-71)"/><g transform="translate(41.2 29.5) rotate(-71)"><path d="M-10 0 C-3.33 -2.6 3.33 -2.6 10 0 C3.33 2.6 -3.33 2.6 -10 0Z" fill="#e1b32c" fill-opacity="1"/></g><circle cx="10" cy="14.6" r="2.9" fill="#b0198e"/><circle cx="10" cy="14.6" r="1.74" fill="#4379d8"/><circle cx="16.9" cy="16.5" r="2.9" fill="#b0198e"/><circle cx="16.9" cy="16.5" r="1.74" fill="#4379d8"/><circle cx="24.4" cy="12.75" r="2.9" fill="#b0198e"/><circle cx="24.4" cy="12.75" r="1.74" fill="#4379d8"/><circle cx="31.25" cy="9.6" r="2.9" fill="#b0198e"/><circle cx="31.25" cy="9.6" r="1.74" fill="#4379d8"/><circle cx="40" cy="17.75" r="2.9" fill="#b0198e"/><circle cx="40" cy="17.75" r="1.74" fill="#4379d8"/><circle cx="46.9" cy="22.75" r="2.9" fill="#b0198e"/><circle cx="46.9" cy="22.75" r="1.74" fill="#4379d8"/><circle cx="23.1" cy="25.25" r="2.9" fill="#b0198e"/><circle cx="23.1" cy="25.25" r="1.74" fill="#4379d8"/><circle cx="18.1" cy="31.5" r="2.9" fill="#b0198e"/><circle cx="18.1" cy="31.5" r="1.74" fill="#4379d8"/><circle cx="35" cy="28.4" r="2.9" fill="#b0198e"/><circle cx="35" cy="28.4" r="1.74" fill="#4379d8"/><circle cx="39.4" cy="28.4" r="2.9" fill="#b0198e"/><circle cx="39.4" cy="28.4" r="1.74" fill="#4379d8"/><circle cx="36.9" cy="33.4" r="2.9" fill="#b0198e"/><circle cx="36.9" cy="33.4" r="1.74" fill="#4379d8"/><circle cx="46.25" cy="33.4" r="2.9" fill="#b0198e"/><circle cx="46.25" cy="33.4" r="1.74" fill="#4379d8"/><circle cx="28.75" cy="41.5" r="2.9" fill="#b0198e"/><circle cx="28.75" cy="41.5" r="1.74" fill="#4379d8"/>
</g>
<rect x="0" y="0" width="53.2" height="53.2" fill="none" stroke="#222" stroke-width="0.9"/>
</g>
<text x="364.8" y="453.8" text-anchor="middle" fill="#62b4b2" stroke="#62b4b2">Lymphoid FOLR2</text>
<clipPath id="cp8"><rect x="0" y="0" width="53.2" height="53.2"/></clipPath>
<g transform="translate(338.5 522.3)">
<rect x="0" y="0" width="53.2" height="53.2" fill="#fff"/>
<g clip-path="url(#cp8)">
<line x1="5.6" y1="6.25" x2="15" y2="0.6" stroke="#8a98d4" stroke-width="0.5" stroke-linecap="round"/><line x1="1.9" y1="8.1" x2="11.9" y2="25.6" stroke="#8a98d4" stroke-width="0.5" stroke-linecap="round"/><line x1="25.6" y1="3.1" x2="36.9" y2="25.6" stroke="#8a98d4" stroke-width="0.5" stroke-linecap="round"/><line x1="31.25" y1="0.6" x2="32.5" y2="8.1" stroke="#8a98d4" stroke-width="0.5" stroke-linecap="round"/><line x1="13.1" y1="30.6" x2="16.25" y2="50.6" stroke="#8a98d4" stroke-width="0.5" stroke-linecap="round"/><line x1="30" y1="50.6" x2="38.1" y2="35.6" stroke="#8a98d4" stroke-width="0.5" stroke-linecap="round"/><line x1="0.5" y1="16" x2="2.5" y2="30" stroke="#8a98d4" stroke-width="0.5" stroke-linecap="round"/><line x1="5" y1="16.25" x2="6.9" y2="28.1" stroke="#8a98d4" stroke-width="0.5" stroke-linecap="round"/><g transform="translate(5.6 24.4) rotate(85)"><path d="M-8 0 C-2.67 -2 2.67 -2 8 0 C2.67 2 -2.67 2 -8 0Z" fill="#a9d6e4" fill-opacity="0.95"/></g><g transform="translate(36.9 8.1) rotate(80)"><path d="M-8 0 C-2.67 -2 2.67 -2 8 0 C2.67 2 -2.67 2 -8 0Z" fill="#a9d6e4" fill-opacity="0.95"/></g><g transform="translate(41.25 41.9) rotate(-55)"><path d="M-9 0 C-3 -2.2 3 -2.2 9 0 C3 2.2 -3 2.2 -9 0Z" fill="#a9d6e4" fill-opacity="0.95"/></g><circle cx="20" cy="18.75" r="6.9" fill="#fff" stroke="#a6d498" stroke-width="0.6"/><ellipse cx="17.4" cy="17.55" rx="1.35" ry="0.95" fill="#b00f2c" transform="rotate(20 17.4 17.55)"/><ellipse cx="20.3" cy="15.55" rx="1.35" ry="0.95" fill="#b00f2c" transform="rotate(60 20.3 15.55)"/><ellipse cx="23" cy="17.95" rx="1.35" ry="0.95" fill="#b00f2c" transform="rotate(-40 23 17.95)"/><ellipse cx="19.8" cy="19.35" rx="1.35" ry="0.95" fill="#b00f2c" transform="rotate(30 19.8 19.35)"/><ellipse cx="17.6" cy="21.75" rx="1.35" ry="0.95" fill="#b00f2c" transform="rotate(50 17.6 21.75)"/><ellipse cx="22" cy="21.95" rx="1.35" ry="0.95" fill="#b00f2c" transform="rotate(-30 22 21.95)"/><g transform="translate(25.4 37.5) rotate(28)"><ellipse cx="0" cy="0" rx="5.8" ry="8.6" fill="#fff" stroke="#444" stroke-width="0.45"/><circle cx="-1.8" cy="-2.6" r="1.7" fill="#6f2a9e"/><circle cx="1.8" cy="-3.4" r="1.7" fill="#6f2a9e"/><circle cx="0.8" cy="0.2" r="1.7" fill="#6f2a9e"/><circle cx="-1.4" cy="3.2" r="1.7" fill="#6f2a9e"/></g><circle cx="46.25" cy="12.5" r="3.6" fill="#aaa6e0"/><circle cx="46.25" cy="12.5" r="1.62" fill="#8f8ad0"/><path d="M-8 0C-4 -0.45 -1 -0.6 0.9 -1.65L0.3 -2.75L2.5 -1.98C4.3 -1.87 5.9 -0.6 5.75 -0.45L8 0L5.75 0.45C5.7 0.6 4.1 1.76 2.7 1.98L0.7 2.86L1 1.54C-0.9 0.6 -4 0.45 -8 0Z" fill="#e1b32c" transform="translate(19.4 4.4) rotate(-33)"/><path d="M-10.5 0C-5.25 -0.45 -0.5 -0.6 1.4 -1.88L0.8 -3.12L3 -2.25C4.8 -2.12 6.4 -0.6 7.25 -0.45L10.5 0L7.25 0.45C6.2 0.6 4.6 2 3.2 2.25L1.2 3.25L1.5 1.75C-0.4 0.6 -5.25 0.45 -10.5 0Z" fill="#e1b32c" transform="translate(41 28.2) rotate(128)"/><path d="M-2.5 0C-1.25 -0.45 -4.5 -0.6 -2.6 -1.5L-3.2 -2.5L-1 -1.8C0.8 -1.7 2.4 -0.6 1.25 -0.45L2.5 0L1.25 0.45C2.2 0.6 0.6 1.6 -0.8 1.8L-2.8 2.6L-2.5 1.4C-4.4 0.6 -1.25 0.45 -2.5 0Z" fill="#e1b32c" transform="translate(1 52.5) rotate(0)"/>
</g>
<rect x="0" y="0" width="53.2" height="53.2" fill="none" stroke="#222" stroke-width="0.9"/>
</g>
<text x="364.8" y="518.6" text-anchor="middle" fill="#4f8ef0" stroke="#4f8ef0">Peri-vascular LYVE1</text>
<clipPath id="cp9"><rect x="0" y="0" width="53.2" height="53.2"/></clipPath>
<g transform="translate(338.5 587.2)">
<rect x="0" y="0" width="53.2" height="53.2" fill="#fff"/>
<g clip-path="url(#cp9)">
<g transform="translate(-3.05 27.69) rotate(-48)"><path d="M-12 0 C-4 -2.7 4 -2.7 12 0 C4 2.7 -4 2.7 -12 0Z" fill="#c6b2aa" fill-opacity="0.95"/><ellipse cx="0" cy="0" rx="3.12" ry="1.13" fill="#94766e"/></g><g transform="translate(-5.6 36.72) rotate(-48)"><path d="M-12 0 C-4 -2.7 4 -2.7 12 0 C4 2.7 -4 2.7 -12 0Z" fill="#c6b2aa" fill-opacity="0.95"/><ellipse cx="0" cy="0" rx="3.12" ry="1.13" fill="#94766e"/></g><g transform="translate(6.91 21.47) rotate(-48)"><path d="M-12 0 C-4 -2.7 4 -2.7 12 0 C4 2.7 -4 2.7 -12 0Z" fill="#c6b2aa" fill-opacity="0.95"/><ellipse cx="0" cy="0" rx="3.12" ry="1.13" fill="#94766e"/></g><g transform="translate(19.59 8.05) rotate(-48)"><path d="M-12 0 C-4 -2.7 4 -2.7 12 0 C4 2.7 -4 2.7 -12 0Z" fill="#c6b2aa" fill-opacity="0.95"/><ellipse cx="0" cy="0" rx="3.12" ry="1.13" fill="#94766e"/></g><g transform="translate(1.97 33.04) rotate(-48)"><path d="M-12 0 C-4 -2.7 4 -2.7 12 0 C4 2.7 -4 2.7 -12 0Z" fill="#c6b2aa" fill-opacity="0.95"/><ellipse cx="0" cy="0" rx="3.12" ry="1.13" fill="#94766e"/></g><g transform="translate(16.46 17.72) rotate(-48)"><path d="M-12 0 C-4 -2.7 4 -2.7 12 0 C4 2.7 -4 2.7 -12 0Z" fill="#c6b2aa" fill-opacity="0.95"/><ellipse cx="0" cy="0" rx="3.12" ry="1.13" fill="#94766e"/></g><g transform="translate(30.37 2.67) rotate(-48)"><path d="M-12 0 C-4 -2.7 4 -2.7 12 0 C4 2.7 -4 2.7 -12 0Z" fill="#c6b2aa" fill-opacity="0.95"/><ellipse cx="0" cy="0" rx="3.12" ry="1.13" fill="#94766e"/></g><g transform="translate(-0.53 42.47) rotate(-48)"><path d="M-12 0 C-4 -2.7 4 -2.7 12 0 C4 2.7 -4 2.7 -12 0Z" fill="#c6b2aa" fill-opacity="0.95"/><ellipse cx="0" cy="0" rx="3.12" ry="1.13" fill="#94766e"/></g><g transform="translate(13.76 27.44) rotate(-48)"><path d="M-12 0 C-4 -2.7 4 -2.7 12 0 C4 2.7 -4 2.7 -12 0Z" fill="#c6b2aa" fill-opacity="0.95"/><ellipse cx="0" cy="0" rx="3.12" ry="1.13" fill="#94766e"/></g><g transform="translate(26.26 13.48) rotate(-48)"><path d="M-12 0 C-4 -2.7 4 -2.7 12 0 C4 2.7 -4 2.7 -12 0Z" fill="#c6b2aa" fill-opacity="0.95"/><ellipse cx="0" cy="0" rx="3.12" ry="1.13" fill="#94766e"/></g><g transform="translate(41.48 -3.6) rotate(-48)"><path d="M-12 0 C-4 -2.7 4 -2.7 12 0 C4 2.7 -4 2.7 -12 0Z" fill="#c6b2aa" fill-opacity="0.95"/><ellipse cx="0" cy="0" rx="3.12" ry="1.13" fill="#94766e"/></g><g transform="translate(-4.89 53.51) rotate(-48)"><path d="M-12 0 C-4 -2.7 4 -2.7 12 0 C4 2.7 -4 2.7 -12 0Z" fill="#c6b2aa" fill-opacity="0.95"/><ellipse cx="0" cy="0" rx="3.12" ry="1.13" fill="#94766e"/></g><g transform="translate(7.6 39.25) rotate(-48)"><path d="M-12 0 C-4 -2.7 4 -2.7 12 0 C4 2.7 -4 2.7 -12 0Z" fill="#c6b2aa" fill-opacity="0.95"/><ellipse cx="0" cy="0" rx="3.12" ry="1.13" fill="#94766e"/></g><g transform="translate(21.88 23.43) rotate(-48)"><path d="M-12 0 C-4 -2.7 4 -2.7 12 0 C4 2.7 -4 2.7 -12 0Z" fill="#c6b2aa" fill-opacity="0.95"/><ellipse cx="0" cy="0" rx="3.12" ry="1.13" fill="#94766e"/></g><g transform="translate(35.88 7.93) rotate(-48)"><path d="M-12 0 C-4 -2.7 4 -2.7 12 0 C4 2.7 -4 2.7 -12 0Z" fill="#c6b2aa" fill-opacity="0.95"/><ellipse cx="0" cy="0" rx="3.12" ry="1.13" fill="#94766e"/></g><g transform="translate(4.18 50.19) rotate(-48)"><path d="M-12 0 C-4 -2.7 4 -2.7 12 0 C4 2.7 -4 2.7 -12 0Z" fill="#c6b2aa" fill-opacity="0.95"/><ellipse cx="0" cy="0" rx="3.12" ry="1.13" fill="#94766e"/></g><g transform="translate(17.86 33.88) rotate(-48)"><path d="M-12 0 C-4 -2.7 4 -2.7 12 0 C4 2.7 -4 2.7 -12 0Z" fill="#c6b2aa" fill-opacity="0.95"/><ellipse cx="0" cy="0" rx="3.12" ry="1.13" fill="#94766e"/></g><g transform="translate(32.56 18.31) rotate(-48)"><path d="M-12 0 C-4 -2.7 4 -2.7 12 0 C4 2.7 -4 2.7 -12 0Z" fill="#c6b2aa" fill-opacity="0.95"/><ellipse cx="0" cy="0" rx="3.12" ry="1.13" fill="#94766e"/></g><g transform="translate(45.7 3.17) rotate(-48)"><path d="M-12 0 C-4 -2.7 4 -2.7 12 0 C4 2.7 -4 2.7 -12 0Z" fill="#c6b2aa" fill-opacity="0.95"/><ellipse cx="0" cy="0" rx="3.12" ry="1.13" fill="#94766e"/></g><g transform="translate(0.96 59.9) rotate(-48)"><path d="M-12 0 C-4 -2.7 4 -2.7 12 0 C4 2.7 -4 2.7 -12 0Z" fill="#c6b2aa" fill-opacity="0.95"/><ellipse cx="0" cy="0" rx="3.12" ry="1.13" fill="#94766e"/></g><g transform="translate(14.7 44.02) rotate(-48)"><path d="M-12 0 C-4 -2.7 4 -2.7 12 0 C4 2.7 -4 2.7 -12 0Z" fill="#c6b2aa" fill-opacity="0.95"/><ellipse cx="0" cy="0" rx="3.12" ry="1.13" fill="#94766e"/></g><g transform="translate(28.44 28.28) rotate(-48)"><path d="M-12 0 C-4 -2.7 4 -2.7 12 0 C4 2.7 -4 2.7 -12 0Z" fill="#c6b2aa" fill-opacity="0.95"/><ellipse cx="0" cy="0" rx="3.12" ry="1.13" fill="#94766e"/></g><g transform="translate(44.47 11.72) rotate(-48)"><path d="M-12 0 C-4 -2.7 4 -2.7 12 0 C4 2.7 -4 2.7 -12 0Z" fill="#c6b2aa" fill-opacity="0.95"/><ellipse cx="0" cy="0" rx="3.12" ry="1.13" fill="#94766e"/></g><g transform="translate(57.71 -3.77) rotate(-48)"><path d="M-12 0 C-4 -2.7 4 -2.7 12 0 C4 2.7 -4 2.7 -12 0Z" fill="#c6b2aa" fill-opacity="0.95"/><ellipse cx="0" cy="0" rx="3.12" ry="1.13" fill="#94766e"/></g><g transform="translate(11.59 53.97) rotate(-48)"><path d="M-12 0 C-4 -2.7 4 -2.7 12 0 C4 2.7 -4 2.7 -12 0Z" fill="#c6b2aa" fill-opacity="0.95"/><ellipse cx="0" cy="0" rx="3.12" ry="1.13" fill="#94766e"/></g><g transform="translate(24.88 39.53) rotate(-48)"><path d="M-12 0 C-4 -2.7 4 -2.7 12 0 C4 2.7 -4 2.7 -12 0Z" fill="#c6b2aa" fill-opacity="0.95"/><ellipse cx="0" cy="0" rx="3.12" ry="1.13" fill="#94766e"/></g><g transform="translate(39.54 22.26) rotate(-48)"><path d="M-12 0 C-4 -2.7 4 -2.7 12 0 C4 2.7 -4 2.7 -12 0Z" fill="#c6b2aa" fill-opacity="0.95"/><ellipse cx="0" cy="0" rx="3.12" ry="1.13" fill="#94766e"/></g><g transform="translate(54.17 6.7) rotate(-48)"><path d="M-12 0 C-4 -2.7 4 -2.7 12 0 C4 2.7 -4 2.7 -12 0Z" fill="#c6b2aa" fill-opacity="0.95"/><ellipse cx="0" cy="0" rx="3.12" ry="1.13" fill="#94766e"/></g><g transform="translate(21.49 48.23) rotate(-48)"><path d="M-12 0 C-4 -2.7 4 -2.7 12 0 C4 2.7 -4 2.7 -12 0Z" fill="#c6b2aa" fill-opacity="0.95"/><ellipse cx="0" cy="0" rx="3.12" ry="1.13" fill="#94766e"/></g><g transform="translate(35.36 34.15) rotate(-48)"><path d="M-12 0 C-4 -2.7 4 -2.7 12 0 C4 2.7 -4 2.7 -12 0Z" fill="#c6b2aa" fill-opacity="0.95"/><ellipse cx="0" cy="0" rx="3.12" ry="1.13" fill="#94766e"/></g><g transform="translate(48.59 18.78) rotate(-48)"><path d="M-12 0 C-4 -2.7 4 -2.7 12 0 C4 2.7 -4 2.7 -12 0Z" fill="#c6b2aa" fill-opacity="0.95"/><ellipse cx="0" cy="0" rx="3.12" ry="1.13" fill="#94766e"/></g><g transform="translate(18.12 58.37) rotate(-48)"><path d="M-12 0 C-4 -2.7 4 -2.7 12 0 C4 2.7 -4 2.7 -12 0Z" fill="#c6b2aa" fill-opacity="0.95"/><ellipse cx="0" cy="0" rx="3.12" ry="1.13" fill="#94766e"/></g><g transform="translate(32.16 43.01) rotate(-48)"><path d="M-12 0 C-4 -2.7 4 -2.7 12 0 C4 2.7 -4 2.7 -12 0Z" fill="#c6b2aa" fill-opacity="0.95"/><ellipse cx="0" cy="0" rx="3.12" ry="1.13" fill="#94766e"/></g><g transform="translate(45.76 28.2) rotate(-48)"><path d="M-12 0 C-4 -2.7 4 -2.7 12 0 C4 2.7 -4 2.7 -12 0Z" fill="#c6b2aa" fill-opacity="0.95"/><ellipse cx="0" cy="0" rx="3.12" ry="1.13" fill="#94766e"/></g><g transform="translate(58.86 13.76) rotate(-48)"><path d="M-12 0 C-4 -2.7 4 -2.7 12 0 C4 2.7 -4 2.7 -12 0Z" fill="#c6b2aa" fill-opacity="0.95"/><ellipse cx="0" cy="0" rx="3.12" ry="1.13" fill="#94766e"/></g><g transform="translate(27.63 54.21) rotate(-48)"><path d="M-12 0 C-4 -2.7 4 -2.7 12 0 C4 2.7 -4 2.7 -12 0Z" fill="#c6b2aa" fill-opacity="0.95"/><ellipse cx="0" cy="0" rx="3.12" ry="1.13" fill="#94766e"/></g><g transform="translate(41.24 39.76) rotate(-48)"><path d="M-12 0 C-4 -2.7 4 -2.7 12 0 C4 2.7 -4 2.7 -12 0Z" fill="#c6b2aa" fill-opacity="0.95"/><ellipse cx="0" cy="0" rx="3.12" ry="1.13" fill="#94766e"/></g><g transform="translate(55.04 24.11) rotate(-48)"><path d="M-12 0 C-4 -2.7 4 -2.7 12 0 C4 2.7 -4 2.7 -12 0Z" fill="#c6b2aa" fill-opacity="0.95"/><ellipse cx="0" cy="0" rx="3.12" ry="1.13" fill="#94766e"/></g><g transform="translate(37.9 49.38) rotate(-48)"><path d="M-12 0 C-4 -2.7 4 -2.7 12 0 C4 2.7 -4 2.7 -12 0Z" fill="#c6b2aa" fill-opacity="0.95"/><ellipse cx="0" cy="0" rx="3.12" ry="1.13" fill="#94766e"/></g><g transform="translate(52.13 32.81) rotate(-48)"><path d="M-12 0 C-4 -2.7 4 -2.7 12 0 C4 2.7 -4 2.7 -12 0Z" fill="#c6b2aa" fill-opacity="0.95"/><ellipse cx="0" cy="0" rx="3.12" ry="1.13" fill="#94766e"/></g><g transform="translate(61.84 28.07) rotate(-48)"><path d="M-12 0 C-4 -2.7 4 -2.7 12 0 C4 2.7 -4 2.7 -12 0Z" fill="#c6b2aa" fill-opacity="0.95"/><ellipse cx="0" cy="0" rx="3.12" ry="1.13" fill="#94766e"/></g><path d="M-8.5 0C-4.25 -0.45 -4.5 -0.6 -2.6 -2.25L-3.2 -3.75L-1 -2.7C0.8 -2.55 2.4 -0.6 4.25 -0.45L8.5 0L4.25 0.45C2.2 0.6 0.6 2.4 -0.8 2.7L-2.8 3.9L-2.5 2.1C-4.4 0.6 -4.25 0.45 -8.5 0Z" fill="#e1b32c" transform="translate(31.25 12.25) rotate(-52)"/><path d="M-7.5 0C-3.75 -0.45 -4.5 -0.6 -2.6 -2.25L-3.2 -3.75L-1 -2.7C0.8 -2.55 2.4 -0.6 3.75 -0.45L7.5 0L3.75 0.45C2.2 0.6 0.6 2.4 -0.8 2.7L-2.8 3.9L-2.5 2.1C-4.4 0.6 -3.75 0.45 -7.5 0Z" fill="#e1b32c" transform="translate(49.4 3.5) rotate(-52)"/><path d="M-7.5 0C-3.75 -0.45 -4.5 -0.6 -2.6 -2.25L-3.2 -3.75L-1 -2.7C0.8 -2.55 2.4 -0.6 3.75 -0.45L7.5 0L3.75 0.45C2.2 0.6 0.6 2.4 -0.8 2.7L-2.8 3.9L-2.5 2.1C-4.4 0.6 -3.75 0.45 -7.5 0Z" fill="#e1b32c" transform="translate(14.4 34.75) rotate(-52)"/><path d="M-8.5 0C-4.25 -0.45 -4.5 -0.6 -2.6 -2.25L-3.2 -3.75L-1 -2.7C0.8 -2.55 2.4 -0.6 4.25 -0.45L8.5 0L4.25 0.45C2.2 0.6 0.6 2.4 -0.8 2.7L-2.8 3.9L-2.5 2.1C-4.4 0.6 -4.25 0.45 -8.5 0Z" fill="#e1b32c" transform="translate(31.25 36.6) rotate(-52)"/><path d="M-7 0C-3.5 -0.45 -4.5 -0.6 -2.6 -2.25L-3.2 -3.75L-1 -2.7C0.8 -2.55 2.4 -0.6 3.5 -0.45L7 0L3.5 0.45C2.2 0.6 0.6 2.4 -0.8 2.7L-2.8 3.9L-2.5 2.1C-4.4 0.6 -3.5 0.45 -7 0Z" fill="#e1b32c" transform="translate(50.6 26) rotate(-52)"/>
</g>
<rect x="0" y="0" width="53.2" height="53.2" fill="none" stroke="#222" stroke-width="0.9"/>
</g>
<text x="364.6" y="583.1" text-anchor="middle" fill="#c27a34" stroke="#c27a34">Smooth muscle FOLR2</text>
<defs><linearGradient id="tg" x1="0" y1="0" x2="1" y2="0"><stop offset="0" stop-color="#f8d6d6"/><stop offset="1" stop-color="#ee98a4"/></linearGradient></defs>
<path d="M182.7 663.2 L399 647 L399 668 L182.7 668 Z" fill="url(#tg)" stroke="#3f5fc0" stroke-width="0.8"/>
<text x="397" y="660.2" text-anchor="end" fill="#000" stroke="#000">Distance to the tumor</text>
<text x="456" y="385.6" stroke="#111">Neutrophil</text><text x="456" y="404.1" stroke="#111">Plasma Cell</text><text x="456" y="422.5" stroke="#111">CD4T Cell</text><text x="456" y="440.7" stroke="#111">CD8T Cell</text><text x="456" y="459.1" stroke="#111">Dendritic Cell</text><text x="456" y="477.9" stroke="#111">Mast Cell</text><text x="456" y="496.5" stroke="#111">PDGFRβ fibroblast</text><text x="456" y="514.4" stroke="#111">FAP fibroblast</text><text x="456" y="532.9" stroke="#111">SM Cell</text><text x="456" y="551.7" stroke="#111">CD68 TAM</text><text x="456" y="570.2" stroke="#111">SPP1 TAM</text><text x="456" y="588.4" stroke="#111">FOLR2 TAM</text><text x="456" y="607.1" stroke="#111">LYVE1 TAM</text><text x="456" y="625.3" stroke="#111">Tumor Cell</text><text x="474.5" y="644.1" text-anchor="middle" stroke="#111">Hypoxic</text><text x="474.5" y="654" text-anchor="middle" stroke="#111">Tumor Cell</text><circle cx="438" cy="383.2" r="6.1" fill="#c8e0dc" fill-opacity="0.95" stroke="#b6d4ce" stroke-width="0.25"/><path d="M435 381.5 q1.5 -1.5 3 0 M438 385.5 q2 1 3.5 -1" fill="none" stroke="#b4d4ce" stroke-width="0.6"/><g transform="translate(438.8 401.6) rotate(0)"><ellipse cx="0" cy="0" rx="7.6" ry="4.9" fill="#5270bc"/><ellipse cx="0.8" cy="0" rx="4.56" ry="3.43" fill="#6482ca" fill-opacity="0.6"/><circle cx="-3.19" cy="0" r="2.55" fill="#27399a"/></g><circle cx="438.5" cy="420" r="5" fill="#85c9c7"/><circle cx="438.5" cy="420" r="3" fill="#4379d8"/><circle cx="438.5" cy="438.2" r="5" fill="#b0198e"/><circle cx="438.5" cy="438.2" r="3" fill="#4379d8"/><g transform="translate(439.7 457.4) scale(0.95)" fill="none" stroke="#4f922c" stroke-width="1.05" stroke-linecap="round"><path d="M0 0 Q5 1.8 10 0"/><path d="M0 0 Q2.76 3.91 7.37 5.16"/><path d="M0 0 Q0.48 5.29 4.23 9.06"/><path d="M0 0 Q-2.9 5.07 -1.91 10.83"/><path d="M0 0 Q-4.59 2.67 -6.43 7.66"/><path d="M0 0 Q-6.38 0.02 -11.28 4.1"/><path d="M0 0 Q-4.8 -3.34 -10.63 -2.85"/><path d="M0 0 Q-2.04 -4.33 -6.36 -6.36"/><path d="M0 0 Q0.9 -5.24 -1.74 -9.85"/><path d="M0 0 Q3.06 -3.67 3.08 -8.46"/><path d="M0 0 Q5.13 -1.39 8.19 -5.74"/><ellipse cx="0" cy="0" rx="4.1" ry="3.4" fill="#4f922c" stroke="none"/><ellipse cx="0.6" cy="0.2" rx="1.9" ry="1.4" fill="#3f74d6" stroke="none" transform="rotate(-25)"/></g><circle cx="438.5" cy="476.6" r="4.3" fill="#aaa6e0"/><circle cx="438.5" cy="476.6" r="1.94" fill="#8f8ad0"/><g transform="translate(437.6 494.1) rotate(0)"><path d="M-15.75 0 C-5.25 -0.8 5.25 -0.8 15.75 0 C5.25 0.8 -5.25 0.8 -15.75 0Z" fill="#6f86c6" fill-opacity="1"/></g><g transform="translate(437.6 512) rotate(0)"><path d="M-15.75 0 C-5.25 -0.9 5.25 -0.9 15.75 0 C5.25 0.9 -5.25 0.9 -15.75 0Z" fill="#55a038" fill-opacity="1"/></g><g transform="translate(437.4 531.3) rotate(0)"><path d="M-13.25 0 C-4.42 -3 4.42 -3 13.25 0 C4.42 3 -4.42 3 -13.25 0Z" fill="#c6b0a8" fill-opacity="1"/><ellipse cx="0" cy="0" rx="3.45" ry="1.26" fill="#8a6a60"/></g><polygon points="445.14,549.99 442.54,551.16 443.04,553.98 440.21,553.56 439.11,556.19 436.96,554.31 434.61,555.93 433.82,553.19 430.96,553.28 431.78,550.55 429.33,549.08 431.5,547.22 430.22,544.67 433.05,544.27 433.37,541.43 435.96,542.63 437.76,540.41 439.29,542.82 442,541.93 441.99,544.79 444.76,545.5 443.2,547.89" fill="#d23436"/><circle cx="437.3" cy="548.4" r="5.6" fill="#d94444"/><circle cx="437.3" cy="548.4" r="3.36" fill="#ae1a24"/><g><ellipse cx="437.6" cy="568.4" rx="5.5" ry="6.4" fill="#f8d468" stroke="#eeb040" stroke-width="0.4"/><ellipse cx="437.6" cy="568.4" rx="3.41" ry="3.97" fill="#2f72f2"/></g><path d="M-13.75 0C-6.88 -0.45 0 -0.6 1.9 -1.95L1.3 -3.25L3.5 -2.34C5.3 -2.21 6.9 -0.6 9.12 -0.45L13.75 0L9.12 0.45C6.7 0.6 5.1 2.08 3.7 2.34L1.7 3.38L2 1.82C0.1 0.6 -6.88 0.45 -13.75 0Z" fill="#dcb02a" transform="translate(437.6 585.8) rotate(183)"/><g transform="translate(439.4 605.4) rotate(-2)"><path d="M-11.75 0 C-3.92 -2.8 3.92 -2.8 11.75 0 C3.92 2.8 -3.92 2.8 -11.75 0Z" fill="#b4dae8" fill-opacity="1"/><ellipse cx="0" cy="0" rx="3.06" ry="1.18" fill="#9ccbdc"/></g><circle cx="438.6" cy="623" r="8" fill="#e9a2a2" fill-opacity="1" stroke="#d88a8a" stroke-width="0.45"/><circle cx="439" cy="622.4" r="3.68" fill="#c67474" fill-opacity="0.92"/><circle cx="439.3" cy="650" r="8" fill="#f9d6e0" fill-opacity="1" stroke="#f0c0d0" stroke-width="0.45"/><circle cx="439.6" cy="650.5" r="3.68" fill="#f1b6ca" fill-opacity="0.92"/>
</svg>
</body></html>
